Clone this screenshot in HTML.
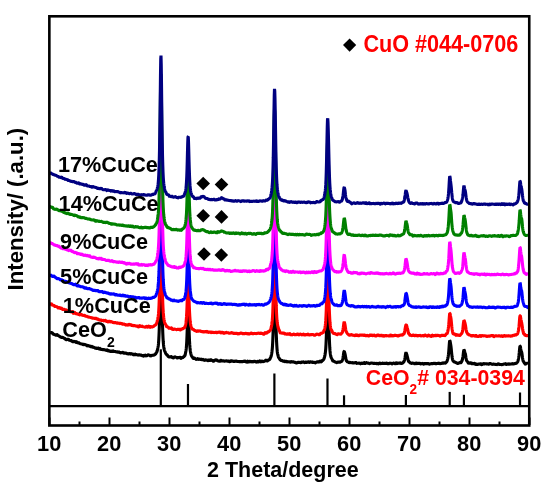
<!DOCTYPE html>
<html><head><meta charset="utf-8"><style>
html,body{margin:0;padding:0;background:#fff;}
svg{display:block;filter:blur(0.35px);}
text{font-family:"Liberation Sans",Arial,sans-serif;font-weight:bold;}
</style></head><body>
<svg width="550" height="490" viewBox="0 0 550 490">
<rect width="550" height="490" fill="#fff"/>
<g fill="none" stroke-width="3.1" stroke-linejoin="bevel" stroke-linecap="butt">
<path d="M50.00 332.48 L50.25 332.62 L50.50 332.62 L50.75 332.54 L51.00 332.50 L51.25 332.51 L51.50 332.61 L51.75 332.71 L52.00 332.76 L52.25 332.84 L52.50 333.07 L52.75 333.53 L53.00 334.01 L53.25 334.18 L53.50 334.14 L53.75 334.16 L54.00 334.29 L54.25 334.55 L54.50 334.75 L54.75 334.75 L55.00 334.59 L55.25 334.48 L55.50 334.63 L55.75 334.95 L56.00 335.31 L56.25 335.48 L56.50 335.26 L56.75 334.86 L57.00 334.58 L57.25 334.60 L57.50 335.01 L57.75 335.55 L58.00 335.83 L58.25 335.76 L58.50 335.69 L58.75 335.83 L59.00 335.96 L59.25 336.03 L59.50 336.26 L59.75 336.60 L60.00 336.83 L60.25 336.86 L60.50 336.95 L60.75 337.12 L61.00 337.22 L61.25 337.28 L61.50 337.37 L61.75 337.49 L62.00 337.44 L62.25 337.27 L62.50 337.26 L62.75 337.41 L63.00 337.58 L63.25 337.66 L63.50 337.77 L63.75 338.03 L64.00 338.31 L64.25 338.37 L64.50 338.23 L64.75 338.18 L65.00 338.48 L65.25 338.97 L65.50 339.31 L65.75 339.49 L66.00 339.62 L66.25 339.71 L66.50 339.65 L66.75 339.58 L67.00 339.58 L67.25 339.48 L67.50 339.32 L67.75 339.25 L68.00 339.32 L68.25 339.38 L68.50 339.40 L68.75 339.50 L69.00 339.80 L69.25 340.27 L69.50 340.66 L69.75 340.55 L70.00 340.06 L70.25 339.86 L70.50 340.19 L70.75 340.62 L71.00 340.72 L71.25 340.58 L71.50 340.62 L71.75 340.99 L72.00 341.41 L72.25 341.50 L72.50 341.39 L72.75 341.51 L73.00 341.84 L73.25 341.98 L73.50 341.74 L73.75 341.39 L74.00 341.31 L74.25 341.52 L74.50 341.87 L74.75 342.06 L75.00 341.90 L75.25 341.56 L75.50 341.35 L75.75 341.52 L76.00 342.02 L76.25 342.48 L76.50 342.60 L76.75 342.37 L77.00 342.12 L77.25 342.15 L77.50 342.51 L77.75 342.98 L78.00 343.21 L78.25 343.04 L78.50 342.76 L78.75 342.67 L79.00 342.82 L79.25 343.10 L79.50 343.40 L79.75 343.59 L80.00 343.63 L80.25 343.70 L80.50 343.78 L80.75 343.81 L81.00 343.83 L81.25 343.95 L81.50 344.06 L81.75 344.04 L82.00 343.97 L82.25 343.96 L82.50 344.13 L82.75 344.45 L83.00 344.70 L83.25 344.69 L83.50 344.50 L83.75 344.36 L84.00 344.39 L84.25 344.51 L84.50 344.53 L84.75 344.47 L85.00 344.56 L85.25 344.78 L85.50 344.91 L85.75 344.80 L86.00 344.69 L86.25 344.87 L86.50 345.24 L86.75 345.64 L87.00 345.85 L87.25 345.85 L87.50 345.75 L87.75 345.59 L88.00 345.45 L88.25 345.46 L88.50 345.69 L88.75 345.94 L89.00 346.06 L89.25 346.00 L89.50 345.90 L89.75 345.97 L90.00 346.21 L90.25 346.50 L90.50 346.68 L90.75 346.78 L91.00 346.77 L91.25 346.52 L91.50 346.24 L91.75 346.30 L92.00 346.69 L92.25 347.10 L92.50 347.28 L92.75 347.31 L93.00 347.22 L93.25 347.05 L93.50 347.06 L93.75 347.29 L94.00 347.51 L94.25 347.54 L94.50 347.56 L94.75 347.79 L95.00 348.15 L95.25 348.35 L95.50 348.26 L95.75 348.07 L96.00 348.14 L96.25 348.38 L96.50 348.43 L96.75 348.30 L97.00 348.27 L97.25 348.38 L97.50 348.35 L97.75 348.24 L98.00 348.11 L98.25 348.01 L98.50 348.11 L98.75 348.47 L99.00 348.89 L99.25 348.95 L99.50 348.60 L99.75 348.28 L100.00 348.37 L100.25 348.86 L100.50 349.37 L100.75 349.55 L101.00 349.43 L101.25 349.36 L101.50 349.37 L101.75 349.35 L102.00 349.35 L102.25 349.44 L102.50 349.61 L102.75 349.67 L103.00 349.62 L103.25 349.55 L103.50 349.48 L103.75 349.43 L104.00 349.44 L104.25 349.61 L104.50 349.89 L104.75 350.07 L105.00 350.01 L105.25 349.80 L105.50 349.73 L105.75 349.93 L106.00 350.23 L106.25 350.41 L106.50 350.33 L106.75 350.05 L107.00 349.81 L107.25 349.80 L107.50 350.08 L107.75 350.47 L108.00 350.81 L108.25 351.04 L108.50 351.03 L108.75 350.87 L109.00 350.73 L109.25 350.73 L109.50 350.86 L109.75 350.94 L110.00 351.10 L110.25 351.40 L110.50 351.53 L110.75 351.37 L111.00 351.15 L111.25 351.14 L111.50 351.31 L111.75 351.44 L112.00 351.51 L112.25 351.51 L112.50 351.32 L112.75 351.02 L113.00 350.84 L113.25 350.92 L113.50 351.15 L113.75 351.36 L114.00 351.47 L114.25 351.52 L114.50 351.56 L114.75 351.56 L115.00 351.55 L115.25 351.60 L115.50 351.65 L115.75 351.65 L116.00 351.69 L116.25 351.88 L116.50 352.07 L116.75 352.05 L117.00 351.88 L117.25 351.69 L117.50 351.69 L117.75 351.90 L118.00 352.18 L118.25 352.27 L118.50 352.05 L118.75 351.82 L119.00 351.90 L119.25 352.22 L119.50 352.47 L119.75 352.55 L120.00 352.58 L120.25 352.68 L120.50 352.92 L120.75 353.04 L121.00 352.89 L121.25 352.63 L121.50 352.57 L121.75 352.81 L122.00 352.91 L122.25 352.76 L122.50 352.53 L122.75 352.38 L123.00 352.39 L123.25 352.58 L123.50 352.92 L123.75 353.18 L124.00 353.28 L124.25 353.21 L124.50 353.06 L124.75 353.07 L125.00 353.17 L125.25 353.16 L125.50 353.03 L125.75 352.95 L126.00 353.06 L126.25 353.20 L126.50 353.43 L126.75 353.70 L127.00 353.71 L127.25 353.52 L127.50 353.51 L127.75 353.75 L128.00 353.98 L128.25 354.02 L128.50 353.98 L128.75 353.89 L129.00 353.70 L129.25 353.51 L129.50 353.38 L129.75 353.47 L130.00 353.75 L130.25 354.07 L130.50 354.15 L130.75 353.91 L131.00 353.66 L131.25 353.68 L131.50 354.05 L131.75 354.38 L132.00 354.20 L132.25 353.73 L132.50 353.55 L132.75 353.95 L133.00 354.52 L133.25 354.73 L133.50 354.76 L133.75 354.82 L134.00 354.84 L134.25 354.65 L134.50 354.21 L134.75 353.91 L135.00 353.99 L135.25 354.33 L135.50 354.59 L135.75 354.61 L136.00 354.51 L136.25 354.41 L136.50 354.47 L136.75 354.62 L137.00 354.76 L137.25 354.80 L137.50 354.87 L137.75 355.05 L138.00 355.16 L138.25 355.09 L138.50 354.91 L138.75 354.73 L139.00 354.68 L139.25 354.70 L139.50 354.80 L139.75 354.97 L140.00 355.11 L140.25 355.18 L140.50 355.13 L140.75 355.06 L141.00 355.05 L141.25 355.09 L141.50 355.23 L141.75 355.47 L142.00 355.69 L142.25 355.72 L142.50 355.63 L142.75 355.68 L143.00 355.98 L143.25 356.28 L143.50 356.20 L143.75 355.80 L144.00 355.39 L144.25 355.37 L144.50 355.69 L144.75 355.85 L145.00 355.58 L145.25 355.16 L145.50 355.15 L145.75 355.55 L146.00 355.89 L146.25 355.94 L146.50 355.83 L146.75 355.73 L147.00 355.68 L147.25 355.55 L147.50 355.29 L147.75 354.97 L148.00 354.71 L148.25 354.69 L148.50 354.87 L148.75 355.06 L149.00 355.15 L149.25 355.19 L149.50 355.20 L149.75 355.24 L150.00 355.45 L150.25 355.85 L150.50 356.12 L150.75 356.01 L151.00 355.72 L151.25 355.53 L151.50 355.51 L151.75 355.53 L152.00 355.42 L152.25 355.22 L152.50 355.13 L152.75 355.20 L153.00 355.26 L153.25 355.17 L153.50 355.15 L153.75 355.17 L154.00 355.09 L154.25 354.97 L154.50 354.81 L154.75 354.68 L155.00 354.50 L155.25 354.30 L155.50 354.11 L155.75 353.75 L156.00 353.28 L156.25 352.84 L156.50 352.42 L156.75 352.01 L157.00 351.50 L157.25 350.78 L157.50 349.70 L157.75 348.43 L158.00 347.26 L158.25 345.92 L158.50 343.65 L158.75 340.05 L159.00 335.24 L159.25 329.03 L159.50 320.47 L159.75 308.54 L160.00 293.14 L160.25 275.41 L160.50 258.21 L160.75 246.25 L161.00 243.86 L161.25 251.77 L161.50 266.86 L161.75 284.50 L162.00 300.94 L162.25 314.42 L162.50 324.71 L162.75 332.30 L163.00 337.78 L163.25 341.74 L163.50 344.65 L163.75 346.79 L164.00 348.39 L164.25 349.55 L164.50 350.44 L164.75 351.12 L165.00 351.67 L165.25 352.23 L165.50 352.88 L165.75 353.52 L166.00 353.90 L166.25 354.06 L166.50 354.37 L166.75 354.79 L167.00 355.02 L167.25 355.04 L167.50 355.25 L167.75 355.82 L168.00 356.31 L168.25 356.49 L168.50 356.56 L168.75 356.71 L169.00 356.93 L169.25 357.02 L169.50 356.99 L169.75 356.94 L170.00 356.94 L170.25 357.00 L170.50 356.87 L170.75 356.53 L171.00 356.31 L171.25 356.52 L171.50 356.98 L171.75 357.27 L172.00 357.38 L172.25 357.52 L172.50 357.66 L172.75 357.77 L173.00 357.81 L173.25 357.85 L173.50 357.89 L173.75 357.72 L174.00 357.37 L174.25 357.08 L174.50 356.95 L174.75 356.93 L175.00 356.82 L175.25 356.80 L175.50 357.04 L175.75 357.30 L176.00 357.34 L176.25 357.33 L176.50 357.46 L176.75 357.71 L177.00 357.94 L177.25 358.00 L177.50 357.91 L177.75 357.70 L178.00 357.47 L178.25 357.44 L178.50 357.53 L178.75 357.61 L179.00 357.60 L179.25 357.53 L179.50 357.49 L179.75 357.38 L180.00 357.29 L180.25 357.39 L180.50 357.71 L180.75 358.13 L181.00 358.48 L181.25 358.50 L181.50 358.03 L181.75 357.48 L182.00 357.49 L182.25 357.86 L182.50 358.01 L182.75 357.75 L183.00 357.29 L183.25 357.01 L183.50 356.89 L183.75 356.78 L184.00 356.62 L184.25 356.26 L184.50 355.90 L184.75 355.73 L185.00 355.38 L185.25 354.49 L185.50 353.10 L185.75 351.75 L186.00 350.52 L186.25 348.68 L186.50 345.73 L186.75 341.49 L187.00 335.86 L187.25 328.87 L187.50 320.96 L187.75 313.76 L188.00 309.49 L188.25 309.54 L188.50 313.57 L188.75 320.21 L189.00 327.87 L189.25 335.01 L189.50 340.76 L189.75 344.96 L190.00 347.95 L190.25 350.19 L190.50 351.92 L190.75 353.27 L191.00 354.33 L191.25 355.16 L191.50 355.82 L191.75 356.32 L192.00 356.65 L192.25 356.89 L192.50 357.22 L192.75 357.65 L193.00 358.09 L193.25 358.35 L193.50 358.35 L193.75 358.18 L194.00 357.99 L194.25 357.95 L194.50 358.06 L194.75 358.23 L195.00 358.48 L195.25 358.68 L195.50 358.75 L195.75 358.77 L196.00 358.99 L196.25 359.40 L196.50 359.55 L196.75 359.34 L197.00 359.07 L197.25 358.93 L197.50 358.81 L197.75 358.58 L198.00 358.53 L198.25 358.92 L198.50 359.44 L198.75 359.55 L199.00 359.26 L199.25 358.98 L199.50 359.03 L199.75 359.21 L200.00 359.32 L200.25 359.40 L200.50 359.33 L200.75 359.20 L201.00 359.16 L201.25 359.16 L201.50 359.21 L201.75 359.42 L202.00 359.76 L202.25 359.86 L202.50 359.56 L202.75 359.31 L203.00 359.39 L203.25 359.67 L203.50 359.91 L203.75 360.06 L204.00 360.11 L204.25 360.05 L204.50 360.13 L204.75 360.35 L205.00 360.42 L205.25 360.15 L205.50 359.76 L205.75 359.69 L206.00 359.86 L206.25 359.98 L206.50 360.00 L206.75 360.04 L207.00 360.18 L207.25 360.36 L207.50 360.58 L207.75 360.78 L208.00 360.73 L208.25 360.38 L208.50 360.00 L208.75 359.89 L209.00 360.04 L209.25 360.29 L209.50 360.49 L209.75 360.57 L210.00 360.46 L210.25 360.14 L210.50 359.82 L210.75 359.70 L211.00 359.80 L211.25 360.00 L211.50 360.13 L211.75 360.30 L212.00 360.49 L212.25 360.56 L212.50 360.57 L212.75 360.61 L213.00 360.87 L213.25 361.19 L213.50 361.29 L213.75 361.17 L214.00 360.88 L214.25 360.57 L214.50 360.34 L214.75 360.28 L215.00 360.33 L215.25 360.27 L215.50 360.02 L215.75 359.81 L216.00 359.84 L216.25 360.01 L216.50 360.11 L216.75 360.08 L217.00 360.11 L217.25 360.33 L217.50 360.76 L217.75 361.07 L218.00 361.05 L218.25 360.88 L218.50 360.82 L218.75 361.03 L219.00 361.21 L219.25 361.24 L219.50 361.27 L219.75 361.33 L220.00 361.23 L220.25 360.88 L220.50 360.48 L220.75 360.27 L221.00 360.28 L221.25 360.47 L221.50 360.72 L221.75 360.93 L222.00 360.97 L222.25 360.93 L222.50 360.89 L222.75 360.90 L223.00 360.87 L223.25 360.76 L223.50 360.76 L223.75 360.95 L224.00 361.08 L224.25 361.06 L224.50 361.07 L224.75 361.22 L225.00 361.24 L225.25 361.11 L225.50 361.02 L225.75 361.00 L226.00 360.93 L226.25 360.75 L226.50 360.72 L226.75 360.94 L227.00 361.14 L227.25 361.14 L227.50 361.02 L227.75 361.00 L228.00 361.11 L228.25 361.11 L228.50 361.05 L228.75 361.08 L229.00 361.27 L229.25 361.56 L229.50 361.78 L229.75 361.80 L230.00 361.57 L230.25 361.37 L230.50 361.26 L230.75 361.04 L231.00 360.79 L231.25 360.69 L231.50 360.83 L231.75 361.01 L232.00 361.14 L232.25 361.24 L232.50 361.23 L232.75 361.11 L233.00 361.09 L233.25 361.28 L233.50 361.54 L233.75 361.58 L234.00 361.31 L234.25 361.16 L234.50 361.28 L234.75 361.40 L235.00 361.33 L235.25 361.09 L235.50 361.01 L235.75 361.14 L236.00 361.26 L236.25 361.24 L236.50 361.06 L236.75 361.07 L237.00 361.29 L237.25 361.48 L237.50 361.57 L237.75 361.53 L238.00 361.45 L238.25 361.41 L238.50 361.45 L238.75 361.54 L239.00 361.64 L239.25 361.64 L239.50 361.58 L239.75 361.61 L240.00 361.63 L240.25 361.54 L240.50 361.42 L240.75 361.51 L241.00 361.78 L241.25 361.85 L241.50 361.74 L241.75 361.67 L242.00 361.60 L242.25 361.60 L242.50 361.66 L242.75 361.62 L243.00 361.43 L243.25 361.25 L243.50 361.34 L243.75 361.49 L244.00 361.43 L244.25 361.28 L244.50 361.15 L244.75 361.10 L245.00 361.13 L245.25 361.29 L245.50 361.49 L245.75 361.61 L246.00 361.69 L246.25 361.87 L246.50 362.15 L246.75 362.31 L247.00 362.16 L247.25 361.66 L247.50 361.13 L247.75 361.01 L248.00 361.31 L248.25 361.70 L248.50 361.92 L248.75 361.96 L249.00 361.87 L249.25 361.64 L249.50 361.40 L249.75 361.32 L250.00 361.29 L250.25 361.26 L250.50 361.40 L250.75 361.68 L251.00 361.90 L251.25 361.84 L251.50 361.69 L251.75 361.61 L252.00 361.54 L252.25 361.50 L252.50 361.60 L252.75 361.81 L253.00 361.87 L253.25 361.70 L253.50 361.48 L253.75 361.38 L254.00 361.38 L254.25 361.35 L254.50 361.31 L254.75 361.33 L255.00 361.37 L255.25 361.45 L255.50 361.66 L255.75 361.99 L256.00 362.21 L256.25 362.11 L256.50 361.89 L256.75 361.86 L257.00 361.85 L257.25 361.64 L257.50 361.34 L257.75 361.29 L258.00 361.64 L258.25 362.00 L258.50 362.03 L258.75 361.78 L259.00 361.62 L259.25 361.59 L259.50 361.30 L259.75 360.83 L260.00 360.67 L260.25 361.04 L260.50 361.59 L260.75 361.90 L261.00 361.92 L261.25 361.66 L261.50 361.30 L261.75 361.07 L262.00 361.07 L262.25 361.20 L262.50 361.37 L262.75 361.53 L263.00 361.69 L263.25 361.71 L263.50 361.58 L263.75 361.48 L264.00 361.37 L264.25 361.21 L264.50 361.08 L264.75 361.06 L265.00 360.98 L265.25 360.66 L265.50 360.32 L265.75 360.18 L266.00 360.16 L266.25 360.22 L266.50 360.40 L266.75 360.67 L267.00 360.92 L267.25 360.98 L267.50 360.86 L267.75 360.60 L268.00 360.29 L268.25 360.15 L268.50 360.05 L268.75 359.90 L269.00 359.77 L269.25 359.67 L269.50 359.62 L269.75 359.40 L270.00 358.84 L270.25 358.18 L270.50 357.61 L270.75 357.18 L271.00 356.63 L271.25 355.74 L271.50 354.58 L271.75 353.17 L272.00 351.43 L272.25 349.06 L272.50 345.76 L272.75 341.16 L273.00 334.86 L273.25 326.40 L273.50 315.51 L273.75 302.38 L274.00 288.37 L274.25 276.78 L274.50 271.31 L274.75 273.03 L275.00 280.10 L275.25 290.74 L275.50 303.35 L275.75 315.69 L276.00 326.04 L276.25 333.95 L276.50 339.99 L276.75 344.87 L277.00 348.68 L277.25 351.44 L277.50 353.30 L277.75 354.50 L278.00 355.42 L278.25 356.36 L278.50 357.23 L278.75 357.70 L279.00 357.94 L279.25 358.30 L279.50 358.82 L279.75 359.30 L280.00 359.62 L280.25 359.83 L280.50 360.00 L280.75 360.21 L281.00 360.38 L281.25 360.41 L281.50 360.38 L281.75 360.43 L282.00 360.51 L282.25 360.63 L282.50 360.93 L282.75 361.16 L283.00 361.15 L283.25 360.95 L283.50 360.84 L283.75 360.93 L284.00 361.04 L284.25 361.23 L284.50 361.55 L284.75 361.78 L285.00 361.71 L285.25 361.45 L285.50 361.24 L285.75 361.22 L286.00 361.29 L286.25 361.32 L286.50 361.47 L286.75 361.69 L287.00 361.85 L287.25 361.84 L287.50 361.65 L287.75 361.59 L288.00 361.68 L288.25 361.76 L288.50 361.70 L288.75 361.56 L289.00 361.67 L289.25 361.92 L289.50 362.06 L289.75 362.05 L290.00 362.05 L290.25 362.16 L290.50 362.12 L290.75 361.87 L291.00 361.63 L291.25 361.61 L291.50 361.77 L291.75 361.83 L292.00 361.81 L292.25 361.85 L292.50 362.01 L292.75 362.09 L293.00 361.96 L293.25 361.80 L293.50 361.84 L293.75 361.95 L294.00 362.06 L294.25 362.20 L294.50 362.36 L294.75 362.43 L295.00 362.34 L295.25 362.30 L295.50 362.45 L295.75 362.65 L296.00 362.86 L296.25 363.00 L296.50 363.07 L296.75 363.02 L297.00 362.84 L297.25 362.59 L297.50 362.41 L297.75 362.37 L298.00 362.41 L298.25 362.41 L298.50 362.35 L298.75 362.35 L299.00 362.42 L299.25 362.45 L299.50 362.42 L299.75 362.42 L300.00 362.48 L300.25 362.62 L300.50 362.76 L300.75 362.76 L301.00 362.53 L301.25 362.18 L301.50 361.94 L301.75 361.93 L302.00 362.09 L302.25 362.25 L302.50 362.26 L302.75 362.09 L303.00 361.95 L303.25 361.90 L303.50 361.90 L303.75 362.00 L304.00 362.28 L304.25 362.57 L304.50 362.62 L304.75 362.48 L305.00 362.53 L305.25 362.70 L305.50 362.55 L305.75 362.21 L306.00 362.08 L306.25 362.05 L306.50 361.76 L306.75 361.52 L307.00 361.88 L307.25 362.55 L307.50 362.75 L307.75 362.36 L308.00 361.92 L308.25 361.73 L308.50 361.79 L308.75 361.98 L309.00 362.28 L309.25 362.54 L309.50 362.56 L309.75 362.34 L310.00 361.99 L310.25 361.75 L310.50 361.72 L310.75 361.79 L311.00 361.76 L311.25 361.69 L311.50 361.86 L311.75 362.17 L312.00 362.23 L312.25 362.10 L312.50 362.18 L312.75 362.55 L313.00 362.80 L313.25 362.59 L313.50 362.26 L313.75 362.17 L314.00 362.29 L314.25 362.40 L314.50 362.45 L314.75 362.56 L315.00 362.79 L315.25 362.94 L315.50 362.88 L315.75 362.58 L316.00 362.25 L316.25 362.17 L316.50 362.23 L316.75 362.25 L317.00 362.02 L317.25 361.71 L317.50 361.61 L317.75 361.78 L318.00 362.08 L318.25 362.11 L318.50 361.86 L318.75 361.61 L319.00 361.64 L319.25 361.90 L319.50 361.86 L319.75 361.43 L320.00 361.01 L320.25 360.98 L320.50 361.34 L320.75 361.68 L321.00 361.83 L321.25 361.83 L321.50 361.59 L321.75 361.17 L322.00 360.78 L322.25 360.61 L322.50 360.56 L322.75 360.41 L323.00 360.12 L323.25 359.78 L323.50 359.55 L323.75 359.32 L324.00 358.84 L324.25 358.06 L324.50 357.17 L324.75 356.20 L325.00 354.96 L325.25 353.34 L325.50 351.33 L325.75 348.54 L326.00 344.36 L326.25 338.61 L326.50 331.22 L326.75 322.20 L327.00 311.88 L327.25 302.09 L327.50 295.97 L327.75 295.06 L328.00 298.27 L328.25 303.92 L328.50 311.41 L328.75 320.12 L329.00 328.71 L329.25 336.28 L329.50 342.57 L329.75 347.46 L330.00 350.88 L330.25 353.16 L330.50 354.83 L330.75 356.19 L331.00 357.12 L331.25 357.67 L331.50 358.15 L331.75 358.67 L332.00 359.17 L332.25 359.70 L332.50 360.28 L332.75 360.78 L333.00 361.03 L333.25 361.07 L333.50 361.12 L333.75 361.21 L334.00 361.30 L334.25 361.43 L334.50 361.63 L334.75 361.86 L335.00 361.94 L335.25 361.99 L335.50 362.10 L335.75 362.24 L336.00 362.31 L336.25 362.29 L336.50 362.42 L336.75 362.58 L337.00 362.58 L337.25 362.40 L337.50 362.15 L337.75 362.03 L338.00 362.02 L338.25 362.06 L338.50 362.13 L338.75 362.16 L339.00 362.09 L339.25 362.11 L339.50 362.30 L339.75 362.42 L340.00 362.27 L340.25 361.95 L340.50 361.72 L340.75 361.68 L341.00 361.64 L341.25 361.60 L341.50 361.54 L341.75 361.36 L342.00 360.96 L342.25 360.38 L342.50 359.74 L342.75 358.85 L343.00 357.57 L343.25 356.00 L343.50 354.26 L343.75 352.54 L344.00 351.33 L344.25 351.21 L344.50 351.93 L344.75 352.81 L345.00 353.77 L345.25 355.03 L345.50 356.56 L345.75 358.13 L346.00 359.49 L346.25 360.45 L346.50 360.88 L346.75 361.08 L347.00 361.44 L347.25 361.80 L347.50 361.89 L347.75 361.86 L348.00 361.94 L348.25 362.12 L348.50 362.22 L348.75 362.35 L349.00 362.67 L349.25 362.93 L349.50 362.77 L349.75 362.37 L350.00 362.25 L350.25 362.48 L350.50 362.64 L350.75 362.55 L351.00 362.53 L351.25 362.70 L351.50 362.78 L351.75 362.73 L352.00 362.67 L352.25 362.67 L352.50 362.83 L352.75 362.99 L353.00 363.01 L353.25 362.88 L353.50 362.76 L353.75 362.84 L354.00 362.96 L354.25 362.92 L354.50 362.68 L354.75 362.49 L355.00 362.54 L355.25 362.64 L355.50 362.57 L355.75 362.41 L356.00 362.57 L356.25 363.06 L356.50 363.46 L356.75 363.46 L357.00 363.12 L357.25 362.94 L357.50 363.10 L357.75 363.29 L358.00 363.29 L358.25 363.12 L358.50 363.11 L358.75 363.35 L359.00 363.47 L359.25 363.33 L359.50 363.11 L359.75 363.10 L360.00 363.33 L360.25 363.64 L360.50 363.86 L360.75 363.83 L361.00 363.54 L361.25 363.22 L361.50 363.07 L361.75 363.16 L362.00 363.36 L362.25 363.52 L362.50 363.52 L362.75 363.45 L363.00 363.42 L363.25 363.34 L363.50 363.11 L363.75 362.71 L364.00 362.38 L364.25 362.49 L364.50 363.00 L364.75 363.48 L365.00 363.62 L365.25 363.48 L365.50 363.30 L365.75 363.12 L366.00 362.85 L366.25 362.67 L366.50 362.66 L366.75 362.79 L367.00 363.00 L367.25 363.04 L367.50 362.99 L367.75 363.01 L368.00 363.17 L368.25 363.24 L368.50 363.12 L368.75 363.16 L369.00 363.48 L369.25 363.75 L369.50 363.72 L369.75 363.53 L370.00 363.37 L370.25 363.29 L370.50 363.23 L370.75 363.12 L371.00 363.04 L371.25 363.03 L371.50 363.06 L371.75 363.05 L372.00 363.05 L372.25 363.13 L372.50 363.23 L372.75 363.26 L373.00 363.29 L373.25 363.37 L373.50 363.35 L373.75 363.21 L374.00 363.15 L374.25 363.26 L374.50 363.42 L374.75 363.44 L375.00 363.38 L375.25 363.43 L375.50 363.46 L375.75 363.47 L376.00 363.53 L376.25 363.62 L376.50 363.60 L376.75 363.35 L377.00 363.24 L377.25 363.46 L377.50 363.74 L377.75 363.72 L378.00 363.45 L378.25 363.33 L378.50 363.55 L378.75 363.93 L379.00 364.00 L379.25 363.55 L379.50 363.01 L379.75 362.87 L380.00 363.16 L380.25 363.46 L380.50 363.56 L380.75 363.62 L381.00 363.64 L381.25 363.54 L381.50 363.45 L381.75 363.44 L382.00 363.35 L382.25 363.16 L382.50 363.16 L382.75 363.42 L383.00 363.58 L383.25 363.38 L383.50 363.17 L383.75 363.28 L384.00 363.55 L384.25 363.55 L384.50 363.34 L384.75 363.24 L385.00 363.33 L385.25 363.39 L385.50 363.34 L385.75 363.39 L386.00 363.41 L386.25 363.27 L386.50 363.14 L386.75 363.13 L387.00 363.29 L387.25 363.52 L387.50 363.70 L387.75 363.75 L388.00 363.65 L388.25 363.66 L388.50 363.72 L388.75 363.70 L389.00 363.60 L389.25 363.39 L389.50 363.18 L389.75 363.09 L390.00 363.15 L390.25 363.22 L390.50 363.20 L390.75 363.15 L391.00 363.24 L391.25 363.44 L391.50 363.61 L391.75 363.81 L392.00 363.98 L392.25 363.97 L392.50 363.73 L392.75 363.42 L393.00 363.25 L393.25 363.17 L393.50 363.10 L393.75 363.14 L394.00 363.21 L394.25 363.21 L394.50 363.31 L394.75 363.50 L395.00 363.63 L395.25 363.69 L395.50 363.61 L395.75 363.31 L396.00 362.84 L396.25 362.54 L396.50 362.71 L396.75 363.20 L397.00 363.66 L397.25 363.76 L397.50 363.50 L397.75 363.26 L398.00 363.25 L398.25 363.31 L398.50 363.20 L398.75 363.02 L399.00 363.02 L399.25 363.14 L399.50 363.16 L399.75 363.04 L400.00 362.90 L400.25 362.92 L400.50 363.11 L400.75 363.35 L401.00 363.55 L401.25 363.59 L401.50 363.49 L401.75 363.34 L402.00 363.26 L402.25 363.28 L402.50 363.23 L402.75 362.96 L403.00 362.56 L403.25 362.28 L403.50 362.20 L403.75 362.01 L404.00 361.55 L404.25 360.92 L404.50 360.25 L404.75 359.35 L405.00 357.95 L405.25 356.15 L405.50 354.34 L405.75 353.03 L406.00 352.60 L406.25 352.99 L406.50 353.68 L406.75 354.40 L407.00 355.28 L407.25 356.31 L407.50 357.34 L407.75 358.35 L408.00 359.47 L408.25 360.59 L408.50 361.36 L408.75 361.61 L409.00 361.57 L409.25 361.67 L409.50 362.10 L409.75 362.55 L410.00 362.76 L410.25 362.87 L410.50 363.04 L410.75 363.15 L411.00 363.13 L411.25 363.19 L411.50 363.34 L411.75 363.35 L412.00 363.23 L412.25 363.08 L412.50 363.06 L412.75 363.13 L413.00 363.19 L413.25 363.22 L413.50 363.21 L413.75 363.26 L414.00 363.45 L414.25 363.65 L414.50 363.71 L414.75 363.65 L415.00 363.60 L415.25 363.58 L415.50 363.42 L415.75 363.10 L416.00 362.85 L416.25 362.95 L416.50 363.32 L416.75 363.65 L417.00 363.74 L417.25 363.54 L417.50 363.20 L417.75 363.04 L418.00 363.22 L418.25 363.55 L418.50 363.64 L418.75 363.43 L419.00 363.22 L419.25 363.16 L419.50 363.25 L419.75 363.37 L420.00 363.48 L420.25 363.70 L420.50 363.93 L420.75 363.99 L421.00 363.79 L421.25 363.48 L421.50 363.40 L421.75 363.65 L422.00 363.88 L422.25 363.72 L422.50 363.40 L422.75 363.44 L423.00 363.79 L423.25 364.07 L423.50 364.12 L423.75 364.08 L424.00 363.98 L424.25 363.76 L424.50 363.58 L424.75 363.51 L425.00 363.53 L425.25 363.53 L425.50 363.58 L425.75 363.67 L426.00 363.65 L426.25 363.62 L426.50 363.58 L426.75 363.56 L427.00 363.58 L427.25 363.66 L427.50 363.76 L427.75 363.71 L428.00 363.57 L428.25 363.55 L428.50 363.63 L428.75 363.71 L429.00 363.90 L429.25 364.15 L429.50 364.19 L429.75 363.99 L430.00 363.81 L430.25 363.85 L430.50 363.82 L430.75 363.68 L431.00 363.70 L431.25 363.80 L431.50 363.72 L431.75 363.47 L432.00 363.37 L432.25 363.50 L432.50 363.63 L432.75 363.65 L433.00 363.62 L433.25 363.55 L433.50 363.44 L433.75 363.38 L434.00 363.38 L434.25 363.43 L434.50 363.45 L434.75 363.35 L435.00 363.18 L435.25 363.19 L435.50 363.48 L435.75 363.88 L436.00 364.04 L436.25 363.85 L436.50 363.56 L436.75 363.43 L437.00 363.47 L437.25 363.55 L437.50 363.53 L437.75 363.40 L438.00 363.31 L438.25 363.41 L438.50 363.58 L438.75 363.47 L439.00 363.22 L439.25 363.19 L439.50 363.27 L439.75 363.29 L440.00 363.45 L440.25 363.75 L440.50 363.84 L440.75 363.58 L441.00 363.36 L441.25 363.38 L441.50 363.46 L441.75 363.54 L442.00 363.55 L442.25 363.39 L442.50 363.05 L442.75 362.77 L443.00 362.81 L443.25 363.10 L443.50 363.34 L443.75 363.30 L444.00 362.99 L444.25 362.69 L444.50 362.69 L444.75 362.99 L445.00 363.23 L445.25 363.22 L445.50 363.05 L445.75 362.83 L446.00 362.52 L446.25 362.17 L446.50 362.00 L446.75 361.86 L447.00 361.38 L447.25 360.58 L447.50 359.68 L447.75 358.80 L448.00 357.71 L448.25 356.20 L448.50 354.23 L448.75 351.62 L449.00 348.36 L449.25 344.86 L449.50 341.97 L449.75 340.60 L450.00 340.85 L450.25 342.04 L450.50 343.45 L450.75 344.94 L451.00 346.74 L451.25 349.02 L451.50 351.62 L451.75 354.17 L452.00 356.32 L452.25 357.98 L452.50 359.29 L452.75 360.19 L453.00 360.68 L453.25 360.91 L453.50 361.23 L453.75 361.65 L454.00 361.87 L454.25 361.88 L454.50 361.89 L454.75 362.00 L455.00 362.16 L455.25 362.28 L455.50 362.39 L455.75 362.50 L456.00 362.61 L456.25 362.71 L456.50 362.81 L456.75 362.98 L457.00 363.22 L457.25 363.44 L457.50 363.43 L457.75 363.26 L458.00 363.20 L458.25 363.32 L458.50 363.38 L458.75 363.18 L459.00 362.95 L459.25 362.87 L459.50 362.81 L459.75 362.63 L460.00 362.41 L460.25 362.42 L460.50 362.65 L460.75 362.79 L461.00 362.66 L461.25 362.25 L461.50 361.82 L461.75 361.43 L462.00 360.86 L462.25 360.11 L462.50 359.25 L462.75 358.15 L463.00 356.46 L463.25 354.20 L463.50 352.01 L463.75 350.47 L464.00 349.86 L464.25 350.10 L464.50 350.92 L464.75 351.91 L465.00 352.73 L465.25 353.47 L465.50 354.56 L465.75 356.23 L466.00 358.03 L466.25 359.38 L466.50 360.22 L466.75 360.78 L467.00 361.20 L467.25 361.44 L467.50 361.58 L467.75 361.92 L468.00 362.53 L468.25 363.05 L468.50 363.20 L468.75 363.15 L469.00 363.16 L469.25 363.29 L469.50 363.39 L469.75 363.29 L470.00 363.03 L470.25 362.76 L470.50 362.67 L470.75 362.78 L471.00 363.04 L471.25 363.37 L471.50 363.59 L471.75 363.69 L472.00 363.67 L472.25 363.52 L472.50 363.35 L472.75 363.31 L473.00 363.50 L473.25 363.74 L473.50 363.84 L473.75 363.78 L474.00 363.56 L474.25 363.41 L474.50 363.36 L474.75 363.34 L475.00 363.54 L475.25 363.96 L475.50 364.37 L475.75 364.54 L476.00 364.53 L476.25 364.45 L476.50 364.26 L476.75 364.09 L477.00 364.06 L477.25 364.20 L477.50 364.38 L477.75 364.39 L478.00 364.23 L478.25 364.08 L478.50 364.15 L478.75 364.17 L479.00 363.91 L479.25 363.67 L479.50 363.80 L479.75 364.10 L480.00 364.08 L480.25 363.79 L480.50 363.65 L480.75 363.82 L481.00 364.17 L481.25 364.47 L481.50 364.62 L481.75 364.62 L482.00 364.50 L482.25 364.27 L482.50 364.00 L482.75 363.87 L483.00 363.90 L483.25 363.90 L483.50 363.77 L483.75 363.62 L484.00 363.62 L484.25 363.78 L484.50 363.99 L484.75 363.95 L485.00 363.83 L485.25 363.80 L485.50 363.80 L485.75 363.81 L486.00 363.79 L486.25 363.87 L486.50 363.90 L486.75 363.82 L487.00 363.84 L487.25 363.90 L487.50 363.94 L487.75 363.98 L488.00 364.05 L488.25 364.14 L488.50 364.17 L488.75 364.16 L489.00 364.18 L489.25 364.08 L489.50 363.77 L489.75 363.35 L490.00 363.11 L490.25 363.32 L490.50 363.77 L490.75 364.03 L491.00 363.95 L491.25 363.86 L491.50 364.00 L491.75 364.20 L492.00 364.32 L492.25 364.33 L492.50 364.31 L492.75 364.30 L493.00 364.24 L493.25 364.13 L493.50 364.02 L493.75 364.05 L494.00 364.18 L494.25 364.27 L494.50 364.28 L494.75 364.31 L495.00 364.39 L495.25 364.42 L495.50 364.42 L495.75 364.47 L496.00 364.50 L496.25 364.51 L496.50 364.44 L496.75 364.46 L497.00 364.61 L497.25 364.57 L497.50 364.29 L497.75 363.92 L498.00 363.75 L498.25 363.85 L498.50 364.02 L498.75 364.27 L499.00 364.47 L499.25 364.40 L499.50 364.20 L499.75 364.18 L500.00 364.36 L500.25 364.50 L500.50 364.46 L500.75 364.43 L501.00 364.55 L501.25 364.69 L501.50 364.64 L501.75 364.41 L502.00 364.25 L502.25 364.48 L502.50 364.75 L502.75 364.66 L503.00 364.33 L503.25 364.10 L503.50 364.17 L503.75 364.23 L504.00 364.09 L504.25 363.93 L504.50 363.93 L504.75 363.97 L505.00 363.83 L505.25 363.63 L505.50 363.68 L505.75 364.05 L506.00 364.37 L506.25 364.47 L506.50 364.37 L506.75 364.15 L507.00 363.96 L507.25 363.91 L507.50 364.03 L507.75 364.15 L508.00 364.11 L508.25 363.89 L508.50 363.69 L508.75 363.84 L509.00 364.28 L509.25 364.50 L509.50 364.32 L509.75 364.18 L510.00 364.38 L510.25 364.53 L510.50 364.27 L510.75 363.75 L511.00 363.44 L511.25 363.63 L511.50 364.05 L511.75 364.24 L512.00 364.02 L512.25 363.65 L512.50 363.54 L512.75 363.74 L513.00 364.00 L513.25 364.09 L513.50 363.97 L513.75 363.88 L514.00 363.82 L514.25 363.71 L514.50 363.60 L514.75 363.59 L515.00 363.61 L515.25 363.52 L515.50 363.43 L515.75 363.51 L516.00 363.56 L516.25 363.38 L516.50 363.03 L516.75 362.72 L517.00 362.52 L517.25 362.29 L517.50 362.00 L517.75 361.60 L518.00 360.95 L518.25 360.01 L518.50 358.79 L518.75 357.23 L519.00 355.22 L519.25 352.75 L519.50 350.00 L519.75 347.50 L520.00 345.96 L520.25 346.00 L520.50 347.28 L520.75 349.01 L521.00 350.50 L521.25 351.27 L521.50 351.66 L521.75 352.45 L522.00 353.98 L522.25 355.89 L522.50 357.70 L522.75 359.27 L523.00 360.48 L523.25 361.18 L523.50 361.50 L523.75 361.82 L524.00 362.29 L524.25 362.81 L524.50 363.15 L524.75 363.40 L525.00 363.77 L525.25 364.15 L525.50 364.22 L525.75 363.92 L526.00 363.60 L526.25 363.49 L526.50 363.51 L526.75 363.41 L527.00 363.19 L527.25 363.17 L527.50 363.45 L527.75 363.82 L528.00 364.02" stroke="#000000" /><path d="M50.00 304.16 L50.25 304.29 L50.50 304.22 L50.75 303.99 L51.00 303.72 L51.25 303.62 L51.50 303.86 L51.75 304.32 L52.00 304.76 L52.25 305.09 L52.50 305.29 L52.75 305.29 L53.00 305.20 L53.25 305.26 L53.50 305.36 L53.75 305.38 L54.00 305.48 L54.25 305.85 L54.50 306.24 L54.75 306.41 L55.00 306.46 L55.25 306.49 L55.50 306.46 L55.75 306.38 L56.00 306.42 L56.25 306.59 L56.50 306.72 L56.75 306.77 L57.00 306.83 L57.25 306.99 L57.50 307.25 L57.75 307.57 L58.00 307.89 L58.25 308.03 L58.50 307.90 L58.75 307.66 L59.00 307.59 L59.25 307.62 L59.50 307.68 L59.75 307.81 L60.00 308.08 L60.25 308.37 L60.50 308.47 L60.75 308.29 L61.00 308.03 L61.25 307.94 L61.50 308.17 L61.75 308.58 L62.00 308.92 L62.25 309.12 L62.50 309.30 L62.75 309.47 L63.00 309.54 L63.25 309.45 L63.50 309.27 L63.75 309.20 L64.00 309.28 L64.25 309.49 L64.50 309.66 L64.75 309.69 L65.00 309.76 L65.25 309.88 L65.50 309.90 L65.75 309.84 L66.00 309.87 L66.25 310.15 L66.50 310.48 L66.75 310.64 L67.00 310.74 L67.25 310.79 L67.50 310.74 L67.75 310.54 L68.00 310.30 L68.25 310.42 L68.50 310.89 L68.75 311.35 L69.00 311.47 L69.25 311.34 L69.50 311.31 L69.75 311.47 L70.00 311.63 L70.25 311.62 L70.50 311.65 L70.75 311.79 L71.00 311.90 L71.25 311.89 L71.50 311.72 L71.75 311.64 L72.00 311.70 L72.25 311.74 L72.50 311.63 L72.75 311.51 L73.00 311.82 L73.25 312.67 L73.50 313.49 L73.75 313.67 L74.00 313.25 L74.25 312.68 L74.50 312.39 L74.75 312.50 L75.00 312.83 L75.25 313.18 L75.50 313.44 L75.75 313.58 L76.00 313.59 L76.25 313.56 L76.50 313.65 L76.75 313.83 L77.00 313.85 L77.25 313.84 L77.50 314.01 L77.75 314.22 L78.00 314.23 L78.25 314.07 L78.50 314.00 L78.75 314.15 L79.00 314.41 L79.25 314.74 L79.50 314.96 L79.75 314.94 L80.00 314.79 L80.25 314.66 L80.50 314.65 L80.75 314.56 L81.00 314.32 L81.25 314.26 L81.50 314.45 L81.75 314.73 L82.00 315.00 L82.25 315.17 L82.50 315.25 L82.75 315.26 L83.00 315.30 L83.25 315.45 L83.50 315.54 L83.75 315.52 L84.00 315.44 L84.25 315.34 L84.50 315.35 L84.75 315.54 L85.00 315.83 L85.25 316.06 L85.50 316.15 L85.75 316.20 L86.00 316.26 L86.25 316.30 L86.50 316.27 L86.75 316.22 L87.00 316.32 L87.25 316.56 L87.50 316.77 L87.75 316.84 L88.00 316.85 L88.25 316.93 L88.50 317.07 L88.75 317.12 L89.00 317.10 L89.25 317.15 L89.50 317.27 L89.75 317.35 L90.00 317.23 L90.25 317.17 L90.50 317.35 L90.75 317.58 L91.00 317.68 L91.25 317.67 L91.50 317.75 L91.75 317.81 L92.00 317.86 L92.25 318.04 L92.50 318.28 L92.75 318.28 L93.00 318.05 L93.25 318.03 L93.50 318.29 L93.75 318.43 L94.00 318.29 L94.25 318.15 L94.50 318.23 L94.75 318.42 L95.00 318.49 L95.25 318.39 L95.50 318.22 L95.75 318.11 L96.00 318.25 L96.25 318.60 L96.50 318.88 L96.75 319.01 L97.00 318.95 L97.25 318.89 L97.50 318.93 L97.75 318.97 L98.00 319.10 L98.25 319.40 L98.50 319.76 L98.75 319.94 L99.00 319.81 L99.25 319.63 L99.50 319.73 L99.75 320.10 L100.00 320.40 L100.25 320.27 L100.50 319.83 L100.75 319.64 L101.00 319.86 L101.25 320.22 L101.50 320.42 L101.75 320.45 L102.00 320.45 L102.25 320.47 L102.50 320.50 L102.75 320.42 L103.00 320.27 L103.25 320.29 L103.50 320.55 L103.75 320.83 L104.00 320.85 L104.25 320.73 L104.50 320.66 L104.75 320.60 L105.00 320.43 L105.25 320.22 L105.50 320.29 L105.75 320.70 L106.00 321.15 L106.25 321.38 L106.50 321.38 L106.75 321.32 L107.00 321.32 L107.25 321.33 L107.50 321.41 L107.75 321.68 L108.00 321.95 L108.25 322.01 L108.50 321.81 L108.75 321.52 L109.00 321.30 L109.25 321.20 L109.50 321.28 L109.75 321.48 L110.00 321.74 L110.25 321.93 L110.50 321.86 L110.75 321.63 L111.00 321.50 L111.25 321.59 L111.50 321.71 L111.75 321.68 L112.00 321.69 L112.25 321.92 L112.50 322.23 L112.75 322.42 L113.00 322.45 L113.25 322.41 L113.50 322.45 L113.75 322.61 L114.00 322.71 L114.25 322.66 L114.50 322.54 L114.75 322.47 L115.00 322.47 L115.25 322.48 L115.50 322.59 L115.75 322.83 L116.00 322.94 L116.25 322.87 L116.50 322.84 L116.75 323.03 L117.00 323.25 L117.25 323.26 L117.50 323.07 L117.75 322.92 L118.00 322.94 L118.25 323.00 L118.50 322.95 L118.75 322.90 L119.00 323.10 L119.25 323.42 L119.50 323.61 L119.75 323.57 L120.00 323.44 L120.25 323.34 L120.50 323.20 L120.75 323.20 L121.00 323.38 L121.25 323.62 L121.50 323.67 L121.75 323.52 L122.00 323.56 L122.25 323.84 L122.50 324.18 L122.75 324.33 L123.00 324.25 L123.25 324.10 L123.50 323.96 L123.75 323.94 L124.00 324.00 L124.25 324.17 L124.50 324.36 L124.75 324.37 L125.00 324.31 L125.25 324.46 L125.50 324.82 L125.75 325.09 L126.00 325.13 L126.25 325.03 L126.50 324.85 L126.75 324.71 L127.00 324.75 L127.25 324.90 L127.50 325.05 L127.75 325.17 L128.00 325.15 L128.25 324.92 L128.50 324.54 L128.75 324.30 L129.00 324.34 L129.25 324.50 L129.50 324.64 L129.75 324.77 L130.00 324.88 L130.25 324.93 L130.50 324.80 L130.75 324.60 L131.00 324.60 L131.25 324.95 L131.50 325.35 L131.75 325.45 L132.00 325.26 L132.25 325.08 L132.50 325.18 L132.75 325.41 L133.00 325.65 L133.25 325.76 L133.50 325.68 L133.75 325.53 L134.00 325.45 L134.25 325.52 L134.50 325.63 L134.75 325.67 L135.00 325.70 L135.25 325.70 L135.50 325.74 L135.75 325.90 L136.00 326.08 L136.25 326.16 L136.50 326.09 L136.75 326.11 L137.00 326.17 L137.25 326.03 L137.50 325.84 L137.75 325.95 L138.00 326.50 L138.25 326.97 L138.50 327.02 L138.75 326.80 L139.00 326.57 L139.25 326.39 L139.50 326.05 L139.75 325.62 L140.00 325.50 L140.25 325.77 L140.50 326.18 L140.75 326.41 L141.00 326.43 L141.25 326.42 L141.50 326.37 L141.75 326.29 L142.00 326.18 L142.25 326.08 L142.50 326.14 L142.75 326.43 L143.00 326.74 L143.25 326.82 L143.50 326.73 L143.75 326.68 L144.00 326.87 L144.25 327.05 L144.50 327.07 L144.75 327.02 L145.00 327.03 L145.25 327.21 L145.50 327.29 L145.75 327.09 L146.00 326.78 L146.25 326.45 L146.50 326.24 L146.75 326.34 L147.00 326.65 L147.25 326.95 L147.50 327.13 L147.75 327.14 L148.00 326.94 L148.25 326.53 L148.50 326.14 L148.75 326.13 L149.00 326.33 L149.25 326.42 L149.50 326.58 L149.75 326.99 L150.00 327.38 L150.25 327.38 L150.50 327.03 L150.75 326.74 L151.00 326.55 L151.25 326.48 L151.50 326.63 L151.75 326.84 L152.00 326.94 L152.25 326.93 L152.50 326.90 L152.75 326.83 L153.00 326.65 L153.25 326.51 L153.50 326.41 L153.75 326.22 L154.00 326.00 L154.25 325.80 L154.50 325.58 L154.75 325.38 L155.00 325.21 L155.25 325.11 L155.50 325.00 L155.75 324.83 L156.00 324.50 L156.25 324.02 L156.50 323.45 L156.75 322.74 L157.00 321.90 L157.25 321.03 L157.50 320.26 L157.75 319.40 L158.00 318.09 L158.25 316.27 L158.50 313.89 L158.75 310.56 L159.00 305.78 L159.25 299.00 L159.50 289.95 L159.75 278.10 L160.00 262.96 L160.25 244.98 L160.50 226.77 L160.75 213.80 L161.00 211.24 L161.25 219.83 L161.50 235.65 L161.75 253.62 L162.00 270.25 L162.25 284.08 L162.50 294.82 L162.75 302.61 L163.00 308.12 L163.25 312.17 L163.50 315.29 L163.75 317.70 L164.00 319.49 L164.25 320.92 L164.50 322.08 L164.75 322.92 L165.00 323.54 L165.25 323.99 L165.50 324.25 L165.75 324.51 L166.00 325.07 L166.25 325.87 L166.50 326.52 L166.75 326.74 L167.00 326.71 L167.25 326.75 L167.50 326.92 L167.75 327.07 L168.00 327.18 L168.25 327.34 L168.50 327.59 L168.75 327.98 L169.00 328.34 L169.25 328.48 L169.50 328.32 L169.75 328.09 L170.00 328.10 L170.25 328.32 L170.50 328.49 L170.75 328.43 L171.00 328.13 L171.25 327.86 L171.50 327.90 L171.75 328.29 L172.00 328.87 L172.25 329.33 L172.50 329.43 L172.75 329.36 L173.00 329.44 L173.25 329.58 L173.50 329.52 L173.75 329.21 L174.00 328.97 L174.25 328.93 L174.50 328.98 L174.75 329.10 L175.00 329.28 L175.25 329.32 L175.50 329.21 L175.75 329.18 L176.00 329.35 L176.25 329.59 L176.50 329.67 L176.75 329.60 L177.00 329.50 L177.25 329.37 L177.50 329.30 L177.75 329.37 L178.00 329.47 L178.25 329.51 L178.50 329.41 L178.75 329.12 L179.00 328.96 L179.25 329.21 L179.50 329.73 L179.75 330.03 L180.00 329.98 L180.25 329.89 L180.50 329.85 L180.75 329.75 L181.00 329.51 L181.25 329.21 L181.50 328.97 L181.75 328.90 L182.00 329.03 L182.25 329.11 L182.50 329.02 L182.75 328.77 L183.00 328.56 L183.25 328.47 L183.50 328.32 L183.75 328.11 L184.00 327.91 L184.25 327.91 L184.50 327.93 L184.75 327.60 L185.00 326.84 L185.25 325.96 L185.50 325.11 L185.75 324.03 L186.00 322.38 L186.25 320.04 L186.50 316.92 L186.75 312.63 L187.00 306.80 L187.25 299.51 L187.50 291.33 L187.75 283.85 L188.00 279.52 L188.25 279.80 L188.50 284.17 L188.75 290.97 L189.00 298.50 L189.25 305.46 L189.50 311.23 L189.75 315.79 L190.00 319.36 L190.25 322.04 L190.50 323.92 L190.75 325.21 L191.00 326.14 L191.25 326.95 L191.50 327.69 L191.75 328.27 L192.00 328.74 L192.25 329.08 L192.50 329.24 L192.75 329.29 L193.00 329.31 L193.25 329.38 L193.50 329.46 L193.75 329.66 L194.00 330.04 L194.25 330.36 L194.50 330.45 L194.75 330.41 L195.00 330.52 L195.25 330.75 L195.50 330.89 L195.75 330.89 L196.00 330.88 L196.25 331.06 L196.50 331.34 L196.75 331.43 L197.00 331.24 L197.25 330.95 L197.50 330.79 L197.75 330.83 L198.00 330.99 L198.25 331.19 L198.50 331.18 L198.75 331.03 L199.00 330.91 L199.25 330.91 L199.50 330.87 L199.75 330.77 L200.00 330.90 L200.25 331.23 L200.50 331.48 L200.75 331.44 L201.00 331.25 L201.25 331.27 L201.50 331.54 L201.75 331.79 L202.00 331.70 L202.25 331.41 L202.50 331.26 L202.75 331.42 L203.00 331.73 L203.25 331.90 L203.50 331.98 L203.75 332.06 L204.00 332.05 L204.25 331.93 L204.50 331.78 L204.75 331.68 L205.00 331.55 L205.25 331.43 L205.50 331.50 L205.75 331.74 L206.00 331.94 L206.25 331.92 L206.50 331.69 L206.75 331.43 L207.00 331.41 L207.25 331.67 L207.50 331.98 L207.75 332.12 L208.00 332.20 L208.25 332.33 L208.50 332.40 L208.75 332.29 L209.00 332.01 L209.25 331.84 L209.50 332.00 L209.75 332.15 L210.00 332.09 L210.25 331.98 L210.50 332.09 L210.75 332.39 L211.00 332.60 L211.25 332.61 L211.50 332.37 L211.75 332.03 L212.00 331.98 L212.25 332.26 L212.50 332.52 L212.75 332.51 L213.00 332.34 L213.25 332.37 L213.50 332.58 L213.75 332.68 L214.00 332.60 L214.25 332.51 L214.50 332.51 L214.75 332.49 L215.00 332.41 L215.25 332.40 L215.50 332.41 L215.75 332.27 L216.00 332.18 L216.25 332.33 L216.50 332.64 L216.75 332.78 L217.00 332.66 L217.25 332.56 L217.50 332.52 L217.75 332.43 L218.00 332.24 L218.25 332.11 L218.50 332.19 L218.75 332.22 L219.00 332.08 L219.25 332.02 L219.50 332.04 L219.75 332.00 L220.00 331.95 L220.25 332.17 L220.50 332.67 L220.75 333.03 L221.00 333.00 L221.25 332.68 L221.50 332.34 L221.75 332.24 L222.00 332.41 L222.25 332.60 L222.50 332.56 L222.75 332.33 L223.00 332.26 L223.25 332.60 L223.50 333.12 L223.75 333.42 L224.00 333.33 L224.25 332.99 L224.50 332.67 L224.75 332.53 L225.00 332.66 L225.25 332.95 L225.50 333.04 L225.75 332.82 L226.00 332.50 L226.25 332.33 L226.50 332.41 L226.75 332.63 L227.00 332.77 L227.25 332.77 L227.50 332.67 L227.75 332.70 L228.00 332.82 L228.25 332.83 L228.50 332.86 L228.75 333.00 L229.00 333.17 L229.25 333.23 L229.50 333.24 L229.75 333.26 L230.00 333.18 L230.25 333.07 L230.50 333.05 L230.75 333.08 L231.00 332.99 L231.25 332.75 L231.50 332.57 L231.75 332.65 L232.00 332.96 L232.25 333.20 L232.50 333.11 L232.75 332.89 L233.00 332.92 L233.25 333.22 L233.50 333.49 L233.75 333.55 L234.00 333.47 L234.25 333.36 L234.50 333.31 L234.75 333.38 L235.00 333.46 L235.25 333.45 L235.50 333.37 L235.75 333.29 L236.00 333.30 L236.25 333.35 L236.50 333.35 L236.75 333.32 L237.00 333.31 L237.25 333.48 L237.50 333.73 L237.75 333.83 L238.00 333.85 L238.25 333.84 L238.50 333.75 L238.75 333.59 L239.00 333.47 L239.25 333.52 L239.50 333.62 L239.75 333.59 L240.00 333.41 L240.25 333.23 L240.50 333.14 L240.75 333.10 L241.00 333.09 L241.25 333.11 L241.50 333.17 L241.75 333.24 L242.00 333.37 L242.25 333.54 L242.50 333.70 L242.75 333.77 L243.00 333.73 L243.25 333.67 L243.50 333.58 L243.75 333.61 L244.00 333.78 L244.25 333.87 L244.50 333.77 L244.75 333.56 L245.00 333.51 L245.25 333.58 L245.50 333.47 L245.75 333.20 L246.00 333.13 L246.25 333.36 L246.50 333.63 L246.75 333.70 L247.00 333.64 L247.25 333.66 L247.50 333.78 L247.75 333.90 L248.00 333.90 L248.25 333.78 L248.50 333.64 L248.75 333.68 L249.00 333.99 L249.25 334.19 L249.50 334.01 L249.75 333.74 L250.00 333.71 L250.25 333.72 L250.50 333.49 L250.75 333.16 L251.00 333.04 L251.25 333.06 L251.50 333.14 L251.75 333.30 L252.00 333.57 L252.25 333.80 L252.50 333.83 L252.75 333.68 L253.00 333.56 L253.25 333.57 L253.50 333.61 L253.75 333.60 L254.00 333.56 L254.25 333.47 L254.50 333.41 L254.75 333.44 L255.00 333.50 L255.25 333.44 L255.50 333.36 L255.75 333.46 L256.00 333.61 L256.25 333.60 L256.50 333.51 L256.75 333.47 L257.00 333.46 L257.25 333.35 L257.50 333.23 L257.75 333.29 L258.00 333.37 L258.25 333.27 L258.50 333.12 L258.75 333.17 L259.00 333.44 L259.25 333.63 L259.50 333.55 L259.75 333.32 L260.00 333.19 L260.25 333.38 L260.50 333.62 L260.75 333.48 L261.00 333.09 L261.25 332.95 L261.50 333.12 L261.75 333.26 L262.00 333.26 L262.25 333.40 L262.50 333.67 L262.75 333.88 L263.00 333.97 L263.25 334.08 L263.50 334.23 L263.75 334.30 L264.00 334.22 L264.25 333.97 L264.50 333.56 L264.75 333.05 L265.00 332.65 L265.25 332.63 L265.50 332.88 L265.75 333.09 L266.00 333.11 L266.25 333.08 L266.50 333.17 L266.75 333.24 L267.00 332.95 L267.25 332.35 L267.50 331.88 L267.75 331.86 L268.00 332.08 L268.25 332.10 L268.50 331.89 L268.75 331.74 L269.00 331.63 L269.25 331.37 L269.50 330.88 L269.75 330.52 L270.00 330.47 L270.25 330.43 L270.50 330.07 L270.75 329.30 L271.00 328.29 L271.25 327.23 L271.50 326.16 L271.75 324.82 L272.00 323.06 L272.25 320.64 L272.50 317.27 L272.75 312.54 L273.00 305.88 L273.25 296.98 L273.50 285.63 L273.75 272.13 L274.00 257.90 L274.25 246.08 L274.50 240.56 L274.75 242.32 L275.00 249.53 L275.25 260.34 L275.50 273.06 L275.75 285.77 L276.00 296.87 L276.25 305.67 L276.50 312.27 L276.75 317.09 L277.00 320.52 L277.25 322.83 L277.50 324.39 L277.75 325.69 L278.00 326.94 L278.25 328.03 L278.50 328.87 L278.75 329.40 L279.00 329.81 L279.25 330.29 L279.50 330.85 L279.75 331.54 L280.00 332.23 L280.25 332.86 L280.50 333.18 L280.75 333.06 L281.00 332.80 L281.25 332.75 L281.50 332.90 L281.75 333.06 L282.00 333.18 L282.25 333.24 L282.50 333.19 L282.75 333.04 L283.00 333.00 L283.25 333.10 L283.50 333.11 L283.75 332.99 L284.00 333.01 L284.25 333.29 L284.50 333.68 L284.75 333.97 L285.00 334.03 L285.25 333.96 L285.50 333.83 L285.75 333.84 L286.00 334.04 L286.25 334.19 L286.50 334.20 L286.75 334.10 L287.00 334.06 L287.25 334.08 L287.50 333.98 L287.75 333.82 L288.00 333.79 L288.25 333.98 L288.50 334.34 L288.75 334.49 L289.00 334.22 L289.25 333.78 L289.50 333.50 L289.75 333.56 L290.00 333.83 L290.25 334.30 L290.50 334.79 L290.75 334.89 L291.00 334.61 L291.25 334.48 L291.50 334.74 L291.75 335.03 L292.00 334.98 L292.25 334.75 L292.50 334.57 L292.75 334.49 L293.00 334.43 L293.25 334.30 L293.50 334.17 L293.75 334.09 L294.00 334.16 L294.25 334.42 L294.50 334.65 L294.75 334.77 L295.00 334.81 L295.25 334.81 L295.50 334.77 L295.75 334.59 L296.00 334.44 L296.25 334.47 L296.50 334.59 L296.75 334.56 L297.00 334.32 L297.25 334.07 L297.50 333.99 L297.75 334.06 L298.00 334.25 L298.25 334.55 L298.50 334.84 L298.75 334.97 L299.00 334.86 L299.25 334.55 L299.50 334.34 L299.75 334.29 L300.00 334.20 L300.25 334.11 L300.50 334.13 L300.75 334.23 L301.00 334.33 L301.25 334.49 L301.50 334.79 L301.75 334.98 L302.00 334.88 L302.25 334.68 L302.50 334.57 L302.75 334.51 L303.00 334.35 L303.25 334.13 L303.50 334.13 L303.75 334.42 L304.00 334.76 L304.25 334.98 L304.50 335.03 L304.75 334.99 L305.00 334.97 L305.25 334.90 L305.50 334.73 L305.75 334.56 L306.00 334.54 L306.25 334.50 L306.50 334.40 L306.75 334.50 L307.00 334.67 L307.25 334.62 L307.50 334.33 L307.75 334.06 L308.00 334.09 L308.25 334.29 L308.50 334.58 L308.75 334.82 L309.00 334.87 L309.25 334.80 L309.50 334.76 L309.75 334.86 L310.00 335.05 L310.25 335.08 L310.50 334.80 L310.75 334.49 L311.00 334.46 L311.25 334.57 L311.50 334.62 L311.75 334.59 L312.00 334.57 L312.25 334.57 L312.50 334.49 L312.75 334.39 L313.00 334.45 L313.25 334.74 L313.50 335.07 L313.75 335.09 L314.00 334.94 L314.25 335.02 L314.50 335.24 L314.75 335.29 L315.00 335.15 L315.25 334.97 L315.50 334.76 L315.75 334.59 L316.00 334.56 L316.25 334.48 L316.50 334.26 L316.75 334.06 L317.00 334.14 L317.25 334.30 L317.50 334.28 L317.75 334.20 L318.00 334.27 L318.25 334.40 L318.50 334.51 L318.75 334.67 L319.00 334.96 L319.25 335.17 L319.50 334.95 L319.75 334.46 L320.00 333.98 L320.25 333.79 L320.50 333.74 L320.75 333.51 L321.00 333.22 L321.25 333.05 L321.50 333.14 L321.75 333.27 L322.00 333.15 L322.25 332.88 L322.50 332.70 L322.75 332.82 L323.00 332.97 L323.25 332.61 L323.50 331.77 L323.75 330.86 L324.00 330.37 L324.25 330.12 L324.50 329.56 L324.75 328.53 L325.00 327.18 L325.25 325.70 L325.50 323.63 L325.75 320.46 L326.00 316.09 L326.25 310.28 L326.50 302.58 L326.75 292.78 L327.00 281.90 L327.25 272.14 L327.50 266.13 L327.75 265.19 L328.00 268.30 L328.25 274.00 L328.50 281.84 L328.75 291.13 L329.00 300.40 L329.25 308.33 L329.50 314.43 L329.75 319.00 L330.00 322.52 L330.25 325.18 L330.50 327.22 L330.75 328.75 L331.00 329.60 L331.25 329.86 L331.50 329.99 L331.75 330.47 L332.00 331.16 L332.25 331.70 L332.50 332.13 L332.75 332.56 L333.00 332.91 L333.25 333.20 L333.50 333.35 L333.75 333.34 L334.00 333.36 L334.25 333.61 L334.50 333.90 L334.75 333.81 L335.00 333.56 L335.25 333.60 L335.50 333.98 L335.75 334.28 L336.00 334.27 L336.25 334.22 L336.50 334.36 L336.75 334.62 L337.00 334.82 L337.25 334.73 L337.50 334.37 L337.75 333.95 L338.00 333.76 L338.25 333.80 L338.50 333.90 L338.75 333.92 L339.00 333.92 L339.25 334.03 L339.50 334.09 L339.75 333.93 L340.00 333.77 L340.25 333.91 L340.50 334.20 L340.75 334.29 L341.00 334.06 L341.25 333.66 L341.50 333.22 L341.75 332.92 L342.00 332.81 L342.25 332.60 L342.50 332.00 L342.75 330.94 L343.00 329.51 L343.25 327.82 L343.50 325.86 L343.75 323.87 L344.00 322.38 L344.25 321.96 L344.50 322.54 L344.75 323.56 L345.00 324.87 L345.25 326.43 L345.50 328.15 L345.75 329.76 L346.00 330.93 L346.25 331.64 L346.50 332.06 L346.75 332.50 L347.00 332.98 L347.25 333.36 L347.50 333.70 L347.75 333.98 L348.00 334.12 L348.25 334.23 L348.50 334.52 L348.75 334.89 L349.00 335.12 L349.25 335.11 L349.50 335.03 L349.75 335.08 L350.00 335.26 L350.25 335.37 L350.50 335.16 L350.75 334.75 L351.00 334.46 L351.25 334.47 L351.50 334.71 L351.75 334.91 L352.00 335.02 L352.25 335.06 L352.50 335.11 L352.75 335.13 L353.00 335.17 L353.25 335.27 L353.50 335.34 L353.75 335.31 L354.00 335.30 L354.25 335.41 L354.50 335.54 L354.75 335.63 L355.00 335.67 L355.25 335.51 L355.50 335.13 L355.75 334.79 L356.00 334.83 L356.25 335.21 L356.50 335.48 L356.75 335.44 L357.00 335.26 L357.25 335.15 L357.50 335.04 L357.75 335.02 L358.00 335.32 L358.25 335.66 L358.50 335.80 L358.75 335.71 L359.00 335.66 L359.25 335.59 L359.50 335.38 L359.75 335.16 L360.00 334.95 L360.25 334.85 L360.50 334.95 L360.75 335.11 L361.00 335.18 L361.25 335.09 L361.50 334.99 L361.75 335.01 L362.00 335.13 L362.25 335.18 L362.50 335.03 L362.75 334.90 L363.00 335.02 L363.25 335.31 L363.50 335.52 L363.75 335.44 L364.00 335.26 L364.25 335.14 L364.50 335.07 L364.75 335.11 L365.00 335.32 L365.25 335.58 L365.50 335.59 L365.75 335.38 L366.00 335.44 L366.25 335.76 L366.50 335.89 L366.75 335.73 L367.00 335.50 L367.25 335.39 L367.50 335.44 L367.75 335.59 L368.00 335.77 L368.25 335.84 L368.50 335.86 L368.75 335.94 L369.00 335.92 L369.25 335.78 L369.50 335.58 L369.75 335.35 L370.00 335.10 L370.25 334.95 L370.50 335.09 L370.75 335.37 L371.00 335.51 L371.25 335.40 L371.50 335.14 L371.75 334.95 L372.00 334.93 L372.25 335.15 L372.50 335.49 L372.75 335.76 L373.00 335.83 L373.25 335.64 L373.50 335.36 L373.75 335.10 L374.00 334.92 L374.25 334.98 L374.50 335.25 L374.75 335.57 L375.00 335.88 L375.25 336.07 L375.50 336.07 L375.75 335.91 L376.00 335.81 L376.25 335.86 L376.50 335.84 L376.75 335.58 L377.00 335.26 L377.25 335.04 L377.50 334.98 L377.75 335.03 L378.00 334.97 L378.25 334.91 L378.50 335.07 L378.75 335.38 L379.00 335.58 L379.25 335.60 L379.50 335.66 L379.75 335.76 L380.00 335.78 L380.25 335.70 L380.50 335.60 L380.75 335.45 L381.00 335.29 L381.25 335.21 L381.50 335.16 L381.75 335.25 L382.00 335.62 L382.25 336.04 L382.50 336.15 L382.75 335.92 L383.00 335.62 L383.25 335.44 L383.50 335.50 L383.75 335.82 L384.00 336.17 L384.25 336.24 L384.50 336.09 L384.75 335.92 L385.00 335.77 L385.25 335.61 L385.50 335.50 L385.75 335.50 L386.00 335.51 L386.25 335.59 L386.50 335.74 L386.75 335.86 L387.00 335.83 L387.25 335.73 L387.50 335.71 L387.75 335.74 L388.00 335.75 L388.25 335.80 L388.50 335.88 L388.75 335.93 L389.00 335.94 L389.25 335.98 L389.50 336.07 L389.75 336.18 L390.00 336.01 L390.25 335.48 L390.50 334.95 L390.75 334.83 L391.00 335.08 L391.25 335.39 L391.50 335.66 L391.75 335.87 L392.00 335.96 L392.25 335.87 L392.50 335.67 L392.75 335.52 L393.00 335.52 L393.25 335.69 L393.50 335.81 L393.75 335.84 L394.00 335.78 L394.25 335.49 L394.50 335.25 L394.75 335.20 L395.00 335.25 L395.25 335.29 L395.50 335.35 L395.75 335.54 L396.00 335.60 L396.25 335.40 L396.50 335.25 L396.75 335.43 L397.00 335.74 L397.25 335.87 L397.50 335.84 L397.75 335.83 L398.00 335.93 L398.25 336.06 L398.50 336.00 L398.75 335.72 L399.00 335.39 L399.25 335.30 L399.50 335.40 L399.75 335.42 L400.00 335.32 L400.25 335.29 L400.50 335.28 L400.75 335.13 L401.00 334.90 L401.25 334.84 L401.50 334.97 L401.75 335.09 L402.00 335.15 L402.25 335.17 L402.50 335.06 L402.75 334.67 L403.00 334.16 L403.25 333.95 L403.50 334.00 L403.75 334.11 L404.00 333.97 L404.25 333.37 L404.50 332.41 L404.75 331.08 L405.00 329.58 L405.25 328.12 L405.50 326.77 L405.75 325.61 L406.00 324.87 L406.25 324.79 L406.50 325.26 L406.75 326.06 L407.00 326.98 L407.25 327.91 L407.50 328.76 L407.75 329.77 L408.00 331.14 L408.25 332.52 L408.50 333.40 L408.75 333.68 L409.00 333.81 L409.25 334.08 L409.50 334.51 L409.75 335.00 L410.00 335.43 L410.25 335.61 L410.50 335.43 L410.75 335.21 L411.00 335.25 L411.25 335.52 L411.50 335.69 L411.75 335.59 L412.00 335.43 L412.25 335.44 L412.50 335.51 L412.75 335.39 L413.00 335.10 L413.25 334.96 L413.50 335.07 L413.75 335.26 L414.00 335.44 L414.25 335.59 L414.50 335.73 L414.75 335.81 L415.00 335.69 L415.25 335.44 L415.50 335.23 L415.75 335.19 L416.00 335.34 L416.25 335.58 L416.50 335.73 L416.75 335.72 L417.00 335.65 L417.25 335.69 L417.50 335.88 L417.75 335.95 L418.00 335.75 L418.25 335.37 L418.50 335.16 L418.75 335.34 L419.00 335.58 L419.25 335.59 L419.50 335.40 L419.75 335.28 L420.00 335.38 L420.25 335.53 L420.50 335.58 L420.75 335.68 L421.00 335.84 L421.25 336.03 L421.50 336.12 L421.75 335.92 L422.00 335.58 L422.25 335.39 L422.50 335.49 L422.75 335.66 L423.00 335.68 L423.25 335.71 L423.50 335.86 L423.75 335.97 L424.00 335.97 L424.25 335.80 L424.50 335.48 L424.75 335.13 L425.00 334.90 L425.25 334.99 L425.50 335.28 L425.75 335.51 L426.00 335.56 L426.25 335.58 L426.50 335.78 L426.75 335.98 L427.00 336.06 L427.25 336.15 L427.50 336.16 L427.75 335.91 L428.00 335.48 L428.25 335.17 L428.50 335.17 L428.75 335.32 L429.00 335.52 L429.25 335.81 L429.50 335.98 L429.75 335.89 L430.00 335.72 L430.25 335.72 L430.50 335.99 L430.75 336.31 L431.00 336.44 L431.25 336.40 L431.50 336.22 L431.75 335.94 L432.00 335.54 L432.25 335.15 L432.50 335.14 L432.75 335.50 L433.00 335.85 L433.25 335.97 L433.50 335.89 L433.75 335.65 L434.00 335.44 L434.25 335.48 L434.50 335.72 L434.75 335.84 L435.00 335.61 L435.25 335.34 L435.50 335.30 L435.75 335.39 L436.00 335.44 L436.25 335.53 L436.50 335.78 L436.75 335.89 L437.00 335.59 L437.25 335.19 L437.50 335.08 L437.75 335.24 L438.00 335.41 L438.25 335.46 L438.50 335.46 L438.75 335.42 L439.00 335.55 L439.25 335.77 L439.50 335.91 L439.75 336.02 L440.00 336.11 L440.25 336.13 L440.50 335.96 L440.75 335.67 L441.00 335.52 L441.25 335.43 L441.50 335.38 L441.75 335.37 L442.00 335.27 L442.25 335.18 L442.50 335.24 L442.75 335.46 L443.00 335.58 L443.25 335.40 L443.50 335.26 L443.75 335.34 L444.00 335.39 L444.25 335.43 L444.50 335.58 L444.75 335.69 L445.00 335.60 L445.25 335.32 L445.50 335.04 L445.75 334.76 L446.00 334.30 L446.25 333.83 L446.50 333.66 L446.75 333.81 L447.00 333.80 L447.25 333.28 L447.50 332.44 L447.75 331.55 L448.00 330.41 L448.25 328.75 L448.50 326.72 L448.75 324.39 L449.00 321.54 L449.25 318.18 L449.50 315.02 L449.75 313.26 L450.00 313.35 L450.25 314.57 L450.50 315.97 L450.75 317.27 L451.00 318.80 L451.25 320.97 L451.50 323.62 L451.75 326.24 L452.00 328.40 L452.25 330.04 L452.50 331.50 L452.75 332.79 L453.00 333.56 L453.25 333.79 L453.50 333.85 L453.75 334.12 L454.00 334.32 L454.25 334.19 L454.50 334.05 L454.75 334.08 L455.00 334.22 L455.25 334.48 L455.50 334.89 L455.75 335.33 L456.00 335.37 L456.25 334.96 L456.50 334.56 L456.75 334.59 L457.00 334.90 L457.25 335.09 L457.50 335.11 L457.75 335.07 L458.00 335.08 L458.25 335.08 L458.50 335.08 L458.75 335.15 L459.00 335.24 L459.25 335.39 L459.50 335.53 L459.75 335.47 L460.00 335.38 L460.25 335.22 L460.50 334.86 L460.75 334.38 L461.00 334.00 L461.25 333.82 L461.50 333.66 L461.75 333.40 L462.00 332.90 L462.25 332.13 L462.50 331.16 L462.75 329.72 L463.00 327.56 L463.25 325.01 L463.50 322.71 L463.75 321.13 L464.00 320.42 L464.25 320.60 L464.50 321.47 L464.75 322.53 L465.00 323.41 L465.25 324.27 L465.50 325.55 L465.75 327.31 L466.00 329.18 L466.25 330.71 L466.50 331.71 L466.75 332.28 L467.00 332.68 L467.25 333.10 L467.50 333.59 L467.75 334.03 L468.00 334.26 L468.25 334.26 L468.50 334.32 L468.75 334.62 L469.00 334.89 L469.25 334.91 L469.50 334.92 L469.75 335.11 L470.00 335.27 L470.25 335.22 L470.50 335.18 L470.75 335.36 L471.00 335.57 L471.25 335.77 L471.50 336.04 L471.75 336.18 L472.00 336.08 L472.25 335.81 L472.50 335.62 L472.75 335.57 L473.00 335.57 L473.25 335.55 L473.50 335.55 L473.75 335.63 L474.00 335.74 L474.25 335.77 L474.50 335.85 L474.75 336.14 L475.00 336.40 L475.25 336.26 L475.50 335.88 L475.75 335.59 L476.00 335.46 L476.25 335.55 L476.50 335.88 L476.75 336.35 L477.00 336.58 L477.25 336.45 L477.50 336.26 L477.75 336.21 L478.00 336.36 L478.25 336.48 L478.50 336.46 L478.75 336.34 L479.00 336.12 L479.25 335.94 L479.50 335.75 L479.75 335.58 L480.00 335.63 L480.25 335.95 L480.50 336.33 L480.75 336.48 L481.00 336.36 L481.25 336.07 L481.50 335.74 L481.75 335.54 L482.00 335.60 L482.25 335.79 L482.50 335.79 L482.75 335.71 L483.00 335.78 L483.25 335.97 L483.50 336.03 L483.75 335.86 L484.00 335.70 L484.25 335.69 L484.50 335.75 L484.75 335.83 L485.00 335.86 L485.25 335.87 L485.50 335.98 L485.75 336.10 L486.00 336.06 L486.25 336.00 L486.50 336.11 L486.75 336.35 L487.00 336.46 L487.25 336.39 L487.50 336.29 L487.75 336.19 L488.00 336.09 L488.25 336.01 L488.50 336.03 L488.75 336.05 L489.00 336.10 L489.25 336.24 L489.50 336.31 L489.75 336.23 L490.00 336.06 L490.25 335.97 L490.50 335.94 L490.75 335.83 L491.00 335.61 L491.25 335.43 L491.50 335.48 L491.75 335.72 L492.00 335.90 L492.25 335.79 L492.50 335.52 L492.75 335.35 L493.00 335.49 L493.25 335.92 L493.50 336.41 L493.75 336.67 L494.00 336.64 L494.25 336.46 L494.50 336.27 L494.75 336.12 L495.00 335.97 L495.25 335.86 L495.50 335.79 L495.75 335.76 L496.00 335.75 L496.25 335.77 L496.50 335.87 L496.75 335.97 L497.00 335.98 L497.25 335.94 L497.50 335.95 L497.75 336.05 L498.00 336.06 L498.25 335.91 L498.50 335.71 L498.75 335.55 L499.00 335.69 L499.25 335.93 L499.50 335.91 L499.75 335.73 L500.00 335.68 L500.25 335.92 L500.50 336.18 L500.75 336.26 L501.00 336.20 L501.25 335.99 L501.50 335.81 L501.75 335.71 L502.00 335.71 L502.25 335.89 L502.50 336.18 L502.75 336.48 L503.00 336.59 L503.25 336.42 L503.50 336.15 L503.75 335.87 L504.00 335.62 L504.25 335.47 L504.50 335.52 L504.75 335.74 L505.00 335.91 L505.25 335.97 L505.50 336.07 L505.75 336.15 L506.00 335.99 L506.25 335.81 L506.50 335.90 L506.75 336.06 L507.00 336.04 L507.25 335.92 L507.50 335.94 L507.75 335.98 L508.00 335.87 L508.25 335.88 L508.50 336.12 L508.75 336.36 L509.00 336.17 L509.25 335.63 L509.50 335.38 L509.75 335.68 L510.00 336.03 L510.25 336.11 L510.50 336.12 L510.75 336.18 L511.00 336.10 L511.25 335.84 L511.50 335.78 L511.75 335.92 L512.00 336.01 L512.25 335.97 L512.50 335.83 L512.75 335.63 L513.00 335.41 L513.25 335.26 L513.50 335.23 L513.75 335.26 L514.00 335.32 L514.25 335.34 L514.50 335.24 L514.75 335.02 L515.00 334.84 L515.25 334.86 L515.50 335.10 L515.75 335.27 L516.00 335.09 L516.25 334.64 L516.50 334.25 L516.75 334.25 L517.00 334.41 L517.25 334.31 L517.50 333.87 L517.75 333.20 L518.00 332.37 L518.25 331.41 L518.50 330.30 L518.75 328.85 L519.00 326.67 L519.25 323.61 L519.50 320.19 L519.75 317.25 L520.00 315.61 L520.25 315.58 L520.50 316.70 L520.75 318.35 L521.00 319.98 L521.25 321.20 L521.50 322.13 L521.75 323.22 L522.00 324.73 L522.25 326.58 L522.50 328.40 L522.75 329.93 L523.00 331.17 L523.25 332.24 L523.50 333.25 L523.75 333.85 L524.00 333.99 L524.25 334.06 L524.50 334.39 L524.75 335.01 L525.00 335.39 L525.25 335.34 L525.50 335.17 L525.75 335.26 L526.00 335.58 L526.25 335.79 L526.50 335.71 L526.75 335.37 L527.00 335.15 L527.25 335.37 L527.50 335.76 L527.75 335.84 L528.00 335.66" stroke="#ff0000" /><path d="M50.00 275.52 L50.25 275.73 L50.50 275.57 L50.75 275.25 L51.00 275.13 L51.25 275.31 L51.50 275.66 L51.75 276.02 L52.00 276.27 L52.25 276.36 L52.50 276.40 L52.75 276.42 L53.00 276.40 L53.25 276.29 L53.50 276.18 L53.75 276.12 L54.00 276.12 L54.25 276.29 L54.50 276.59 L54.75 276.96 L55.00 277.24 L55.25 277.38 L55.50 277.46 L55.75 277.53 L56.00 277.67 L56.25 277.88 L56.50 278.16 L56.75 278.46 L57.00 278.72 L57.25 278.74 L57.50 278.47 L57.75 278.27 L58.00 278.41 L58.25 278.69 L58.50 278.78 L58.75 278.71 L59.00 278.75 L59.25 278.92 L59.50 279.11 L59.75 279.31 L60.00 279.52 L60.25 279.75 L60.50 279.95 L60.75 279.92 L61.00 279.65 L61.25 279.47 L61.50 279.72 L61.75 280.29 L62.00 280.72 L62.25 280.75 L62.50 280.62 L62.75 280.62 L63.00 280.62 L63.25 280.56 L63.50 280.64 L63.75 280.93 L64.00 281.17 L64.25 281.20 L64.50 281.30 L64.75 281.51 L65.00 281.56 L65.25 281.41 L65.50 281.35 L65.75 281.50 L66.00 281.65 L66.25 281.67 L66.50 281.64 L66.75 281.69 L67.00 281.80 L67.25 281.92 L67.50 281.98 L67.75 282.04 L68.00 282.26 L68.25 282.56 L68.50 282.66 L68.75 282.54 L69.00 282.48 L69.25 282.71 L69.50 283.07 L69.75 283.23 L70.00 283.12 L70.25 283.03 L70.50 283.16 L70.75 283.35 L71.00 283.37 L71.25 283.35 L71.50 283.50 L71.75 283.69 L72.00 283.76 L72.25 283.79 L72.50 283.89 L72.75 284.09 L73.00 284.36 L73.25 284.60 L73.50 284.59 L73.75 284.31 L74.00 284.10 L74.25 284.35 L74.50 284.84 L74.75 284.97 L75.00 284.60 L75.25 284.14 L75.50 284.15 L75.75 284.57 L76.00 284.98 L76.25 285.21 L76.50 285.35 L76.75 285.58 L77.00 285.88 L77.25 286.02 L77.50 286.03 L77.75 286.00 L78.00 285.86 L78.25 285.66 L78.50 285.65 L78.75 285.92 L79.00 286.17 L79.25 286.18 L79.50 286.13 L79.75 286.24 L80.00 286.37 L80.25 286.46 L80.50 286.56 L80.75 286.73 L81.00 286.83 L81.25 286.76 L81.50 286.71 L81.75 286.67 L82.00 286.70 L82.25 286.81 L82.50 286.82 L82.75 286.84 L83.00 286.96 L83.25 287.22 L83.50 287.37 L83.75 287.25 L84.00 287.31 L84.25 287.70 L84.50 288.12 L84.75 288.32 L85.00 288.29 L85.25 288.15 L85.50 287.97 L85.75 287.82 L86.00 287.74 L86.25 287.75 L86.50 288.00 L86.75 288.47 L87.00 288.84 L87.25 288.79 L87.50 288.52 L87.75 288.48 L88.00 288.63 L88.25 288.73 L88.50 288.62 L88.75 288.46 L89.00 288.46 L89.25 288.53 L89.50 288.59 L89.75 288.76 L90.00 289.03 L90.25 289.19 L90.50 289.08 L90.75 288.99 L91.00 289.19 L91.25 289.52 L91.50 289.67 L91.75 289.62 L92.00 289.60 L92.25 289.76 L92.50 290.06 L92.75 290.29 L93.00 290.40 L93.25 290.43 L93.50 290.42 L93.75 290.36 L94.00 290.28 L94.25 290.20 L94.50 290.13 L94.75 290.24 L95.00 290.51 L95.25 290.73 L95.50 290.67 L95.75 290.52 L96.00 290.60 L96.25 290.84 L96.50 290.95 L96.75 290.80 L97.00 290.60 L97.25 290.54 L97.50 290.52 L97.75 290.49 L98.00 290.62 L98.25 290.98 L98.50 291.37 L98.75 291.54 L99.00 291.59 L99.25 291.68 L99.50 291.69 L99.75 291.57 L100.00 291.49 L100.25 291.55 L100.50 291.67 L100.75 291.72 L101.00 291.77 L101.25 291.82 L101.50 291.76 L101.75 291.58 L102.00 291.45 L102.25 291.53 L102.50 291.82 L102.75 292.11 L103.00 292.37 L103.25 292.61 L103.50 292.59 L103.75 292.29 L104.00 292.02 L104.25 292.04 L104.50 292.27 L104.75 292.44 L105.00 292.42 L105.25 292.34 L105.50 292.41 L105.75 292.72 L106.00 292.94 L106.25 292.86 L106.50 292.69 L106.75 292.74 L107.00 292.97 L107.25 293.11 L107.50 293.09 L107.75 293.03 L108.00 293.06 L108.25 293.07 L108.50 293.14 L108.75 293.38 L109.00 293.64 L109.25 293.71 L109.50 293.63 L109.75 293.76 L110.00 294.04 L110.25 294.22 L110.50 294.22 L110.75 293.97 L111.00 293.73 L111.25 293.63 L111.50 293.72 L111.75 293.97 L112.00 294.13 L112.25 294.18 L112.50 294.06 L112.75 293.94 L113.00 294.02 L113.25 294.10 L113.50 293.99 L113.75 293.77 L114.00 293.73 L114.25 294.04 L114.50 294.54 L114.75 294.89 L115.00 294.85 L115.25 294.51 L115.50 294.28 L115.75 294.50 L116.00 294.98 L116.25 295.19 L116.50 294.93 L116.75 294.66 L117.00 294.80 L117.25 295.07 L117.50 295.11 L117.75 295.03 L118.00 295.16 L118.25 295.27 L118.50 295.05 L118.75 294.83 L119.00 294.96 L119.25 295.31 L119.50 295.51 L119.75 295.42 L120.00 295.15 L120.25 294.96 L120.50 295.02 L120.75 295.28 L121.00 295.55 L121.25 295.72 L121.50 295.78 L121.75 295.74 L122.00 295.71 L122.25 295.67 L122.50 295.43 L122.75 295.07 L123.00 294.96 L123.25 295.11 L123.50 295.41 L123.75 295.75 L124.00 295.97 L124.25 295.94 L124.50 295.66 L124.75 295.47 L125.00 295.61 L125.25 295.91 L125.50 296.16 L125.75 296.18 L126.00 296.05 L126.25 295.96 L126.50 295.94 L126.75 296.03 L127.00 296.15 L127.25 296.15 L127.50 296.09 L127.75 296.09 L128.00 296.26 L128.25 296.53 L128.50 296.73 L128.75 296.78 L129.00 296.67 L129.25 296.54 L129.50 296.61 L129.75 296.64 L130.00 296.46 L130.25 296.39 L130.50 296.49 L130.75 296.68 L131.00 296.71 L131.25 296.67 L131.50 296.70 L131.75 296.78 L132.00 296.91 L132.25 296.91 L132.50 296.76 L132.75 296.70 L133.00 296.77 L133.25 296.93 L133.50 297.13 L133.75 297.33 L134.00 297.51 L134.25 297.45 L134.50 297.29 L134.75 297.19 L135.00 297.17 L135.25 297.26 L135.50 297.30 L135.75 297.43 L136.00 297.75 L136.25 298.09 L136.50 298.11 L136.75 297.87 L137.00 297.77 L137.25 297.77 L137.50 297.71 L137.75 297.63 L138.00 297.66 L138.25 297.70 L138.50 297.48 L138.75 297.34 L139.00 297.51 L139.25 297.85 L139.50 298.11 L139.75 298.11 L140.00 298.02 L140.25 297.98 L140.50 298.06 L140.75 298.09 L141.00 297.96 L141.25 297.93 L141.50 298.04 L141.75 298.13 L142.00 298.18 L142.25 298.29 L142.50 298.35 L142.75 298.16 L143.00 297.90 L143.25 297.88 L143.50 297.93 L143.75 297.86 L144.00 297.73 L144.25 297.76 L144.50 297.96 L144.75 298.27 L145.00 298.61 L145.25 298.71 L145.50 298.45 L145.75 298.05 L146.00 297.91 L146.25 298.03 L146.50 298.21 L146.75 298.46 L147.00 298.74 L147.25 298.86 L147.50 298.75 L147.75 298.57 L148.00 298.41 L148.25 298.23 L148.50 297.98 L148.75 297.96 L149.00 298.17 L149.25 298.39 L149.50 298.51 L149.75 298.50 L150.00 298.49 L150.25 298.48 L150.50 298.42 L150.75 298.26 L151.00 298.09 L151.25 298.09 L151.50 298.17 L151.75 298.08 L152.00 297.92 L152.25 297.79 L152.50 297.66 L152.75 297.50 L153.00 297.36 L153.25 297.25 L153.50 297.24 L153.75 297.33 L154.00 297.37 L154.25 297.20 L154.50 296.95 L154.75 296.77 L155.00 296.60 L155.25 296.38 L155.50 296.15 L155.75 295.90 L156.00 295.34 L156.25 294.49 L156.50 293.72 L156.75 293.15 L157.00 292.49 L157.25 291.50 L157.50 290.33 L157.75 289.02 L158.00 287.27 L158.25 284.77 L158.50 281.44 L158.75 277.20 L159.00 271.43 L159.25 263.38 L159.50 252.16 L159.75 237.03 L160.00 217.94 L160.25 195.69 L160.50 173.52 L160.75 157.67 L161.00 154.18 L161.25 164.17 L161.50 183.44 L161.75 206.04 L162.00 227.23 L162.25 244.56 L162.50 257.73 L162.75 267.53 L163.00 274.73 L163.25 279.96 L163.50 283.81 L163.75 286.71 L164.00 288.95 L164.25 290.54 L164.50 291.66 L164.75 292.56 L165.00 293.47 L165.25 294.40 L165.50 295.13 L165.75 295.60 L166.00 295.98 L166.25 296.42 L166.50 296.92 L166.75 297.47 L167.00 297.95 L167.25 298.17 L167.50 298.13 L167.75 298.04 L168.00 298.15 L168.25 298.45 L168.50 298.75 L168.75 298.91 L169.00 298.91 L169.25 298.88 L169.50 298.94 L169.75 299.17 L170.00 299.39 L170.25 299.49 L170.50 299.59 L170.75 299.79 L171.00 300.04 L171.25 300.25 L171.50 300.36 L171.75 300.28 L172.00 300.08 L172.25 300.05 L172.50 300.39 L172.75 300.86 L173.00 301.06 L173.25 300.83 L173.50 300.34 L173.75 300.05 L174.00 300.08 L174.25 300.25 L174.50 300.43 L174.75 300.62 L175.00 300.74 L175.25 300.72 L175.50 300.72 L175.75 300.87 L176.00 301.03 L176.25 301.00 L176.50 300.76 L176.75 300.66 L177.00 300.89 L177.25 301.14 L177.50 301.18 L177.75 301.08 L178.00 301.19 L178.25 301.48 L178.50 301.50 L178.75 301.20 L179.00 300.85 L179.25 300.69 L179.50 300.73 L179.75 300.80 L180.00 300.83 L180.25 300.75 L180.50 300.49 L180.75 300.19 L181.00 300.21 L181.25 300.62 L181.50 300.98 L181.75 300.87 L182.00 300.43 L182.25 300.07 L182.50 299.83 L182.75 299.60 L183.00 299.48 L183.25 299.53 L183.50 299.60 L183.75 299.56 L184.00 299.32 L184.25 298.87 L184.50 298.28 L184.75 297.61 L185.00 296.87 L185.25 296.02 L185.50 294.97 L185.75 293.57 L186.00 291.50 L186.25 288.58 L186.50 284.61 L186.75 279.29 L187.00 272.38 L187.25 263.64 L187.50 253.52 L187.75 243.93 L188.00 238.08 L188.25 238.21 L188.50 243.65 L188.75 252.28 L189.00 261.91 L189.25 270.91 L189.50 278.35 L189.75 283.87 L190.00 287.79 L190.25 290.68 L190.50 292.82 L190.75 294.51 L191.00 296.15 L191.25 297.69 L191.50 298.68 L191.75 299.01 L192.00 299.10 L192.25 299.34 L192.50 299.68 L192.75 300.01 L193.00 300.28 L193.25 300.52 L193.50 300.81 L193.75 301.06 L194.00 301.26 L194.25 301.41 L194.50 301.53 L194.75 301.59 L195.00 301.63 L195.25 301.84 L195.50 302.01 L195.75 301.94 L196.00 301.86 L196.25 302.06 L196.50 302.49 L196.75 302.81 L197.00 302.89 L197.25 302.85 L197.50 302.75 L197.75 302.59 L198.00 302.45 L198.25 302.43 L198.50 302.60 L198.75 302.80 L199.00 302.88 L199.25 302.87 L199.50 302.94 L199.75 303.07 L200.00 302.97 L200.25 302.72 L200.50 302.57 L200.75 302.61 L201.00 302.61 L201.25 302.45 L201.50 302.55 L201.75 303.03 L202.00 303.41 L202.25 303.34 L202.50 303.01 L202.75 302.88 L203.00 302.81 L203.25 302.67 L203.50 302.57 L203.75 302.58 L204.00 302.71 L204.25 302.90 L204.50 303.20 L204.75 303.50 L205.00 303.60 L205.25 303.43 L205.50 303.19 L205.75 303.11 L206.00 303.17 L206.25 303.27 L206.50 303.30 L206.75 303.35 L207.00 303.49 L207.25 303.55 L207.50 303.56 L207.75 303.56 L208.00 303.56 L208.25 303.58 L208.50 303.51 L208.75 303.44 L209.00 303.48 L209.25 303.50 L209.50 303.39 L209.75 303.20 L210.00 303.17 L210.25 303.40 L210.50 303.55 L210.75 303.39 L211.00 303.10 L211.25 302.93 L211.50 303.03 L211.75 303.42 L212.00 303.79 L212.25 303.91 L212.50 303.86 L212.75 303.80 L213.00 303.74 L213.25 303.70 L213.50 303.65 L213.75 303.55 L214.00 303.39 L214.25 303.29 L214.50 303.28 L214.75 303.15 L215.00 302.95 L215.25 303.03 L215.50 303.34 L215.75 303.54 L216.00 303.42 L216.25 303.12 L216.50 302.98 L216.75 303.07 L217.00 303.23 L217.25 303.46 L217.50 303.75 L217.75 304.06 L218.00 304.19 L218.25 304.23 L218.50 304.16 L218.75 303.93 L219.00 303.67 L219.25 303.63 L219.50 303.92 L219.75 304.15 L220.00 304.12 L220.25 303.83 L220.50 303.52 L220.75 303.62 L221.00 304.01 L221.25 304.34 L221.50 304.37 L221.75 304.29 L222.00 304.38 L222.25 304.43 L222.50 304.36 L222.75 304.22 L223.00 304.04 L223.25 303.88 L223.50 303.71 L223.75 303.59 L224.00 303.57 L224.25 303.65 L224.50 303.90 L224.75 304.15 L225.00 304.14 L225.25 303.91 L225.50 303.83 L225.75 304.01 L226.00 304.24 L226.25 304.33 L226.50 304.34 L226.75 304.41 L227.00 304.44 L227.25 304.26 L227.50 303.97 L227.75 303.80 L228.00 303.95 L228.25 304.25 L228.50 304.34 L228.75 304.20 L229.00 303.98 L229.25 303.93 L229.50 304.00 L229.75 303.98 L230.00 303.93 L230.25 304.05 L230.50 304.29 L230.75 304.40 L231.00 304.28 L231.25 304.14 L231.50 304.16 L231.75 304.32 L232.00 304.44 L232.25 304.49 L232.50 304.59 L232.75 304.67 L233.00 304.53 L233.25 304.27 L233.50 304.22 L233.75 304.38 L234.00 304.55 L234.25 304.56 L234.50 304.43 L234.75 304.26 L235.00 304.22 L235.25 304.44 L235.50 304.78 L235.75 304.89 L236.00 304.62 L236.25 304.33 L236.50 304.43 L236.75 304.87 L237.00 305.16 L237.25 305.10 L237.50 305.00 L237.75 305.07 L238.00 305.23 L238.25 305.33 L238.50 305.19 L238.75 304.83 L239.00 304.55 L239.25 304.56 L239.50 304.84 L239.75 305.11 L240.00 305.18 L240.25 305.06 L240.50 304.91 L240.75 304.77 L241.00 304.65 L241.25 304.57 L241.50 304.62 L241.75 304.80 L242.00 304.82 L242.25 304.61 L242.50 304.26 L242.75 304.08 L243.00 304.18 L243.25 304.36 L243.50 304.38 L243.75 304.24 L244.00 304.10 L244.25 304.08 L244.50 304.35 L244.75 304.85 L245.00 305.27 L245.25 305.26 L245.50 304.88 L245.75 304.54 L246.00 304.36 L246.25 304.29 L246.50 304.37 L246.75 304.59 L247.00 304.80 L247.25 304.83 L247.50 304.76 L247.75 304.80 L248.00 304.94 L248.25 305.08 L248.50 305.21 L248.75 305.26 L249.00 305.03 L249.25 304.64 L249.50 304.34 L249.75 304.31 L250.00 304.51 L250.25 304.78 L250.50 304.99 L250.75 304.98 L251.00 304.82 L251.25 304.68 L251.50 304.71 L251.75 304.85 L252.00 304.92 L252.25 304.87 L252.50 304.75 L252.75 304.79 L253.00 304.94 L253.25 304.94 L253.50 304.80 L253.75 304.67 L254.00 304.71 L254.25 304.80 L254.50 304.77 L254.75 304.63 L255.00 304.61 L255.25 304.88 L255.50 305.32 L255.75 305.53 L256.00 305.34 L256.25 304.96 L256.50 304.66 L256.75 304.51 L257.00 304.45 L257.25 304.46 L257.50 304.58 L257.75 304.73 L258.00 304.73 L258.25 304.62 L258.50 304.63 L258.75 304.74 L259.00 304.63 L259.25 304.29 L259.50 304.22 L259.75 304.61 L260.00 304.99 L260.25 304.93 L260.50 304.66 L260.75 304.54 L261.00 304.60 L261.25 304.64 L261.50 304.61 L261.75 304.58 L262.00 304.65 L262.25 304.82 L262.50 305.00 L262.75 305.09 L263.00 305.09 L263.25 305.19 L263.50 305.30 L263.75 305.18 L264.00 304.93 L264.25 304.71 L264.50 304.56 L264.75 304.36 L265.00 304.12 L265.25 304.07 L265.50 304.16 L265.75 304.22 L266.00 304.21 L266.25 304.11 L266.50 303.94 L266.75 303.75 L267.00 303.61 L267.25 303.53 L267.50 303.40 L267.75 303.24 L268.00 303.08 L268.25 302.92 L268.50 302.73 L268.75 302.43 L269.00 302.13 L269.25 301.88 L269.50 301.67 L269.75 301.27 L270.00 300.63 L270.25 299.98 L270.50 299.34 L270.75 298.66 L271.00 297.81 L271.25 296.82 L271.50 295.65 L271.75 293.99 L272.00 291.67 L272.25 288.60 L272.50 284.45 L272.75 278.62 L273.00 270.48 L273.25 259.60 L273.50 245.47 L273.75 228.31 L274.00 210.26 L274.25 195.54 L274.50 188.71 L274.75 190.91 L275.00 200.03 L275.25 213.66 L275.50 229.50 L275.75 245.26 L276.00 259.07 L276.25 270.02 L276.50 278.14 L276.75 284.12 L277.00 288.62 L277.25 291.84 L277.50 294.09 L277.75 295.78 L278.00 297.10 L278.25 298.12 L278.50 299.00 L278.75 299.82 L279.00 300.42 L279.25 300.75 L279.50 301.13 L279.75 301.69 L280.00 302.12 L280.25 302.33 L280.50 302.49 L280.75 302.85 L281.00 303.29 L281.25 303.47 L281.50 303.40 L281.75 303.34 L282.00 303.45 L282.25 303.63 L282.50 303.82 L282.75 304.14 L283.00 304.43 L283.25 304.47 L283.50 304.41 L283.75 304.57 L284.00 304.88 L284.25 304.91 L284.50 304.56 L284.75 304.16 L285.00 304.09 L285.25 304.40 L285.50 304.89 L285.75 305.19 L286.00 305.13 L286.25 304.86 L286.50 304.63 L286.75 304.64 L287.00 304.84 L287.25 305.10 L287.50 305.27 L287.75 305.29 L288.00 305.37 L288.25 305.47 L288.50 305.39 L288.75 305.13 L289.00 304.90 L289.25 304.99 L289.50 305.19 L289.75 305.21 L290.00 305.13 L290.25 305.01 L290.50 304.89 L290.75 304.77 L291.00 304.86 L291.25 305.17 L291.50 305.41 L291.75 305.44 L292.00 305.38 L292.25 305.38 L292.50 305.46 L292.75 305.57 L293.00 305.77 L293.25 306.09 L293.50 306.30 L293.75 306.20 L294.00 305.84 L294.25 305.60 L294.50 305.52 L294.75 305.41 L295.00 305.38 L295.25 305.62 L295.50 306.01 L295.75 306.06 L296.00 305.71 L296.25 305.35 L296.50 305.36 L296.75 305.67 L297.00 305.96 L297.25 306.07 L297.50 306.08 L297.75 306.15 L298.00 306.20 L298.25 306.10 L298.50 306.02 L298.75 306.09 L299.00 306.08 L299.25 305.86 L299.50 305.66 L299.75 305.66 L300.00 305.74 L300.25 305.80 L300.50 305.83 L300.75 305.78 L301.00 305.69 L301.25 305.77 L301.50 305.99 L301.75 306.18 L302.00 306.22 L302.25 306.20 L302.50 306.19 L302.75 306.07 L303.00 305.85 L303.25 305.60 L303.50 305.45 L303.75 305.41 L304.00 305.49 L304.25 305.64 L304.50 305.71 L304.75 305.69 L305.00 305.71 L305.25 305.87 L305.50 305.99 L305.75 305.93 L306.00 305.86 L306.25 305.97 L306.50 306.21 L306.75 306.39 L307.00 306.35 L307.25 306.16 L307.50 306.00 L307.75 305.89 L308.00 305.76 L308.25 305.58 L308.50 305.40 L308.75 305.29 L309.00 305.30 L309.25 305.42 L309.50 305.50 L309.75 305.52 L310.00 305.69 L310.25 306.04 L310.50 306.27 L310.75 306.14 L311.00 305.93 L311.25 305.86 L311.50 305.83 L311.75 305.74 L312.00 305.66 L312.25 305.75 L312.50 305.88 L312.75 305.91 L313.00 305.84 L313.25 305.70 L313.50 305.57 L313.75 305.49 L314.00 305.53 L314.25 305.61 L314.50 305.68 L314.75 305.88 L315.00 306.15 L315.25 306.25 L315.50 306.17 L315.75 306.10 L316.00 306.02 L316.25 305.75 L316.50 305.34 L316.75 305.31 L317.00 305.56 L317.25 305.70 L317.50 305.64 L317.75 305.43 L318.00 305.23 L318.25 305.14 L318.50 305.24 L318.75 305.44 L319.00 305.49 L319.25 305.41 L319.50 305.30 L319.75 305.12 L320.00 304.76 L320.25 304.41 L320.50 304.19 L320.75 303.94 L321.00 303.72 L321.25 303.72 L321.50 304.00 L321.75 304.23 L322.00 303.99 L322.25 303.43 L322.50 302.86 L322.75 302.52 L323.00 302.38 L323.25 302.24 L323.50 302.02 L323.75 301.69 L324.00 301.18 L324.25 300.39 L324.50 299.23 L324.75 297.77 L325.00 296.16 L325.25 294.24 L325.50 291.55 L325.75 287.64 L326.00 282.12 L326.25 274.68 L326.50 265.10 L326.75 253.34 L327.00 240.09 L327.25 227.76 L327.50 220.22 L327.75 219.53 L328.00 224.06 L328.25 231.47 L328.50 241.03 L328.75 252.07 L329.00 263.04 L329.25 272.59 L329.50 280.16 L329.75 285.84 L330.00 290.06 L330.25 293.26 L330.50 295.72 L330.75 297.56 L331.00 298.81 L331.25 299.60 L331.50 300.21 L331.75 300.91 L332.00 301.71 L332.25 302.38 L332.50 302.84 L332.75 303.20 L333.00 303.55 L333.25 303.78 L333.50 303.96 L333.75 304.18 L334.00 304.55 L334.25 304.99 L334.50 305.26 L334.75 305.20 L335.00 304.94 L335.25 304.85 L335.50 305.09 L335.75 305.34 L336.00 305.27 L336.25 304.95 L336.50 304.72 L336.75 304.77 L337.00 305.02 L337.25 305.35 L337.50 305.63 L337.75 305.73 L338.00 305.65 L338.25 305.49 L338.50 305.40 L338.75 305.50 L339.00 305.70 L339.25 305.81 L339.50 305.63 L339.75 305.41 L340.00 305.39 L340.25 305.47 L340.50 305.63 L340.75 305.71 L341.00 305.55 L341.25 305.12 L341.50 304.59 L341.75 304.17 L342.00 303.63 L342.25 302.81 L342.50 301.83 L342.75 300.71 L343.00 299.21 L343.25 297.17 L343.50 294.82 L343.75 292.54 L344.00 290.86 L344.25 290.34 L344.50 290.91 L344.75 292.14 L345.00 293.74 L345.25 295.59 L345.50 297.62 L345.75 299.65 L346.00 301.47 L346.25 302.82 L346.50 303.54 L346.75 303.98 L347.00 304.44 L347.25 304.85 L347.50 305.03 L347.75 305.06 L348.00 305.13 L348.25 305.27 L348.50 305.39 L348.75 305.58 L349.00 305.77 L349.25 305.81 L349.50 305.71 L349.75 305.61 L350.00 305.72 L350.25 306.02 L350.50 306.32 L350.75 306.32 L351.00 306.01 L351.25 305.68 L351.50 305.49 L351.75 305.51 L352.00 305.68 L352.25 305.94 L352.50 306.10 L352.75 305.99 L353.00 305.82 L353.25 305.82 L353.50 305.99 L353.75 306.15 L354.00 306.34 L354.25 306.66 L354.50 306.98 L354.75 306.92 L355.00 306.59 L355.25 306.49 L355.50 306.76 L355.75 307.02 L356.00 306.97 L356.25 306.86 L356.50 306.86 L356.75 306.92 L357.00 306.95 L357.25 306.87 L357.50 306.65 L357.75 306.31 L358.00 306.08 L358.25 306.25 L358.50 306.61 L358.75 306.83 L359.00 306.76 L359.25 306.54 L359.50 306.45 L359.75 306.50 L360.00 306.68 L360.25 306.92 L360.50 307.08 L360.75 307.03 L361.00 306.77 L361.25 306.51 L361.50 306.44 L361.75 306.51 L362.00 306.52 L362.25 306.43 L362.50 306.27 L362.75 306.20 L363.00 306.36 L363.25 306.69 L363.50 306.99 L363.75 307.08 L364.00 306.91 L364.25 306.62 L364.50 306.36 L364.75 306.43 L365.00 306.89 L365.25 307.29 L365.50 307.14 L365.75 306.55 L366.00 306.18 L366.25 306.31 L366.50 306.65 L366.75 306.91 L367.00 307.03 L367.25 306.97 L367.50 306.75 L367.75 306.58 L368.00 306.65 L368.25 306.74 L368.50 306.62 L368.75 306.52 L369.00 306.61 L369.25 306.79 L369.50 306.96 L369.75 307.14 L370.00 307.27 L370.25 307.19 L370.50 306.96 L370.75 306.81 L371.00 306.82 L371.25 306.84 L371.50 306.69 L371.75 306.42 L372.00 306.29 L372.25 306.39 L372.50 306.54 L372.75 306.67 L373.00 306.80 L373.25 306.90 L373.50 306.88 L373.75 306.78 L374.00 306.79 L374.25 306.93 L374.50 307.05 L374.75 307.06 L375.00 306.94 L375.25 306.94 L375.50 307.08 L375.75 307.21 L376.00 307.25 L376.25 307.17 L376.50 307.09 L376.75 307.00 L377.00 306.86 L377.25 306.67 L377.50 306.38 L377.75 306.16 L378.00 306.27 L378.25 306.59 L378.50 306.69 L378.75 306.58 L379.00 306.69 L379.25 307.06 L379.50 307.23 L379.75 307.07 L380.00 306.86 L380.25 306.81 L380.50 306.76 L380.75 306.73 L381.00 306.77 L381.25 306.87 L381.50 307.05 L381.75 307.24 L382.00 307.30 L382.25 307.10 L382.50 306.75 L382.75 306.54 L383.00 306.64 L383.25 306.85 L383.50 306.99 L383.75 306.99 L384.00 306.91 L384.25 306.90 L384.50 306.94 L384.75 307.01 L385.00 307.08 L385.25 307.31 L385.50 307.66 L385.75 307.65 L386.00 307.27 L386.25 306.94 L386.50 306.88 L386.75 306.92 L387.00 306.79 L387.25 306.52 L387.50 306.27 L387.75 306.24 L388.00 306.55 L388.25 306.91 L388.50 306.95 L388.75 306.71 L389.00 306.50 L389.25 306.45 L389.50 306.42 L389.75 306.32 L390.00 306.26 L390.25 306.31 L390.50 306.47 L390.75 306.73 L391.00 306.98 L391.25 307.11 L391.50 307.07 L391.75 307.04 L392.00 307.14 L392.25 307.34 L392.50 307.50 L392.75 307.34 L393.00 306.98 L393.25 306.70 L393.50 306.69 L393.75 306.91 L394.00 307.05 L394.25 307.06 L394.50 306.95 L394.75 306.70 L395.00 306.50 L395.25 306.57 L395.50 306.91 L395.75 307.18 L396.00 307.22 L396.25 307.11 L396.50 306.93 L396.75 306.72 L397.00 306.57 L397.25 306.49 L397.50 306.47 L397.75 306.56 L398.00 306.72 L398.25 306.83 L398.50 306.87 L398.75 306.86 L399.00 306.75 L399.25 306.54 L399.50 306.48 L399.75 306.74 L400.00 306.97 L400.25 306.93 L400.50 306.77 L400.75 306.65 L401.00 306.54 L401.25 306.17 L401.50 305.73 L401.75 305.70 L402.00 305.89 L402.25 305.96 L402.50 305.84 L402.75 305.72 L403.00 305.65 L403.25 305.37 L403.50 305.02 L403.75 304.86 L404.00 304.74 L404.25 304.25 L404.50 303.09 L404.75 301.44 L405.00 299.64 L405.25 297.80 L405.50 295.87 L405.75 294.12 L406.00 293.17 L406.25 293.27 L406.50 294.06 L406.75 295.10 L407.00 296.32 L407.25 297.71 L407.50 299.26 L407.75 300.88 L408.00 302.37 L408.25 303.52 L408.50 304.19 L408.75 304.56 L409.00 304.86 L409.25 305.23 L409.50 305.58 L409.75 305.70 L410.00 305.71 L410.25 305.81 L410.50 305.92 L410.75 305.91 L411.00 306.04 L411.25 306.43 L411.50 306.75 L411.75 306.83 L412.00 306.86 L412.25 307.00 L412.50 307.01 L412.75 306.91 L413.00 306.91 L413.25 307.05 L413.50 307.24 L413.75 307.32 L414.00 307.27 L414.25 307.10 L414.50 307.08 L414.75 307.31 L415.00 307.46 L415.25 307.36 L415.50 307.04 L415.75 306.85 L416.00 306.76 L416.25 306.81 L416.50 307.15 L416.75 307.55 L417.00 307.63 L417.25 307.29 L417.50 306.89 L417.75 306.74 L418.00 306.85 L418.25 306.94 L418.50 306.89 L418.75 306.88 L419.00 307.01 L419.25 307.22 L419.50 307.22 L419.75 307.10 L420.00 307.07 L420.25 307.15 L420.50 307.32 L420.75 307.45 L421.00 307.48 L421.25 307.39 L421.50 307.34 L421.75 307.30 L422.00 307.32 L422.25 307.30 L422.50 307.16 L422.75 306.96 L423.00 306.70 L423.25 306.71 L423.50 306.95 L423.75 307.14 L424.00 307.11 L424.25 307.00 L424.50 306.98 L424.75 307.03 L425.00 307.09 L425.25 307.13 L425.50 307.10 L425.75 307.02 L426.00 307.07 L426.25 307.09 L426.50 306.90 L426.75 306.80 L427.00 307.14 L427.25 307.75 L427.50 308.04 L427.75 307.86 L428.00 307.48 L428.25 307.24 L428.50 307.24 L428.75 307.43 L429.00 307.60 L429.25 307.44 L429.50 307.07 L429.75 306.76 L430.00 306.73 L430.25 306.86 L430.50 306.86 L430.75 306.79 L431.00 306.80 L431.25 306.95 L431.50 307.21 L431.75 307.43 L432.00 307.51 L432.25 307.42 L432.50 307.20 L432.75 306.99 L433.00 306.82 L433.25 306.79 L433.50 306.97 L433.75 307.23 L434.00 307.41 L434.25 307.45 L434.50 307.37 L434.75 307.20 L435.00 307.04 L435.25 307.05 L435.50 307.16 L435.75 307.26 L436.00 307.40 L436.25 307.51 L436.50 307.54 L436.75 307.45 L437.00 307.16 L437.25 306.86 L437.50 306.72 L437.75 306.78 L438.00 306.82 L438.25 306.81 L438.50 307.00 L438.75 307.32 L439.00 307.53 L439.25 307.57 L439.50 307.56 L439.75 307.39 L440.00 306.97 L440.25 306.55 L440.50 306.47 L440.75 306.70 L441.00 307.05 L441.25 307.22 L441.50 307.00 L441.75 306.53 L442.00 306.17 L442.25 306.17 L442.50 306.43 L442.75 306.71 L443.00 306.84 L443.25 306.78 L443.50 306.57 L443.75 306.31 L444.00 306.01 L444.25 305.79 L444.50 305.88 L444.75 306.12 L445.00 306.24 L445.25 306.15 L445.50 305.99 L445.75 305.74 L446.00 305.45 L446.25 305.22 L446.50 305.09 L446.75 304.92 L447.00 304.57 L447.25 303.95 L447.50 303.07 L447.75 301.93 L448.00 300.49 L448.25 298.59 L448.50 296.07 L448.75 292.85 L449.00 288.86 L449.25 284.41 L449.50 280.47 L449.75 278.45 L450.00 278.90 L450.25 280.78 L450.50 282.75 L450.75 284.34 L451.00 286.13 L451.25 288.78 L451.50 292.05 L451.75 295.19 L452.00 297.67 L452.25 299.49 L452.50 300.97 L452.75 302.23 L453.00 303.19 L453.25 303.91 L453.50 304.41 L453.75 304.61 L454.00 304.66 L454.25 304.91 L454.50 305.44 L454.75 305.80 L455.00 305.72 L455.25 305.66 L455.50 305.79 L455.75 305.97 L456.00 306.04 L456.25 305.89 L456.50 305.89 L456.75 306.11 L457.00 306.37 L457.25 306.40 L457.50 306.17 L457.75 306.18 L458.00 306.34 L458.25 306.28 L458.50 306.01 L458.75 305.86 L459.00 306.06 L459.25 306.37 L459.50 306.43 L459.75 306.14 L460.00 305.68 L460.25 305.38 L460.50 305.31 L460.75 305.22 L461.00 305.02 L461.25 304.83 L461.50 304.57 L461.75 304.08 L462.00 303.29 L462.25 302.32 L462.50 301.21 L462.75 299.68 L463.00 297.38 L463.25 294.30 L463.50 290.87 L463.75 288.21 L464.00 287.28 L464.25 287.98 L464.50 289.39 L464.75 290.76 L465.00 291.99 L465.25 293.20 L465.50 294.64 L465.75 296.53 L466.00 298.65 L466.25 300.55 L466.50 302.11 L466.75 303.25 L467.00 303.86 L467.25 304.32 L467.50 304.99 L467.75 305.75 L468.00 306.10 L468.25 305.91 L468.50 305.75 L468.75 306.05 L469.00 306.59 L469.25 306.92 L469.50 306.89 L469.75 306.81 L470.00 306.88 L470.25 306.88 L470.50 306.80 L470.75 306.81 L471.00 306.96 L471.25 307.13 L471.50 307.16 L471.75 307.15 L472.00 307.26 L472.25 307.45 L472.50 307.48 L472.75 307.29 L473.00 307.13 L473.25 307.11 L473.50 307.11 L473.75 307.07 L474.00 307.06 L474.25 307.02 L474.50 306.96 L474.75 306.95 L475.00 306.98 L475.25 307.09 L475.50 307.22 L475.75 307.27 L476.00 307.22 L476.25 307.21 L476.50 307.23 L476.75 307.02 L477.00 306.77 L477.25 306.80 L477.50 307.03 L477.75 307.15 L478.00 307.09 L478.25 307.10 L478.50 307.25 L478.75 307.35 L479.00 307.31 L479.25 307.17 L479.50 307.01 L479.75 306.99 L480.00 307.09 L480.25 307.14 L480.50 307.16 L480.75 307.17 L481.00 307.16 L481.25 307.12 L481.50 307.09 L481.75 307.18 L482.00 307.37 L482.25 307.58 L482.50 307.69 L482.75 307.62 L483.00 307.42 L483.25 307.27 L483.50 307.18 L483.75 307.15 L484.00 307.22 L484.25 307.32 L484.50 307.34 L484.75 307.32 L485.00 307.49 L485.25 307.66 L485.50 307.67 L485.75 307.61 L486.00 307.61 L486.25 307.71 L486.50 307.72 L486.75 307.72 L487.00 307.73 L487.25 307.69 L487.50 307.70 L487.75 307.81 L488.00 307.88 L488.25 307.66 L488.50 307.25 L488.75 306.93 L489.00 306.88 L489.25 307.05 L489.50 307.27 L489.75 307.45 L490.00 307.52 L490.25 307.52 L490.50 307.48 L490.75 307.40 L491.00 307.29 L491.25 307.25 L491.50 307.28 L491.75 307.32 L492.00 307.40 L492.25 307.49 L492.50 307.54 L492.75 307.38 L493.00 307.07 L493.25 307.05 L493.50 307.33 L493.75 307.52 L494.00 307.45 L494.25 307.23 L494.50 307.27 L494.75 307.63 L495.00 307.97 L495.25 308.10 L495.50 307.93 L495.75 307.76 L496.00 307.66 L496.25 307.55 L496.50 307.39 L496.75 307.17 L497.00 307.05 L497.25 307.11 L497.50 307.24 L497.75 307.24 L498.00 307.17 L498.25 307.15 L498.50 307.19 L498.75 307.18 L499.00 307.16 L499.25 307.26 L499.50 307.30 L499.75 307.28 L500.00 307.37 L500.25 307.54 L500.50 307.52 L500.75 307.28 L501.00 307.24 L501.25 307.53 L501.50 307.83 L501.75 307.78 L502.00 307.51 L502.25 307.37 L502.50 307.41 L502.75 307.50 L503.00 307.39 L503.25 307.21 L503.50 307.17 L503.75 307.28 L504.00 307.45 L504.25 307.36 L504.50 307.18 L504.75 307.21 L505.00 307.58 L505.25 307.98 L505.50 308.05 L505.75 307.95 L506.00 307.91 L506.25 307.84 L506.50 307.61 L506.75 307.35 L507.00 307.27 L507.25 307.31 L507.50 307.25 L507.75 307.18 L508.00 307.17 L508.25 307.23 L508.50 307.31 L508.75 307.38 L509.00 307.46 L509.25 307.51 L509.50 307.55 L509.75 307.55 L510.00 307.45 L510.25 307.32 L510.50 307.27 L510.75 307.36 L511.00 307.34 L511.25 307.13 L511.50 307.04 L511.75 307.25 L512.00 307.56 L512.25 307.66 L512.50 307.54 L512.75 307.39 L513.00 307.26 L513.25 307.11 L513.50 306.96 L513.75 306.74 L514.00 306.65 L514.25 306.76 L514.50 306.86 L514.75 306.61 L515.00 306.08 L515.25 305.84 L515.50 306.01 L515.75 306.27 L516.00 306.33 L516.25 306.20 L516.50 306.12 L516.75 306.15 L517.00 306.09 L517.25 305.66 L517.50 304.82 L517.75 303.86 L518.00 303.01 L518.25 302.10 L518.50 300.60 L518.75 298.21 L519.00 295.12 L519.25 291.58 L519.50 287.92 L519.75 284.66 L520.00 282.89 L520.25 283.32 L520.50 285.24 L520.75 287.35 L521.00 288.86 L521.25 289.59 L521.50 290.15 L521.75 291.38 L522.00 293.54 L522.25 296.14 L522.50 298.43 L522.75 300.26 L523.00 301.62 L523.25 302.59 L523.50 303.43 L523.75 304.28 L524.00 305.06 L524.25 305.63 L524.50 306.00 L524.75 306.20 L525.00 306.29 L525.25 306.36 L525.50 306.48 L525.75 306.52 L526.00 306.47 L526.25 306.49 L526.50 306.51 L526.75 306.58 L527.00 306.77 L527.25 307.08 L527.50 307.44 L527.75 307.63 L528.00 307.61" stroke="#0000ff" /><path d="M50.00 242.66 L50.25 242.64 L50.50 242.71 L50.75 242.95 L51.00 243.30 L51.25 243.55 L51.50 243.55 L51.75 243.38 L52.00 243.34 L52.25 243.52 L52.50 243.78 L52.75 243.98 L53.00 244.13 L53.25 244.27 L53.50 244.41 L53.75 244.64 L54.00 244.89 L54.25 245.00 L54.50 244.90 L54.75 244.82 L55.00 244.97 L55.25 245.22 L55.50 245.42 L55.75 245.46 L56.00 245.41 L56.25 245.48 L56.50 245.67 L56.75 245.79 L57.00 245.69 L57.25 245.53 L57.50 245.64 L57.75 245.95 L58.00 246.28 L58.25 246.54 L58.50 246.54 L58.75 246.35 L59.00 246.21 L59.25 246.35 L59.50 246.83 L59.75 247.23 L60.00 247.34 L60.25 247.33 L60.50 247.42 L60.75 247.66 L61.00 247.94 L61.25 248.12 L61.50 248.23 L61.75 248.23 L62.00 248.10 L62.25 248.02 L62.50 248.11 L62.75 248.46 L63.00 248.85 L63.25 248.97 L63.50 248.81 L63.75 248.57 L64.00 248.47 L64.25 248.63 L64.50 249.00 L64.75 249.27 L65.00 249.18 L65.25 248.88 L65.50 248.83 L65.75 249.13 L66.00 249.40 L66.25 249.43 L66.50 249.42 L66.75 249.64 L67.00 249.92 L67.25 249.93 L67.50 249.81 L67.75 249.81 L68.00 249.99 L68.25 250.23 L68.50 250.45 L68.75 250.61 L69.00 250.56 L69.25 250.29 L69.50 249.99 L69.75 249.91 L70.00 250.13 L70.25 250.34 L70.50 250.31 L70.75 250.19 L71.00 250.28 L71.25 250.66 L71.50 251.09 L71.75 251.37 L72.00 251.46 L72.25 251.39 L72.50 251.34 L72.75 251.38 L73.00 251.59 L73.25 251.90 L73.50 252.12 L73.75 252.26 L74.00 252.36 L74.25 252.49 L74.50 252.62 L74.75 252.57 L75.00 252.36 L75.25 252.28 L75.50 252.46 L75.75 252.64 L76.00 252.54 L76.25 252.47 L76.50 252.68 L76.75 253.12 L77.00 253.54 L77.25 253.77 L77.50 253.85 L77.75 253.70 L78.00 253.45 L78.25 253.37 L78.50 253.45 L78.75 253.58 L79.00 253.72 L79.25 253.87 L79.50 253.97 L79.75 253.96 L80.00 254.01 L80.25 254.18 L80.50 254.33 L80.75 254.35 L81.00 254.20 L81.25 253.89 L81.50 253.74 L81.75 254.09 L82.00 254.67 L82.25 254.98 L82.50 254.93 L82.75 254.79 L83.00 254.76 L83.25 254.86 L83.50 255.12 L83.75 255.37 L84.00 255.44 L84.25 255.36 L84.50 255.32 L84.75 255.29 L85.00 255.17 L85.25 255.09 L85.50 255.16 L85.75 255.36 L86.00 255.57 L86.25 255.75 L86.50 255.76 L86.75 255.67 L87.00 255.51 L87.25 255.29 L87.50 255.23 L87.75 255.50 L88.00 255.98 L88.25 256.27 L88.50 256.18 L88.75 255.92 L89.00 255.62 L89.25 255.43 L89.50 255.60 L89.75 256.05 L90.00 256.47 L90.25 256.69 L90.50 256.78 L90.75 256.88 L91.00 257.02 L91.25 257.15 L91.50 257.18 L91.75 257.13 L92.00 257.14 L92.25 257.25 L92.50 257.40 L92.75 257.40 L93.00 257.25 L93.25 257.14 L93.50 257.16 L93.75 257.30 L94.00 257.39 L94.25 257.34 L94.50 257.30 L94.75 257.40 L95.00 257.61 L95.25 257.76 L95.50 257.76 L95.75 257.81 L96.00 258.05 L96.25 258.27 L96.50 258.34 L96.75 258.36 L97.00 258.55 L97.25 258.76 L97.50 258.76 L97.75 258.62 L98.00 258.59 L98.25 258.77 L98.50 258.95 L98.75 258.89 L99.00 258.57 L99.25 258.25 L99.50 258.15 L99.75 258.26 L100.00 258.58 L100.25 258.85 L100.50 258.83 L100.75 258.52 L101.00 258.21 L101.25 258.25 L101.50 258.57 L101.75 258.97 L102.00 259.30 L102.25 259.52 L102.50 259.59 L102.75 259.52 L103.00 259.45 L103.25 259.41 L103.50 259.42 L103.75 259.49 L104.00 259.53 L104.25 259.51 L104.50 259.44 L104.75 259.48 L105.00 259.67 L105.25 259.89 L105.50 260.08 L105.75 260.24 L106.00 260.34 L106.25 260.41 L106.50 260.44 L106.75 260.43 L107.00 260.42 L107.25 260.38 L107.50 260.34 L107.75 260.35 L108.00 260.35 L108.25 260.24 L108.50 260.14 L108.75 260.30 L109.00 260.62 L109.25 260.79 L109.50 260.90 L109.75 260.99 L110.00 261.05 L110.25 261.10 L110.50 261.22 L110.75 261.37 L111.00 261.24 L111.25 260.94 L111.50 260.72 L111.75 260.64 L112.00 260.69 L112.25 260.81 L112.50 261.00 L112.75 261.30 L113.00 261.68 L113.25 261.86 L113.50 261.83 L113.75 261.70 L114.00 261.61 L114.25 261.57 L114.50 261.48 L114.75 261.49 L115.00 261.65 L115.25 261.81 L115.50 261.83 L115.75 261.77 L116.00 261.76 L116.25 261.90 L116.50 262.14 L116.75 262.32 L117.00 262.32 L117.25 262.14 L117.50 262.04 L117.75 262.08 L118.00 262.14 L118.25 262.26 L118.50 262.47 L118.75 262.52 L119.00 262.22 L119.25 261.84 L119.50 261.73 L119.75 261.87 L120.00 261.97 L120.25 261.99 L120.50 262.13 L120.75 262.36 L121.00 262.46 L121.25 262.40 L121.50 262.25 L121.75 262.14 L122.00 262.07 L122.25 262.14 L122.50 262.39 L122.75 262.64 L123.00 262.66 L123.25 262.51 L123.50 262.38 L123.75 262.49 L124.00 262.87 L124.25 263.23 L124.50 263.37 L124.75 263.24 L125.00 263.09 L125.25 263.09 L125.50 263.28 L125.75 263.57 L126.00 263.84 L126.25 264.07 L126.50 264.17 L126.75 264.11 L127.00 263.95 L127.25 263.72 L127.50 263.49 L127.75 263.27 L128.00 263.29 L128.25 263.54 L128.50 263.71 L128.75 263.70 L129.00 263.52 L129.25 263.37 L129.50 263.39 L129.75 263.51 L130.00 263.62 L130.25 263.67 L130.50 263.75 L130.75 264.01 L131.00 264.29 L131.25 264.41 L131.50 264.29 L131.75 264.15 L132.00 264.15 L132.25 264.23 L132.50 264.18 L132.75 264.06 L133.00 264.08 L133.25 264.19 L133.50 264.18 L133.75 264.01 L134.00 263.91 L134.25 264.04 L134.50 264.21 L134.75 264.16 L135.00 263.89 L135.25 263.70 L135.50 263.68 L135.75 263.69 L136.00 263.78 L136.25 264.00 L136.50 264.19 L136.75 264.10 L137.00 263.91 L137.25 263.82 L137.50 263.68 L137.75 263.51 L138.00 263.68 L138.25 264.29 L138.50 264.89 L138.75 265.13 L139.00 265.07 L139.25 264.96 L139.50 264.89 L139.75 264.88 L140.00 264.97 L140.25 265.11 L140.50 265.07 L140.75 264.76 L141.00 264.44 L141.25 264.42 L141.50 264.68 L141.75 264.98 L142.00 265.13 L142.25 265.14 L142.50 265.08 L142.75 264.89 L143.00 264.68 L143.25 264.62 L143.50 264.76 L143.75 264.87 L144.00 264.75 L144.25 264.66 L144.50 264.79 L144.75 265.01 L145.00 265.22 L145.25 265.40 L145.50 265.55 L145.75 265.41 L146.00 265.12 L146.25 265.01 L146.50 265.01 L146.75 265.04 L147.00 265.19 L147.25 265.50 L147.50 265.74 L147.75 265.62 L148.00 265.29 L148.25 264.98 L148.50 264.77 L148.75 264.70 L149.00 264.75 L149.25 264.89 L149.50 265.03 L149.75 264.97 L150.00 264.70 L150.25 264.42 L150.50 264.45 L150.75 264.69 L151.00 264.90 L151.25 264.95 L151.50 264.86 L151.75 264.82 L152.00 264.83 L152.25 264.84 L152.50 264.76 L152.75 264.51 L153.00 264.27 L153.25 264.23 L153.50 264.43 L153.75 264.50 L154.00 264.20 L154.25 263.72 L154.50 263.37 L154.75 263.12 L155.00 262.84 L155.25 262.47 L155.50 261.92 L155.75 261.37 L156.00 260.98 L156.25 260.72 L156.50 260.26 L156.75 259.43 L157.00 258.36 L157.25 257.09 L157.50 255.68 L157.75 254.08 L158.00 252.16 L158.25 249.71 L158.50 246.36 L158.75 241.71 L159.00 235.25 L159.25 226.28 L159.50 213.75 L159.75 196.74 L160.00 175.05 L160.25 149.93 L160.50 125.20 L160.75 107.64 L161.00 103.81 L161.25 114.92 L161.50 136.48 L161.75 161.80 L162.00 185.37 L162.25 204.68 L162.50 219.67 L162.75 231.03 L163.00 239.34 L163.25 245.01 L163.50 248.82 L163.75 251.64 L164.00 253.95 L164.25 255.83 L164.50 257.24 L164.75 258.29 L165.00 259.05 L165.25 259.84 L165.50 260.85 L165.75 261.83 L166.00 262.58 L166.25 263.02 L166.50 263.28 L166.75 263.47 L167.00 263.64 L167.25 263.96 L167.50 264.41 L167.75 264.89 L168.00 265.33 L168.25 265.54 L168.50 265.51 L168.75 265.44 L169.00 265.53 L169.25 265.80 L169.50 265.97 L169.75 265.99 L170.00 265.94 L170.25 265.96 L170.50 266.21 L170.75 266.48 L171.00 266.59 L171.25 266.64 L171.50 266.71 L171.75 266.84 L172.00 266.96 L172.25 267.03 L172.50 267.05 L172.75 267.08 L173.00 267.13 L173.25 266.99 L173.50 266.53 L173.75 266.22 L174.00 266.45 L174.25 266.98 L174.50 267.40 L174.75 267.47 L175.00 267.33 L175.25 267.16 L175.50 267.02 L175.75 267.01 L176.00 267.15 L176.25 267.43 L176.50 267.74 L176.75 268.02 L177.00 268.18 L177.25 268.02 L177.50 267.64 L177.75 267.49 L178.00 267.75 L178.25 268.06 L178.50 268.08 L178.75 267.87 L179.00 267.51 L179.25 267.06 L179.50 266.78 L179.75 267.00 L180.00 267.51 L180.25 267.71 L180.50 267.55 L180.75 267.32 L181.00 267.14 L181.25 267.01 L181.50 266.93 L181.75 266.91 L182.00 266.80 L182.25 266.66 L182.50 266.62 L182.75 266.52 L183.00 266.32 L183.25 266.11 L183.50 265.92 L183.75 265.64 L184.00 265.31 L184.25 264.85 L184.50 264.15 L184.75 263.26 L185.00 262.49 L185.25 261.80 L185.50 260.73 L185.75 259.13 L186.00 256.89 L186.25 253.76 L186.50 249.38 L186.75 243.32 L187.00 235.40 L187.25 225.55 L187.50 214.29 L187.75 203.66 L188.00 196.93 L188.25 196.63 L188.50 202.44 L188.75 212.04 L189.00 222.90 L189.25 233.11 L189.50 241.73 L189.75 248.51 L190.00 253.43 L190.25 256.77 L190.50 259.15 L190.75 261.07 L191.00 262.58 L191.25 263.51 L191.50 264.13 L191.75 264.80 L192.00 265.49 L192.25 265.99 L192.50 266.16 L192.75 266.16 L193.00 266.39 L193.25 267.01 L193.50 267.63 L193.75 267.89 L194.00 267.84 L194.25 267.79 L194.50 267.79 L194.75 267.79 L195.00 267.90 L195.25 268.06 L195.50 268.15 L195.75 268.18 L196.00 268.32 L196.25 268.51 L196.50 268.55 L196.75 268.54 L197.00 268.53 L197.25 268.52 L197.50 268.50 L197.75 268.56 L198.00 268.66 L198.25 268.62 L198.50 268.48 L198.75 268.48 L199.00 268.66 L199.25 268.81 L199.50 268.77 L199.75 268.60 L200.00 268.40 L200.25 268.27 L200.50 268.35 L200.75 268.58 L201.00 268.71 L201.25 268.53 L201.50 268.32 L201.75 268.41 L202.00 268.67 L202.25 268.82 L202.50 268.73 L202.75 268.48 L203.00 268.33 L203.25 268.39 L203.50 268.59 L203.75 268.79 L204.00 268.98 L204.25 269.19 L204.50 269.37 L204.75 269.42 L205.00 269.31 L205.25 269.21 L205.50 269.21 L205.75 269.32 L206.00 269.47 L206.25 269.55 L206.50 269.58 L206.75 269.61 L207.00 269.60 L207.25 269.51 L207.50 269.28 L207.75 269.12 L208.00 269.27 L208.25 269.58 L208.50 269.78 L208.75 269.84 L209.00 269.79 L209.25 269.64 L209.50 269.44 L209.75 269.29 L210.00 269.32 L210.25 269.50 L210.50 269.75 L210.75 269.95 L211.00 269.90 L211.25 269.72 L211.50 269.69 L211.75 269.71 L212.00 269.64 L212.25 269.51 L212.50 269.52 L212.75 269.72 L213.00 269.98 L213.25 270.15 L213.50 270.07 L213.75 269.86 L214.00 269.74 L214.25 269.94 L214.50 270.31 L214.75 270.47 L215.00 270.33 L215.25 270.09 L215.50 269.98 L215.75 269.96 L216.00 270.00 L216.25 270.07 L216.50 270.19 L216.75 270.27 L217.00 270.24 L217.25 270.16 L217.50 270.11 L217.75 270.13 L218.00 270.11 L218.25 269.96 L218.50 269.78 L218.75 269.78 L219.00 269.84 L219.25 269.84 L219.50 269.91 L219.75 270.19 L220.00 270.49 L220.25 270.37 L220.50 270.00 L220.75 269.75 L221.00 269.86 L221.25 270.18 L221.50 270.45 L221.75 270.40 L222.00 269.97 L222.25 269.60 L222.50 269.63 L222.75 269.90 L223.00 270.05 L223.25 270.02 L223.50 269.92 L223.75 269.92 L224.00 270.09 L224.25 270.34 L224.50 270.64 L224.75 270.88 L225.00 270.90 L225.25 270.64 L225.50 270.39 L225.75 270.55 L226.00 270.90 L226.25 270.92 L226.50 270.65 L226.75 270.41 L227.00 270.36 L227.25 270.42 L227.50 270.45 L227.75 270.55 L228.00 270.73 L228.25 270.85 L228.50 270.84 L228.75 270.66 L229.00 270.54 L229.25 270.56 L229.50 270.59 L229.75 270.61 L230.00 270.75 L230.25 271.13 L230.50 271.55 L230.75 271.60 L231.00 271.38 L231.25 271.26 L231.50 271.40 L231.75 271.55 L232.00 271.39 L232.25 271.10 L232.50 270.96 L232.75 270.97 L233.00 271.00 L233.25 270.99 L233.50 271.00 L233.75 271.03 L234.00 270.95 L234.25 270.73 L234.50 270.38 L234.75 270.18 L235.00 270.29 L235.25 270.53 L235.50 270.73 L235.75 270.83 L236.00 270.92 L236.25 271.03 L236.50 271.02 L236.75 270.99 L237.00 270.92 L237.25 270.84 L237.50 270.80 L237.75 270.70 L238.00 270.61 L238.25 270.70 L238.50 270.97 L238.75 271.26 L239.00 271.29 L239.25 271.10 L239.50 270.99 L239.75 271.11 L240.00 271.40 L240.25 271.54 L240.50 271.32 L240.75 271.00 L241.00 270.86 L241.25 271.01 L241.50 271.22 L241.75 271.39 L242.00 271.48 L242.25 271.45 L242.50 271.25 L242.75 270.95 L243.00 270.75 L243.25 270.71 L243.50 270.76 L243.75 270.85 L244.00 271.00 L244.25 271.10 L244.50 271.08 L244.75 270.91 L245.00 270.82 L245.25 270.91 L245.50 271.00 L245.75 271.06 L246.00 271.14 L246.25 271.18 L246.50 271.08 L246.75 271.05 L247.00 271.24 L247.25 271.44 L247.50 271.54 L247.75 271.63 L248.00 271.68 L248.25 271.44 L248.50 271.02 L248.75 270.79 L249.00 270.89 L249.25 271.26 L249.50 271.60 L249.75 271.63 L250.00 271.47 L250.25 271.35 L250.50 271.42 L250.75 271.52 L251.00 271.42 L251.25 271.22 L251.50 271.12 L251.75 271.15 L252.00 271.17 L252.25 271.04 L252.50 270.82 L252.75 270.60 L253.00 270.50 L253.25 270.59 L253.50 270.77 L253.75 270.77 L254.00 270.67 L254.25 270.75 L254.50 270.96 L254.75 271.21 L255.00 271.43 L255.25 271.53 L255.50 271.45 L255.75 271.21 L256.00 270.98 L256.25 270.83 L256.50 270.63 L256.75 270.55 L257.00 270.71 L257.25 270.95 L257.50 271.08 L257.75 271.08 L258.00 271.17 L258.25 271.20 L258.50 271.08 L258.75 271.07 L259.00 271.26 L259.25 271.45 L259.50 271.48 L259.75 271.37 L260.00 271.09 L260.25 270.66 L260.50 270.36 L260.75 270.46 L261.00 270.87 L261.25 271.27 L261.50 271.39 L261.75 271.19 L262.00 270.96 L262.25 270.91 L262.50 270.90 L262.75 270.81 L263.00 270.70 L263.25 270.83 L263.50 271.16 L263.75 271.31 L264.00 271.09 L264.25 270.65 L264.50 270.45 L264.75 270.59 L265.00 270.84 L265.25 270.94 L265.50 270.70 L265.75 270.20 L266.00 269.73 L266.25 269.42 L266.50 269.29 L266.75 269.29 L267.00 269.49 L267.25 269.83 L267.50 270.00 L267.75 269.78 L268.00 269.29 L268.25 268.83 L268.50 268.72 L268.75 268.90 L269.00 268.95 L269.25 268.64 L269.50 268.14 L269.75 267.61 L270.00 266.95 L270.25 266.02 L270.50 264.88 L270.75 263.87 L271.00 263.13 L271.25 262.33 L271.50 260.94 L271.75 258.81 L272.00 256.16 L272.25 252.97 L272.50 248.60 L272.75 242.23 L273.00 233.26 L273.25 221.08 L273.50 205.24 L273.75 186.11 L274.00 165.88 L274.25 149.40 L274.50 141.66 L274.75 143.66 L275.00 153.22 L275.25 168.29 L275.50 186.56 L275.75 204.70 L276.00 220.18 L276.25 232.35 L276.50 241.49 L276.75 248.12 L277.00 252.87 L277.25 256.34 L277.50 258.88 L277.75 260.75 L278.00 262.15 L278.25 263.22 L278.50 264.19 L278.75 265.27 L279.00 266.43 L279.25 267.23 L279.50 267.52 L279.75 267.74 L280.00 268.24 L280.25 268.71 L280.50 268.84 L280.75 268.78 L281.00 268.98 L281.25 269.48 L281.50 269.95 L281.75 270.19 L282.00 270.20 L282.25 270.21 L282.50 270.30 L282.75 270.54 L283.00 270.84 L283.25 271.03 L283.50 271.08 L283.75 271.01 L284.00 270.89 L284.25 270.70 L284.50 270.72 L284.75 271.08 L285.00 271.49 L285.25 271.72 L285.50 271.63 L285.75 271.31 L286.00 271.01 L286.25 270.83 L286.50 270.85 L286.75 271.02 L287.00 271.26 L287.25 271.38 L287.50 271.26 L287.75 271.15 L288.00 271.25 L288.25 271.51 L288.50 271.78 L288.75 271.99 L289.00 272.14 L289.25 272.35 L289.50 272.52 L289.75 272.37 L290.00 271.93 L290.25 271.58 L290.50 271.62 L290.75 271.87 L291.00 272.12 L291.25 272.31 L291.50 272.39 L291.75 272.35 L292.00 272.15 L292.25 271.83 L292.50 271.48 L292.75 271.26 L293.00 271.26 L293.25 271.33 L293.50 271.50 L293.75 271.78 L294.00 272.13 L294.25 272.36 L294.50 272.33 L294.75 272.23 L295.00 272.12 L295.25 271.96 L295.50 271.86 L295.75 271.87 L296.00 271.95 L296.25 271.98 L296.50 271.97 L296.75 271.95 L297.00 271.92 L297.25 271.93 L297.50 272.00 L297.75 272.09 L298.00 272.21 L298.25 272.38 L298.50 272.45 L298.75 272.31 L299.00 272.10 L299.25 271.98 L299.50 271.95 L299.75 271.91 L300.00 271.90 L300.25 272.01 L300.50 272.35 L300.75 272.75 L301.00 272.84 L301.25 272.58 L301.50 272.23 L301.75 272.12 L302.00 272.18 L302.25 272.25 L302.50 272.33 L302.75 272.36 L303.00 272.29 L303.25 272.07 L303.50 271.93 L303.75 272.09 L304.00 272.40 L304.25 272.59 L304.50 272.56 L304.75 272.54 L305.00 272.65 L305.25 272.80 L305.50 272.94 L305.75 272.98 L306.00 272.80 L306.25 272.41 L306.50 272.06 L306.75 271.98 L307.00 272.19 L307.25 272.49 L307.50 272.76 L307.75 272.88 L308.00 272.75 L308.25 272.44 L308.50 272.15 L308.75 272.09 L309.00 272.16 L309.25 272.21 L309.50 272.25 L309.75 272.39 L310.00 272.62 L310.25 272.74 L310.50 272.70 L310.75 272.52 L311.00 272.34 L311.25 272.19 L311.50 271.98 L311.75 271.83 L312.00 271.79 L312.25 271.86 L312.50 271.98 L312.75 272.25 L313.00 272.70 L313.25 273.03 L313.50 272.83 L313.75 272.22 L314.00 271.70 L314.25 271.52 L314.50 271.52 L314.75 271.55 L315.00 271.66 L315.25 271.88 L315.50 272.05 L315.75 272.21 L316.00 272.41 L316.25 272.57 L316.50 272.51 L316.75 272.17 L317.00 271.82 L317.25 271.69 L317.50 271.68 L317.75 271.67 L318.00 271.67 L318.25 271.62 L318.50 271.50 L318.75 271.34 L319.00 271.23 L319.25 271.16 L319.50 271.04 L319.75 270.99 L320.00 270.98 L320.25 271.05 L320.50 271.14 L320.75 271.04 L321.00 270.81 L321.25 270.70 L321.50 270.75 L321.75 270.64 L322.00 270.33 L322.25 270.07 L322.50 269.87 L322.75 269.67 L323.00 269.42 L323.25 269.00 L323.50 268.38 L323.75 267.57 L324.00 266.60 L324.25 265.62 L324.50 264.64 L324.75 263.48 L325.00 261.89 L325.25 259.73 L325.50 256.69 L325.75 252.23 L326.00 245.92 L326.25 237.64 L326.50 227.15 L326.75 214.23 L327.00 199.58 L327.25 185.77 L327.50 177.09 L327.75 175.98 L328.00 180.69 L328.25 188.73 L328.50 199.38 L328.75 211.88 L329.00 224.35 L329.25 235.10 L329.50 243.54 L329.75 249.83 L330.00 254.49 L330.25 258.15 L330.50 261.09 L330.75 263.25 L331.00 264.78 L331.25 265.85 L331.50 266.73 L331.75 267.47 L332.00 268.07 L332.25 268.59 L332.50 269.03 L332.75 269.39 L333.00 269.75 L333.25 270.13 L333.50 270.37 L333.75 270.49 L334.00 270.66 L334.25 271.01 L334.50 271.37 L334.75 271.59 L335.00 271.65 L335.25 271.53 L335.50 271.32 L335.75 271.21 L336.00 271.36 L336.25 271.75 L336.50 272.08 L336.75 272.09 L337.00 271.80 L337.25 271.62 L337.50 271.73 L337.75 271.99 L338.00 272.14 L338.25 272.07 L338.50 271.86 L338.75 271.73 L339.00 271.74 L339.25 271.82 L339.50 271.83 L339.75 271.69 L340.00 271.61 L340.25 271.68 L340.50 271.73 L340.75 271.61 L341.00 271.28 L341.25 270.95 L341.50 270.63 L341.75 270.12 L342.00 269.45 L342.25 268.68 L342.50 267.76 L342.75 266.52 L343.00 264.85 L343.25 262.72 L343.50 260.04 L343.75 257.15 L344.00 255.08 L344.25 254.65 L344.50 255.57 L344.75 257.13 L345.00 259.02 L345.25 261.23 L345.50 263.53 L345.75 265.59 L346.00 267.14 L346.25 268.15 L346.50 268.90 L346.75 269.54 L347.00 270.04 L347.25 270.45 L347.50 270.96 L347.75 271.52 L348.00 271.95 L348.25 272.20 L348.50 272.36 L348.75 272.47 L349.00 272.44 L349.25 272.31 L349.50 272.24 L349.75 272.33 L350.00 272.46 L350.25 272.50 L350.50 272.54 L350.75 272.75 L351.00 273.04 L351.25 273.17 L351.50 273.22 L351.75 273.21 L352.00 273.08 L352.25 272.90 L352.50 272.94 L352.75 273.16 L353.00 273.13 L353.25 272.71 L353.50 272.27 L353.75 272.21 L354.00 272.42 L354.25 272.60 L354.50 272.71 L354.75 272.65 L355.00 272.56 L355.25 272.55 L355.50 272.62 L355.75 272.69 L356.00 272.65 L356.25 272.66 L356.50 272.72 L356.75 272.68 L357.00 272.67 L357.25 272.88 L357.50 273.32 L357.75 273.65 L358.00 273.67 L358.25 273.48 L358.50 273.41 L358.75 273.60 L359.00 273.85 L359.25 274.00 L359.50 273.88 L359.75 273.56 L360.00 273.24 L360.25 273.15 L360.50 273.42 L360.75 273.70 L361.00 273.69 L361.25 273.34 L361.50 272.93 L361.75 272.84 L362.00 273.03 L362.25 273.15 L362.50 273.09 L362.75 273.05 L363.00 273.16 L363.25 273.36 L363.50 273.52 L363.75 273.50 L364.00 273.36 L364.25 273.32 L364.50 273.40 L364.75 273.44 L365.00 273.46 L365.25 273.61 L365.50 273.76 L365.75 273.87 L366.00 273.95 L366.25 273.95 L366.50 273.73 L366.75 273.49 L367.00 273.53 L367.25 273.55 L367.50 273.39 L367.75 273.20 L368.00 273.15 L368.25 273.31 L368.50 273.40 L368.75 273.28 L369.00 273.08 L369.25 273.03 L369.50 273.30 L369.75 273.61 L370.00 273.56 L370.25 273.17 L370.50 272.72 L370.75 272.52 L371.00 272.58 L371.25 272.64 L371.50 272.70 L371.75 272.83 L372.00 273.06 L372.25 273.17 L372.50 273.08 L372.75 273.08 L373.00 273.23 L373.25 273.33 L373.50 273.18 L373.75 273.08 L374.00 273.24 L374.25 273.36 L374.50 273.31 L374.75 273.21 L375.00 273.16 L375.25 273.15 L375.50 273.19 L375.75 273.33 L376.00 273.39 L376.25 273.22 L376.50 272.96 L376.75 272.86 L377.00 272.89 L377.25 273.00 L377.50 273.17 L377.75 273.38 L378.00 273.45 L378.25 273.25 L378.50 273.08 L378.75 273.15 L379.00 273.47 L379.25 273.79 L379.50 273.88 L379.75 273.68 L380.00 273.43 L380.25 273.49 L380.50 273.81 L380.75 274.03 L381.00 274.00 L381.25 273.86 L381.50 273.76 L381.75 273.66 L382.00 273.61 L382.25 273.68 L382.50 273.83 L382.75 273.91 L383.00 273.88 L383.25 273.87 L383.50 273.87 L383.75 273.84 L384.00 273.76 L384.25 273.77 L384.50 273.88 L384.75 273.92 L385.00 273.78 L385.25 273.54 L385.50 273.46 L385.75 273.49 L386.00 273.48 L386.25 273.41 L386.50 273.42 L386.75 273.53 L387.00 273.65 L387.25 273.75 L387.50 273.79 L387.75 273.75 L388.00 273.72 L388.25 273.86 L388.50 274.05 L388.75 274.03 L389.00 273.83 L389.25 273.71 L389.50 273.68 L389.75 273.51 L390.00 273.27 L390.25 273.20 L390.50 273.44 L390.75 273.82 L391.00 274.04 L391.25 274.01 L391.50 273.74 L391.75 273.50 L392.00 273.54 L392.25 273.70 L392.50 273.75 L392.75 273.49 L393.00 273.06 L393.25 272.77 L393.50 272.70 L393.75 272.98 L394.00 273.42 L394.25 273.78 L394.50 273.94 L394.75 273.90 L395.00 273.90 L395.25 274.03 L395.50 274.12 L395.75 274.07 L396.00 273.86 L396.25 273.72 L396.50 273.59 L396.75 273.37 L397.00 273.21 L397.25 273.19 L397.50 273.27 L397.75 273.38 L398.00 273.45 L398.25 273.40 L398.50 273.27 L398.75 273.28 L399.00 273.32 L399.25 273.18 L399.50 273.01 L399.75 273.12 L400.00 273.41 L400.25 273.51 L400.50 273.42 L400.75 273.21 L401.00 273.12 L401.25 273.21 L401.50 273.30 L401.75 273.11 L402.00 272.79 L402.25 272.78 L402.50 272.95 L402.75 273.01 L403.00 272.82 L403.25 272.43 L403.50 271.93 L403.75 271.48 L404.00 271.12 L404.25 270.47 L404.50 269.29 L404.75 267.76 L405.00 265.91 L405.25 263.67 L405.50 261.30 L405.75 259.47 L406.00 258.73 L406.25 258.98 L406.50 259.86 L406.75 261.01 L407.00 262.26 L407.25 263.68 L407.50 265.37 L407.75 267.16 L408.00 268.67 L408.25 269.85 L408.50 270.66 L408.75 271.13 L409.00 271.42 L409.25 271.72 L409.50 272.09 L409.75 272.41 L410.00 272.65 L410.25 272.74 L410.50 272.57 L410.75 272.39 L411.00 272.59 L411.25 273.03 L411.50 273.26 L411.75 273.21 L412.00 273.08 L412.25 273.03 L412.50 273.01 L412.75 273.09 L413.00 273.28 L413.25 273.43 L413.50 273.34 L413.75 273.15 L414.00 273.13 L414.25 273.36 L414.50 273.70 L414.75 273.96 L415.00 274.09 L415.25 274.00 L415.50 273.85 L415.75 273.88 L416.00 274.10 L416.25 274.28 L416.50 274.15 L416.75 273.71 L417.00 273.24 L417.25 273.01 L417.50 273.11 L417.75 273.43 L418.00 273.81 L418.25 274.12 L418.50 274.20 L418.75 273.93 L419.00 273.55 L419.25 273.43 L419.50 273.62 L419.75 274.03 L420.00 274.36 L420.25 274.46 L420.50 274.38 L420.75 274.26 L421.00 274.22 L421.25 274.25 L421.50 274.29 L421.75 274.37 L422.00 274.39 L422.25 274.26 L422.50 274.16 L422.75 274.08 L423.00 274.07 L423.25 274.09 L423.50 274.00 L423.75 273.83 L424.00 273.56 L424.25 273.38 L424.50 273.45 L424.75 273.71 L425.00 274.03 L425.25 274.13 L425.50 274.00 L425.75 273.94 L426.00 274.00 L426.25 274.07 L426.50 273.99 L426.75 273.72 L427.00 273.49 L427.25 273.61 L427.50 274.05 L427.75 274.34 L428.00 274.20 L428.25 274.10 L428.50 274.33 L428.75 274.53 L429.00 274.38 L429.25 274.14 L429.50 274.02 L429.75 273.97 L430.00 273.96 L430.25 273.97 L430.50 273.92 L430.75 273.78 L431.00 273.56 L431.25 273.41 L431.50 273.48 L431.75 273.66 L432.00 273.76 L432.25 273.80 L432.50 273.94 L432.75 273.99 L433.00 273.74 L433.25 273.50 L433.50 273.58 L433.75 273.63 L434.00 273.32 L434.25 273.10 L434.50 273.41 L434.75 274.15 L435.00 274.65 L435.25 274.68 L435.50 274.44 L435.75 274.12 L436.00 273.86 L436.25 273.60 L436.50 273.29 L436.75 273.07 L437.00 273.05 L437.25 273.20 L437.50 273.40 L437.75 273.63 L438.00 273.83 L438.25 273.83 L438.50 273.68 L438.75 273.65 L439.00 273.79 L439.25 273.96 L439.50 274.05 L439.75 274.04 L440.00 273.93 L440.25 273.72 L440.50 273.47 L440.75 273.27 L441.00 273.26 L441.25 273.42 L441.50 273.60 L441.75 273.74 L442.00 273.74 L442.25 273.63 L442.50 273.51 L442.75 273.52 L443.00 273.63 L443.25 273.64 L443.50 273.52 L443.75 273.30 L444.00 273.00 L444.25 272.79 L444.50 272.85 L444.75 273.08 L445.00 273.21 L445.25 273.06 L445.50 272.71 L445.75 272.30 L446.00 271.85 L446.25 271.47 L446.50 271.23 L446.75 271.09 L447.00 270.86 L447.25 270.30 L447.50 269.32 L447.75 267.96 L448.00 266.36 L448.25 264.44 L448.50 262.01 L448.75 258.67 L449.00 254.06 L449.25 248.72 L449.50 244.11 L449.75 241.93 L450.00 242.42 L450.25 244.38 L450.50 246.66 L450.75 248.68 L451.00 250.72 L451.25 253.31 L451.50 256.54 L451.75 260.09 L452.00 263.44 L452.25 266.07 L452.50 267.69 L452.75 268.74 L453.00 269.88 L453.25 270.94 L453.50 271.59 L453.75 271.90 L454.00 272.16 L454.25 272.38 L454.50 272.52 L454.75 272.84 L455.00 273.26 L455.25 273.48 L455.50 273.46 L455.75 273.42 L456.00 273.45 L456.25 273.36 L456.50 273.15 L456.75 273.10 L457.00 273.23 L457.25 273.28 L457.50 273.13 L457.75 272.94 L458.00 272.83 L458.25 272.79 L458.50 272.82 L458.75 272.98 L459.00 273.27 L459.25 273.44 L459.50 273.35 L459.75 273.08 L460.00 272.78 L460.25 272.62 L460.50 272.58 L460.75 272.48 L461.00 272.15 L461.25 271.55 L461.50 270.90 L461.75 270.38 L462.00 269.85 L462.25 269.20 L462.50 268.14 L462.75 266.21 L463.00 263.23 L463.25 259.64 L463.50 256.20 L463.75 253.69 L464.00 252.67 L464.25 253.28 L464.50 254.87 L464.75 256.43 L465.00 257.51 L465.25 258.53 L465.50 260.21 L465.75 262.52 L466.00 264.88 L466.25 266.87 L466.50 268.44 L466.75 269.74 L467.00 270.80 L467.25 271.61 L467.50 272.06 L467.75 272.22 L468.00 272.24 L468.25 272.24 L468.50 272.45 L468.75 272.79 L469.00 273.05 L469.25 273.12 L469.50 273.16 L469.75 273.37 L470.00 273.56 L470.25 273.55 L470.50 273.48 L470.75 273.53 L471.00 273.65 L471.25 273.67 L471.50 273.60 L471.75 273.66 L472.00 273.84 L472.25 273.98 L472.50 273.97 L472.75 273.92 L473.00 273.91 L473.25 273.86 L473.50 273.86 L473.75 274.07 L474.00 274.34 L474.25 274.34 L474.50 274.10 L474.75 273.90 L475.00 273.81 L475.25 273.71 L475.50 273.65 L475.75 273.76 L476.00 273.89 L476.25 273.93 L476.50 273.90 L476.75 273.84 L477.00 273.75 L477.25 273.70 L477.50 273.86 L477.75 274.16 L478.00 274.42 L478.25 274.47 L478.50 274.33 L478.75 274.06 L479.00 273.87 L479.25 274.10 L479.50 274.63 L479.75 275.06 L480.00 275.04 L480.25 274.63 L480.50 274.20 L480.75 274.03 L481.00 274.18 L481.25 274.32 L481.50 274.23 L481.75 274.08 L482.00 274.10 L482.25 274.28 L482.50 274.33 L482.75 274.31 L483.00 274.35 L483.25 274.46 L483.50 274.54 L483.75 274.53 L484.00 274.38 L484.25 274.09 L484.50 273.81 L484.75 273.85 L485.00 274.33 L485.25 274.81 L485.50 275.01 L485.75 274.95 L486.00 274.86 L486.25 274.76 L486.50 274.54 L486.75 274.30 L487.00 274.14 L487.25 274.17 L487.50 274.31 L487.75 274.38 L488.00 274.31 L488.25 274.34 L488.50 274.63 L488.75 274.81 L489.00 274.59 L489.25 274.30 L489.50 274.36 L489.75 274.62 L490.00 274.68 L490.25 274.57 L490.50 274.68 L490.75 274.92 L491.00 274.92 L491.25 274.60 L491.50 274.33 L491.75 274.38 L492.00 274.57 L492.25 274.68 L492.50 274.71 L492.75 274.71 L493.00 274.59 L493.25 274.46 L493.50 274.46 L493.75 274.61 L494.00 274.64 L494.25 274.45 L494.50 274.26 L494.75 274.32 L495.00 274.58 L495.25 274.76 L495.50 274.79 L495.75 274.76 L496.00 274.80 L496.25 274.81 L496.50 274.65 L496.75 274.40 L497.00 274.17 L497.25 274.07 L497.50 274.05 L497.75 274.10 L498.00 274.22 L498.25 274.33 L498.50 274.39 L498.75 274.43 L499.00 274.51 L499.25 274.53 L499.50 274.45 L499.75 274.44 L500.00 274.50 L500.25 274.59 L500.50 274.67 L500.75 274.73 L501.00 274.77 L501.25 274.69 L501.50 274.55 L501.75 274.43 L502.00 274.33 L502.25 274.22 L502.50 274.12 L502.75 274.07 L503.00 274.18 L503.25 274.43 L503.50 274.62 L503.75 274.67 L504.00 274.56 L504.25 274.48 L504.50 274.57 L504.75 274.67 L505.00 274.63 L505.25 274.54 L505.50 274.64 L505.75 274.75 L506.00 274.61 L506.25 274.33 L506.50 274.23 L506.75 274.39 L507.00 274.54 L507.25 274.59 L507.50 274.55 L507.75 274.59 L508.00 274.75 L508.25 274.85 L508.50 274.89 L508.75 274.87 L509.00 274.79 L509.25 274.71 L509.50 274.65 L509.75 274.66 L510.00 274.61 L510.25 274.51 L510.50 274.48 L510.75 274.54 L511.00 274.57 L511.25 274.51 L511.50 274.45 L511.75 274.41 L512.00 274.31 L512.25 274.25 L512.50 274.29 L512.75 274.36 L513.00 274.27 L513.25 274.13 L513.50 274.05 L513.75 273.94 L514.00 273.89 L514.25 273.98 L514.50 274.09 L514.75 273.94 L515.00 273.50 L515.25 273.13 L515.50 273.06 L515.75 273.23 L516.00 273.37 L516.25 273.30 L516.50 273.08 L516.75 272.77 L517.00 272.38 L517.25 271.97 L517.50 271.68 L517.75 271.30 L518.00 270.36 L518.25 268.72 L518.50 266.51 L518.75 263.85 L519.00 260.79 L519.25 257.31 L519.50 253.45 L519.75 249.66 L520.00 247.29 L520.25 247.41 L520.50 249.41 L520.75 251.76 L521.00 253.48 L521.25 254.60 L521.50 255.70 L521.75 257.32 L522.00 259.53 L522.25 262.00 L522.50 264.42 L522.75 266.60 L523.00 268.39 L523.25 269.69 L523.50 270.67 L523.75 271.51 L524.00 272.20 L524.25 272.70 L524.50 272.98 L524.75 273.14 L525.00 273.20 L525.25 273.28 L525.50 273.57 L525.75 273.93 L526.00 274.24 L526.25 274.37 L526.50 274.34 L526.75 274.14 L527.00 273.91 L527.25 273.88 L527.50 274.00 L527.75 274.12 L528.00 274.20" stroke="#ff00ff" /><path d="M50.00 206.76 L50.25 206.67 L50.50 206.66 L50.75 206.89 L51.00 207.18 L51.25 207.32 L51.50 207.33 L51.75 207.32 L52.00 207.26 L52.25 207.17 L52.50 207.24 L52.75 207.55 L53.00 208.01 L53.25 208.41 L53.50 208.72 L53.75 208.92 L54.00 208.98 L54.25 209.00 L54.50 209.08 L54.75 209.26 L55.00 209.42 L55.25 209.40 L55.50 209.31 L55.75 209.27 L56.00 209.16 L56.25 209.02 L56.50 209.01 L56.75 209.20 L57.00 209.47 L57.25 209.70 L57.50 209.84 L57.75 209.92 L58.00 209.98 L58.25 210.07 L58.50 210.23 L58.75 210.35 L59.00 210.49 L59.25 210.70 L59.50 210.84 L59.75 210.70 L60.00 210.42 L60.25 210.38 L60.50 210.63 L60.75 210.90 L61.00 210.97 L61.25 210.82 L61.50 210.74 L61.75 210.87 L62.00 211.14 L62.25 211.44 L62.50 211.63 L62.75 211.80 L63.00 211.98 L63.25 212.12 L63.50 212.26 L63.75 212.40 L64.00 212.51 L64.25 212.61 L64.50 212.64 L64.75 212.61 L65.00 212.66 L65.25 212.93 L65.50 213.21 L65.75 213.26 L66.00 213.11 L66.25 213.02 L66.50 213.15 L66.75 213.41 L67.00 213.67 L67.25 213.70 L67.50 213.33 L67.75 212.95 L68.00 213.08 L68.25 213.57 L68.50 213.92 L68.75 213.90 L69.00 213.71 L69.25 213.64 L69.50 213.75 L69.75 214.00 L70.00 214.28 L70.25 214.54 L70.50 214.67 L70.75 214.53 L71.00 214.27 L71.25 214.28 L71.50 214.51 L71.75 214.61 L72.00 214.50 L72.25 214.49 L72.50 214.74 L72.75 214.99 L73.00 215.03 L73.25 214.94 L73.50 214.99 L73.75 215.26 L74.00 215.55 L74.25 215.69 L74.50 215.62 L74.75 215.37 L75.00 215.11 L75.25 215.06 L75.50 215.28 L75.75 215.48 L76.00 215.50 L76.25 215.55 L76.50 215.71 L76.75 215.85 L77.00 215.87 L77.25 215.93 L77.50 216.13 L77.75 216.41 L78.00 216.68 L78.25 216.85 L78.50 216.85 L78.75 216.79 L79.00 216.76 L79.25 216.85 L79.50 217.11 L79.75 217.35 L80.00 217.35 L80.25 217.15 L80.50 217.12 L80.75 217.40 L81.00 217.68 L81.25 217.79 L81.50 217.80 L81.75 217.78 L82.00 217.74 L82.25 217.64 L82.50 217.51 L82.75 217.44 L83.00 217.52 L83.25 217.68 L83.50 217.75 L83.75 217.74 L84.00 217.70 L84.25 217.69 L84.50 217.81 L84.75 218.03 L85.00 218.22 L85.25 218.35 L85.50 218.45 L85.75 218.44 L86.00 218.32 L86.25 218.35 L86.50 218.66 L86.75 218.90 L87.00 218.79 L87.25 218.62 L87.50 218.73 L87.75 218.98 L88.00 219.10 L88.25 219.00 L88.50 218.92 L88.75 219.05 L89.00 219.19 L89.25 219.17 L89.50 219.03 L89.75 219.04 L90.00 219.24 L90.25 219.43 L90.50 219.57 L90.75 219.71 L91.00 219.78 L91.25 219.79 L91.50 219.83 L91.75 219.89 L92.00 219.93 L92.25 219.97 L92.50 220.02 L92.75 220.04 L93.00 219.95 L93.25 219.81 L93.50 219.79 L93.75 219.95 L94.00 220.18 L94.25 220.41 L94.50 220.45 L94.75 220.32 L95.00 220.36 L95.25 220.75 L95.50 221.24 L95.75 221.42 L96.00 221.22 L96.25 220.94 L96.50 220.75 L96.75 220.66 L97.00 220.68 L97.25 220.78 L97.50 220.87 L97.75 220.93 L98.00 221.02 L98.25 221.18 L98.50 221.31 L98.75 221.34 L99.00 221.38 L99.25 221.49 L99.50 221.51 L99.75 221.35 L100.00 221.29 L100.25 221.41 L100.50 221.55 L100.75 221.57 L101.00 221.43 L101.25 221.34 L101.50 221.39 L101.75 221.55 L102.00 221.68 L102.25 221.73 L102.50 221.88 L102.75 222.14 L103.00 222.32 L103.25 222.39 L103.50 222.45 L103.75 222.66 L104.00 222.83 L104.25 222.60 L104.50 222.15 L104.75 221.96 L105.00 222.17 L105.25 222.48 L105.50 222.60 L105.75 222.57 L106.00 222.54 L106.25 222.50 L106.50 222.49 L106.75 222.40 L107.00 222.16 L107.25 222.06 L107.50 222.29 L107.75 222.62 L108.00 222.71 L108.25 222.72 L108.50 222.95 L108.75 223.31 L109.00 223.48 L109.25 223.38 L109.50 223.33 L109.75 223.39 L110.00 223.53 L110.25 223.56 L110.50 223.49 L110.75 223.58 L111.00 223.89 L111.25 224.18 L111.50 224.23 L111.75 224.21 L112.00 224.26 L112.25 224.25 L112.50 224.07 L112.75 223.81 L113.00 223.74 L113.25 223.89 L113.50 224.05 L113.75 224.11 L114.00 224.11 L114.25 224.18 L114.50 224.28 L114.75 224.26 L115.00 224.17 L115.25 224.18 L115.50 224.33 L115.75 224.43 L116.00 224.46 L116.25 224.57 L116.50 224.81 L116.75 224.99 L117.00 224.99 L117.25 224.93 L117.50 224.92 L117.75 224.95 L118.00 225.02 L118.25 225.04 L118.50 224.91 L118.75 224.87 L119.00 225.03 L119.25 225.19 L119.50 225.18 L119.75 225.16 L120.00 225.16 L120.25 225.07 L120.50 224.97 L120.75 225.02 L121.00 225.17 L121.25 225.33 L121.50 225.43 L121.75 225.45 L122.00 225.32 L122.25 225.10 L122.50 224.97 L122.75 225.00 L123.00 225.21 L123.25 225.51 L123.50 225.74 L123.75 225.78 L124.00 225.70 L124.25 225.65 L124.50 225.67 L124.75 225.73 L125.00 225.87 L125.25 226.03 L125.50 226.10 L125.75 225.99 L126.00 225.77 L126.25 225.76 L126.50 225.94 L126.75 226.11 L127.00 226.17 L127.25 226.16 L127.50 226.21 L127.75 226.15 L128.00 225.99 L128.25 225.84 L128.50 225.76 L128.75 225.77 L129.00 225.92 L129.25 226.19 L129.50 226.40 L129.75 226.48 L130.00 226.39 L130.25 226.10 L130.50 225.86 L130.75 225.92 L131.00 226.25 L131.25 226.54 L131.50 226.64 L131.75 226.59 L132.00 226.34 L132.25 226.03 L132.50 225.93 L132.75 226.17 L133.00 226.59 L133.25 226.92 L133.50 227.01 L133.75 226.97 L134.00 227.01 L134.25 227.14 L134.50 227.21 L134.75 227.06 L135.00 226.80 L135.25 226.58 L135.50 226.48 L135.75 226.54 L136.00 226.66 L136.25 226.83 L136.50 227.03 L136.75 227.15 L137.00 227.04 L137.25 226.84 L137.50 226.74 L137.75 226.79 L138.00 226.93 L138.25 227.09 L138.50 227.30 L138.75 227.44 L139.00 227.47 L139.25 227.52 L139.50 227.62 L139.75 227.71 L140.00 227.74 L140.25 227.77 L140.50 227.72 L140.75 227.41 L141.00 227.09 L141.25 227.10 L141.50 227.36 L141.75 227.63 L142.00 227.80 L142.25 227.98 L142.50 228.04 L142.75 227.84 L143.00 227.55 L143.25 227.41 L143.50 227.49 L143.75 227.59 L144.00 227.58 L144.25 227.53 L144.50 227.46 L144.75 227.33 L145.00 227.22 L145.25 227.28 L145.50 227.42 L145.75 227.39 L146.00 227.26 L146.25 227.28 L146.50 227.51 L146.75 227.75 L147.00 227.80 L147.25 227.72 L147.50 227.63 L147.75 227.57 L148.00 227.57 L148.25 227.60 L148.50 227.71 L148.75 227.83 L149.00 227.94 L149.25 228.04 L149.50 228.07 L149.75 228.02 L150.00 227.78 L150.25 227.49 L150.50 227.34 L150.75 227.42 L151.00 227.58 L151.25 227.49 L151.50 227.28 L151.75 227.20 L152.00 227.32 L152.25 227.50 L152.50 227.49 L152.75 227.26 L153.00 226.94 L153.25 226.73 L153.50 226.74 L153.75 226.73 L154.00 226.61 L154.25 226.41 L154.50 226.07 L154.75 225.68 L155.00 225.39 L155.25 225.24 L155.50 225.06 L155.75 224.61 L156.00 223.97 L156.25 223.45 L156.50 223.14 L156.75 222.75 L157.00 222.01 L157.25 220.81 L157.50 219.26 L157.75 217.57 L158.00 215.83 L158.25 213.71 L158.50 210.49 L158.75 205.74 L159.00 199.36 L159.25 190.66 L159.50 178.66 L159.75 162.51 L160.00 142.02 L160.25 118.19 L160.50 94.45 L160.75 77.51 L161.00 73.82 L161.25 84.48 L161.50 105.21 L161.75 129.54 L162.00 152.19 L162.25 170.53 L162.50 184.32 L162.75 194.49 L163.00 202.04 L163.25 207.66 L163.50 211.87 L163.75 215.01 L164.00 217.30 L164.25 219.05 L164.50 220.52 L164.75 221.86 L165.00 222.88 L165.25 223.57 L165.50 224.20 L165.75 224.79 L166.00 225.15 L166.25 225.42 L166.50 225.84 L166.75 226.44 L167.00 226.94 L167.25 227.25 L167.50 227.54 L167.75 227.74 L168.00 227.66 L168.25 227.42 L168.50 227.42 L168.75 227.72 L169.00 227.95 L169.25 228.03 L169.50 228.14 L169.75 228.27 L170.00 228.29 L170.25 228.33 L170.50 228.58 L170.75 228.81 L171.00 228.90 L171.25 229.06 L171.50 229.40 L171.75 229.68 L172.00 229.73 L172.25 229.62 L172.50 229.52 L172.75 229.58 L173.00 229.69 L173.25 229.63 L173.50 229.38 L173.75 229.30 L174.00 229.52 L174.25 229.70 L174.50 229.64 L174.75 229.61 L175.00 229.79 L175.25 229.89 L175.50 229.73 L175.75 229.41 L176.00 229.19 L176.25 229.23 L176.50 229.42 L176.75 229.66 L177.00 229.90 L177.25 230.07 L177.50 230.09 L177.75 230.06 L178.00 230.05 L178.25 229.97 L178.50 229.72 L178.75 229.61 L179.00 229.88 L179.25 230.23 L179.50 230.27 L179.75 229.87 L180.00 229.53 L180.25 229.72 L180.50 230.23 L180.75 230.52 L181.00 230.40 L181.25 230.22 L181.50 230.15 L181.75 229.90 L182.00 229.41 L182.25 229.04 L182.50 228.95 L182.75 228.92 L183.00 228.74 L183.25 228.49 L183.50 228.29 L183.75 228.08 L184.00 227.80 L184.25 227.40 L184.50 226.82 L184.75 226.18 L185.00 225.54 L185.25 224.72 L185.50 223.52 L185.75 221.76 L186.00 219.49 L186.25 216.67 L186.50 212.77 L186.75 207.15 L187.00 199.37 L187.25 189.67 L187.50 178.93 L187.75 168.94 L188.00 162.71 L188.25 162.59 L188.50 168.39 L188.75 177.84 L189.00 188.38 L189.25 198.13 L189.50 206.11 L189.75 212.04 L190.00 216.21 L190.25 219.25 L190.50 221.62 L190.75 223.51 L191.00 225.01 L191.25 226.12 L191.50 226.90 L191.75 227.36 L192.00 227.63 L192.25 227.97 L192.50 228.47 L192.75 228.92 L193.00 229.20 L193.25 229.48 L193.50 229.83 L193.75 230.12 L194.00 230.10 L194.25 229.85 L194.50 229.82 L194.75 230.16 L195.00 230.54 L195.25 230.56 L195.50 230.40 L195.75 230.37 L196.00 230.45 L196.25 230.52 L196.50 230.64 L196.75 230.84 L197.00 230.95 L197.25 230.74 L197.50 230.23 L197.75 229.94 L198.00 230.16 L198.25 230.55 L198.50 230.74 L198.75 230.69 L199.00 230.67 L199.25 230.70 L199.50 230.71 L199.75 230.75 L200.00 230.74 L200.25 230.62 L200.50 230.45 L200.75 230.21 L201.00 229.99 L201.25 229.89 L201.50 229.88 L201.75 229.93 L202.00 229.84 L202.25 229.70 L202.50 229.59 L202.75 229.58 L203.00 229.68 L203.25 229.77 L203.50 229.88 L203.75 229.98 L204.00 230.09 L204.25 230.24 L204.50 230.48 L204.75 230.80 L205.00 230.97 L205.25 231.01 L205.50 231.06 L205.75 231.24 L206.00 231.47 L206.25 231.63 L206.50 231.71 L206.75 231.67 L207.00 231.53 L207.25 231.49 L207.50 231.58 L207.75 231.71 L208.00 231.91 L208.25 232.07 L208.50 232.19 L208.75 232.30 L209.00 232.45 L209.25 232.63 L209.50 232.63 L209.75 232.54 L210.00 232.46 L210.25 232.35 L210.50 232.13 L210.75 231.85 L211.00 231.73 L211.25 231.90 L211.50 232.30 L211.75 232.58 L212.00 232.56 L212.25 232.44 L212.50 232.47 L212.75 232.58 L213.00 232.49 L213.25 232.23 L213.50 232.07 L213.75 232.11 L214.00 232.27 L214.25 232.34 L214.50 232.20 L214.75 232.00 L215.00 232.01 L215.25 232.25 L215.50 232.44 L215.75 232.45 L216.00 232.41 L216.25 232.58 L216.50 232.95 L216.75 233.16 L217.00 232.89 L217.25 232.26 L217.50 231.70 L217.75 231.48 L218.00 231.59 L218.25 231.92 L218.50 232.23 L218.75 232.32 L219.00 232.25 L219.25 232.20 L219.50 232.13 L219.75 231.94 L220.00 231.74 L220.25 231.65 L220.50 231.59 L220.75 231.44 L221.00 231.20 L221.25 231.05 L221.50 230.98 L221.75 230.92 L222.00 230.94 L222.25 231.12 L222.50 231.30 L222.75 231.23 L223.00 231.16 L223.25 231.34 L223.50 231.64 L223.75 231.85 L224.00 232.03 L224.25 232.28 L224.50 232.39 L224.75 232.28 L225.00 232.22 L225.25 232.33 L225.50 232.49 L225.75 232.63 L226.00 232.82 L226.25 232.97 L226.50 232.99 L226.75 232.96 L227.00 232.97 L227.25 233.00 L227.50 232.96 L227.75 232.92 L228.00 232.91 L228.25 232.93 L228.50 232.94 L228.75 232.86 L229.00 232.86 L229.25 233.10 L229.50 233.45 L229.75 233.59 L230.00 233.43 L230.25 233.19 L230.50 233.03 L230.75 232.94 L231.00 232.95 L231.25 233.03 L231.50 233.24 L231.75 233.46 L232.00 233.52 L232.25 233.42 L232.50 233.29 L232.75 233.28 L233.00 233.23 L233.25 233.02 L233.50 232.77 L233.75 232.68 L234.00 232.98 L234.25 233.49 L234.50 233.82 L234.75 233.75 L235.00 233.41 L235.25 233.16 L235.50 233.05 L235.75 232.93 L236.00 232.92 L236.25 233.08 L236.50 233.37 L236.75 233.55 L237.00 233.53 L237.25 233.36 L237.50 233.07 L237.75 232.89 L238.00 232.97 L238.25 233.17 L238.50 233.23 L238.75 233.20 L239.00 233.29 L239.25 233.56 L239.50 233.84 L239.75 233.98 L240.00 234.04 L240.25 233.97 L240.50 233.86 L240.75 233.75 L241.00 233.57 L241.25 233.24 L241.50 232.89 L241.75 232.80 L242.00 232.97 L242.25 233.25 L242.50 233.53 L242.75 233.73 L243.00 233.75 L243.25 233.56 L243.50 233.32 L243.75 233.29 L244.00 233.45 L244.25 233.70 L244.50 233.85 L244.75 233.82 L245.00 233.63 L245.25 233.37 L245.50 233.24 L245.75 233.36 L246.00 233.69 L246.25 234.03 L246.50 234.19 L246.75 234.14 L247.00 233.95 L247.25 233.83 L247.50 233.71 L247.75 233.58 L248.00 233.44 L248.25 233.35 L248.50 233.33 L248.75 233.33 L249.00 233.42 L249.25 233.60 L249.50 233.70 L249.75 233.59 L250.00 233.41 L250.25 233.31 L250.50 233.34 L250.75 233.44 L251.00 233.51 L251.25 233.60 L251.50 233.67 L251.75 233.86 L252.00 234.22 L252.25 234.43 L252.50 234.29 L252.75 234.06 L253.00 234.01 L253.25 233.94 L253.50 233.69 L253.75 233.51 L254.00 233.62 L254.25 233.82 L254.50 233.87 L254.75 233.78 L255.00 233.76 L255.25 234.07 L255.50 234.46 L255.75 234.46 L256.00 234.25 L256.25 234.07 L256.50 233.83 L256.75 233.51 L257.00 233.36 L257.25 233.47 L257.50 233.43 L257.75 233.21 L258.00 233.17 L258.25 233.29 L258.50 233.39 L258.75 233.32 L259.00 233.26 L259.25 233.34 L259.50 233.43 L259.75 233.41 L260.00 233.37 L260.25 233.48 L260.50 233.56 L260.75 233.43 L261.00 233.19 L261.25 233.16 L261.50 233.46 L261.75 233.77 L262.00 233.87 L262.25 233.78 L262.50 233.66 L262.75 233.60 L263.00 233.60 L263.25 233.65 L263.50 233.69 L263.75 233.48 L264.00 233.14 L264.25 232.91 L264.50 232.87 L264.75 232.91 L265.00 232.87 L265.25 232.90 L265.50 232.95 L265.75 232.89 L266.00 232.68 L266.25 232.54 L266.50 232.63 L266.75 232.75 L267.00 232.61 L267.25 232.33 L267.50 232.13 L267.75 231.96 L268.00 231.69 L268.25 231.44 L268.50 231.30 L268.75 231.11 L269.00 230.70 L269.25 230.20 L269.50 229.87 L269.75 229.68 L270.00 229.37 L270.25 228.73 L270.50 227.94 L270.75 227.17 L271.00 226.33 L271.25 225.21 L271.50 223.70 L271.75 221.83 L272.00 219.53 L272.25 216.52 L272.50 212.22 L272.75 205.98 L273.00 197.17 L273.25 185.30 L273.50 170.13 L273.75 151.98 L274.00 132.75 L274.25 116.84 L274.50 109.39 L274.75 111.80 L275.00 121.65 L275.25 136.35 L275.50 153.37 L275.75 170.00 L276.00 184.53 L276.25 196.22 L276.50 204.87 L276.75 211.05 L277.00 215.75 L277.25 219.49 L277.50 222.19 L277.75 223.99 L278.00 225.27 L278.25 226.35 L278.50 227.34 L278.75 228.18 L279.00 228.99 L279.25 229.76 L279.50 230.34 L279.75 230.54 L280.00 230.49 L280.25 230.66 L280.50 231.14 L280.75 231.63 L281.00 231.92 L281.25 232.08 L281.50 232.18 L281.75 232.28 L282.00 232.45 L282.25 232.84 L282.50 233.28 L282.75 233.49 L283.00 233.42 L283.25 233.24 L283.50 233.17 L283.75 233.24 L284.00 233.43 L284.25 233.59 L284.50 233.53 L284.75 233.40 L285.00 233.44 L285.25 233.60 L285.50 233.69 L285.75 233.71 L286.00 233.77 L286.25 233.83 L286.50 233.85 L286.75 233.99 L287.00 234.24 L287.25 234.37 L287.50 234.36 L287.75 234.45 L288.00 234.59 L288.25 234.57 L288.50 234.45 L288.75 234.25 L289.00 234.09 L289.25 233.99 L289.50 233.98 L289.75 234.10 L290.00 234.16 L290.25 234.19 L290.50 234.30 L290.75 234.39 L291.00 234.44 L291.25 234.47 L291.50 234.44 L291.75 234.30 L292.00 234.16 L292.25 234.26 L292.50 234.52 L292.75 234.62 L293.00 234.53 L293.25 234.38 L293.50 234.38 L293.75 234.53 L294.00 234.65 L294.25 234.68 L294.50 234.72 L294.75 234.72 L295.00 234.56 L295.25 234.36 L295.50 234.36 L295.75 234.59 L296.00 234.80 L296.25 234.91 L296.50 234.93 L296.75 234.74 L297.00 234.49 L297.25 234.29 L297.50 234.30 L297.75 234.46 L298.00 234.63 L298.25 234.82 L298.50 234.91 L298.75 234.87 L299.00 234.70 L299.25 234.49 L299.50 234.40 L299.75 234.39 L300.00 234.48 L300.25 234.58 L300.50 234.58 L300.75 234.48 L301.00 234.45 L301.25 234.64 L301.50 234.82 L301.75 234.78 L302.00 234.63 L302.25 234.63 L302.50 234.89 L302.75 235.07 L303.00 234.86 L303.25 234.42 L303.50 234.27 L303.75 234.71 L304.00 235.22 L304.25 235.20 L304.50 234.79 L304.75 234.56 L305.00 234.79 L305.25 235.06 L305.50 234.95 L305.75 234.55 L306.00 234.19 L306.25 234.09 L306.50 234.12 L306.75 234.12 L307.00 234.14 L307.25 234.18 L307.50 234.26 L307.75 234.37 L308.00 234.37 L308.25 234.41 L308.50 234.55 L308.75 234.61 L309.00 234.46 L309.25 234.26 L309.50 234.29 L309.75 234.46 L310.00 234.48 L310.25 234.44 L310.50 234.55 L310.75 234.85 L311.00 235.18 L311.25 235.35 L311.50 235.38 L311.75 235.31 L312.00 235.12 L312.25 234.88 L312.50 234.74 L312.75 234.75 L313.00 234.78 L313.25 234.76 L313.50 234.73 L313.75 234.76 L314.00 234.86 L314.25 234.89 L314.50 234.79 L314.75 234.63 L315.00 234.57 L315.25 234.69 L315.50 234.83 L315.75 234.90 L316.00 234.85 L316.25 234.71 L316.50 234.56 L316.75 234.37 L317.00 234.21 L317.25 234.18 L317.50 234.34 L317.75 234.59 L318.00 234.73 L318.25 234.75 L318.50 234.75 L318.75 234.63 L319.00 234.33 L319.25 233.93 L319.50 233.69 L319.75 233.68 L320.00 233.69 L320.25 233.62 L320.50 233.58 L320.75 233.65 L321.00 233.62 L321.25 233.18 L321.50 232.54 L321.75 232.25 L322.00 232.47 L322.25 232.81 L322.50 232.78 L322.75 232.39 L323.00 231.96 L323.25 231.57 L323.50 231.16 L323.75 230.68 L324.00 230.05 L324.25 229.18 L324.50 228.02 L324.75 226.53 L325.00 224.69 L325.25 222.47 L325.50 219.68 L325.75 215.83 L326.00 210.33 L326.25 202.66 L326.50 192.41 L326.75 179.52 L327.00 164.89 L327.25 151.38 L327.50 143.11 L327.75 142.23 L328.00 147.05 L328.25 155.00 L328.50 165.17 L328.75 176.92 L329.00 188.76 L329.25 199.22 L329.50 207.39 L329.75 213.24 L330.00 217.55 L330.25 221.10 L330.50 223.90 L330.75 225.79 L331.00 227.03 L331.25 227.98 L331.50 228.84 L331.75 229.59 L332.00 230.34 L332.25 231.10 L332.50 231.59 L332.75 231.73 L333.00 231.73 L333.25 231.83 L333.50 232.19 L333.75 232.54 L334.00 232.65 L334.25 232.70 L334.50 232.84 L334.75 233.10 L335.00 233.38 L335.25 233.65 L335.50 233.85 L335.75 233.86 L336.00 233.78 L336.25 233.83 L336.50 233.98 L336.75 234.00 L337.00 233.92 L337.25 234.00 L337.50 234.16 L337.75 234.22 L338.00 234.10 L338.25 233.87 L338.50 233.73 L338.75 233.75 L339.00 233.83 L339.25 233.86 L339.50 233.91 L339.75 234.10 L340.00 234.24 L340.25 233.98 L340.50 233.50 L340.75 233.23 L341.00 233.23 L341.25 233.34 L341.50 233.14 L341.75 232.59 L342.00 231.96 L342.25 231.29 L342.50 230.40 L342.75 229.13 L343.00 227.41 L343.25 225.34 L343.50 222.98 L343.75 220.68 L344.00 219.02 L344.25 218.31 L344.50 218.61 L344.75 219.77 L345.00 221.46 L345.25 223.37 L345.50 225.36 L345.75 227.43 L346.00 229.36 L346.25 230.79 L346.50 231.67 L346.75 232.24 L347.00 232.77 L347.25 233.28 L347.50 233.76 L347.75 234.11 L348.00 234.33 L348.25 234.48 L348.50 234.54 L348.75 234.48 L349.00 234.27 L349.25 234.10 L349.50 234.08 L349.75 234.11 L350.00 234.18 L350.25 234.30 L350.50 234.48 L350.75 234.68 L351.00 234.85 L351.25 234.96 L351.50 235.04 L351.75 235.22 L352.00 235.39 L352.25 235.31 L352.50 234.98 L352.75 234.74 L353.00 234.78 L353.25 235.01 L353.50 235.26 L353.75 235.46 L354.00 235.52 L354.25 235.47 L354.50 235.36 L354.75 235.31 L355.00 235.34 L355.25 235.32 L355.50 235.36 L355.75 235.48 L356.00 235.51 L356.25 235.34 L356.50 235.16 L356.75 235.23 L357.00 235.42 L357.25 235.51 L357.50 235.43 L357.75 235.34 L358.00 235.30 L358.25 235.22 L358.50 235.13 L358.75 235.06 L359.00 235.01 L359.25 234.96 L359.50 235.02 L359.75 235.26 L360.00 235.50 L360.25 235.54 L360.50 235.51 L360.75 235.56 L361.00 235.62 L361.25 235.62 L361.50 235.58 L361.75 235.50 L362.00 235.28 L362.25 235.03 L362.50 234.91 L362.75 235.08 L363.00 235.46 L363.25 235.61 L363.50 235.56 L363.75 235.49 L364.00 235.59 L364.25 235.77 L364.50 235.72 L364.75 235.41 L365.00 235.05 L365.25 234.98 L365.50 235.18 L365.75 235.42 L366.00 235.62 L366.25 235.90 L366.50 236.09 L366.75 236.02 L367.00 235.89 L367.25 235.88 L367.50 235.95 L367.75 235.98 L368.00 235.97 L368.25 235.95 L368.50 235.84 L368.75 235.63 L369.00 235.45 L369.25 235.41 L369.50 235.48 L369.75 235.43 L370.00 235.30 L370.25 235.39 L370.50 235.68 L370.75 235.75 L371.00 235.48 L371.25 235.25 L371.50 235.33 L371.75 235.52 L372.00 235.57 L372.25 235.47 L372.50 235.32 L372.75 235.16 L373.00 235.09 L373.25 235.15 L373.50 235.26 L373.75 235.38 L374.00 235.49 L374.25 235.52 L374.50 235.46 L374.75 235.51 L375.00 235.57 L375.25 235.38 L375.50 235.05 L375.75 234.97 L376.00 235.22 L376.25 235.47 L376.50 235.52 L376.75 235.54 L377.00 235.56 L377.25 235.49 L377.50 235.38 L377.75 235.39 L378.00 235.55 L378.25 235.62 L378.50 235.51 L378.75 235.38 L379.00 235.32 L379.25 235.26 L379.50 235.11 L379.75 235.05 L380.00 235.15 L380.25 235.28 L380.50 235.33 L380.75 235.23 L381.00 235.07 L381.25 235.04 L381.50 235.17 L381.75 235.41 L382.00 235.54 L382.25 235.56 L382.50 235.57 L382.75 235.67 L383.00 235.84 L383.25 236.00 L383.50 236.06 L383.75 235.96 L384.00 235.82 L384.25 235.78 L384.50 235.86 L384.75 235.99 L385.00 235.99 L385.25 235.80 L385.50 235.63 L385.75 235.58 L386.00 235.55 L386.25 235.42 L386.50 235.27 L386.75 235.30 L387.00 235.39 L387.25 235.44 L387.50 235.50 L387.75 235.52 L388.00 235.49 L388.25 235.52 L388.50 235.67 L388.75 235.90 L389.00 236.03 L389.25 235.94 L389.50 235.51 L389.75 234.95 L390.00 234.71 L390.25 234.85 L390.50 234.99 L390.75 234.99 L391.00 235.10 L391.25 235.33 L391.50 235.46 L391.75 235.35 L392.00 235.17 L392.25 235.15 L392.50 235.27 L392.75 235.47 L393.00 235.69 L393.25 235.78 L393.50 235.70 L393.75 235.50 L394.00 235.34 L394.25 235.33 L394.50 235.53 L394.75 235.86 L395.00 236.05 L395.25 235.97 L395.50 235.77 L395.75 235.77 L396.00 235.95 L396.25 236.05 L396.50 235.92 L396.75 235.73 L397.00 235.73 L397.25 235.79 L397.50 235.65 L397.75 235.35 L398.00 235.21 L398.25 235.35 L398.50 235.64 L398.75 235.88 L399.00 235.87 L399.25 235.69 L399.50 235.57 L399.75 235.67 L400.00 235.80 L400.25 235.70 L400.50 235.43 L400.75 235.18 L401.00 235.12 L401.25 235.16 L401.50 235.08 L401.75 234.87 L402.00 234.67 L402.25 234.59 L402.50 234.46 L402.75 234.20 L403.00 234.05 L403.25 234.04 L403.50 233.93 L403.75 233.48 L404.00 232.75 L404.25 231.91 L404.50 231.00 L404.75 229.86 L405.00 228.19 L405.25 226.00 L405.50 223.62 L405.75 221.74 L406.00 221.01 L406.25 221.44 L406.50 222.40 L406.75 223.30 L407.00 224.21 L407.25 225.49 L407.50 227.15 L407.75 228.82 L408.00 230.37 L408.25 231.77 L408.50 232.74 L408.75 233.11 L409.00 233.19 L409.25 233.52 L409.50 234.16 L409.75 234.72 L410.00 234.84 L410.25 234.65 L410.50 234.51 L410.75 234.60 L411.00 234.77 L411.25 234.86 L411.50 234.81 L411.75 234.76 L412.00 234.84 L412.25 235.12 L412.50 235.54 L412.75 235.91 L413.00 236.18 L413.25 236.24 L413.50 235.99 L413.75 235.58 L414.00 235.33 L414.25 235.35 L414.50 235.45 L414.75 235.47 L415.00 235.51 L415.25 235.65 L415.50 235.72 L415.75 235.68 L416.00 235.65 L416.25 235.70 L416.50 235.79 L416.75 235.87 L417.00 236.02 L417.25 236.07 L417.50 235.85 L417.75 235.63 L418.00 235.62 L418.25 235.75 L418.50 235.71 L418.75 235.44 L419.00 235.29 L419.25 235.55 L419.50 235.99 L419.75 236.11 L420.00 235.77 L420.25 235.38 L420.50 235.30 L420.75 235.35 L421.00 235.38 L421.25 235.47 L421.50 235.66 L421.75 235.85 L422.00 235.91 L422.25 235.93 L422.50 235.99 L422.75 236.10 L423.00 236.26 L423.25 236.39 L423.50 236.34 L423.75 236.14 L424.00 235.90 L424.25 235.68 L424.50 235.60 L424.75 235.77 L425.00 236.08 L425.25 236.24 L425.50 236.08 L425.75 235.86 L426.00 235.70 L426.25 235.49 L426.50 235.38 L426.75 235.55 L427.00 235.90 L427.25 236.06 L427.50 235.93 L427.75 235.79 L428.00 235.72 L428.25 235.54 L428.50 235.32 L428.75 235.28 L429.00 235.41 L429.25 235.58 L429.50 235.78 L429.75 236.00 L430.00 236.05 L430.25 235.85 L430.50 235.71 L430.75 235.78 L431.00 235.84 L431.25 235.75 L431.50 235.56 L431.75 235.57 L432.00 235.66 L432.25 235.65 L432.50 235.63 L432.75 235.81 L433.00 236.01 L433.25 235.74 L433.50 235.20 L433.75 235.05 L434.00 235.37 L434.25 235.80 L434.50 236.07 L434.75 236.10 L435.00 235.81 L435.25 235.41 L435.50 235.27 L435.75 235.36 L436.00 235.37 L436.25 235.39 L436.50 235.56 L436.75 235.71 L437.00 235.66 L437.25 235.46 L437.50 235.45 L437.75 235.70 L438.00 235.98 L438.25 235.99 L438.50 235.62 L438.75 235.26 L439.00 235.17 L439.25 235.28 L439.50 235.46 L439.75 235.56 L440.00 235.53 L440.25 235.38 L440.50 235.24 L440.75 235.23 L441.00 235.32 L441.25 235.51 L441.50 235.59 L441.75 235.51 L442.00 235.49 L442.25 235.57 L442.50 235.58 L442.75 235.40 L443.00 235.29 L443.25 235.39 L443.50 235.51 L443.75 235.46 L444.00 235.24 L444.25 234.99 L444.50 234.90 L444.75 234.94 L445.00 234.92 L445.25 234.79 L445.50 234.69 L445.75 234.64 L446.00 234.46 L446.25 234.13 L446.50 233.76 L446.75 233.43 L447.00 233.04 L447.25 232.43 L447.50 231.67 L447.75 230.66 L448.00 229.05 L448.25 226.66 L448.50 223.64 L448.75 220.05 L449.00 215.74 L449.25 210.97 L449.50 206.78 L449.75 204.60 L450.00 205.02 L450.25 207.04 L450.50 209.11 L450.75 210.53 L451.00 212.12 L451.25 214.99 L451.50 218.91 L451.75 222.62 L452.00 225.35 L452.25 227.42 L452.50 229.20 L452.75 230.60 L453.00 231.48 L453.25 232.11 L453.50 232.82 L453.75 233.49 L454.00 234.02 L454.25 234.34 L454.50 234.45 L454.75 234.52 L455.00 234.69 L455.25 234.97 L455.50 235.09 L455.75 234.95 L456.00 234.73 L456.25 234.66 L456.50 234.87 L456.75 235.13 L457.00 235.20 L457.25 235.11 L457.50 235.05 L457.75 235.10 L458.00 235.09 L458.25 235.00 L458.50 234.97 L458.75 235.08 L459.00 235.20 L459.25 235.17 L459.50 235.02 L459.75 234.93 L460.00 234.87 L460.25 234.59 L460.50 234.08 L460.75 233.66 L461.00 233.55 L461.25 233.44 L461.50 233.04 L461.75 232.44 L462.00 231.78 L462.25 230.86 L462.50 229.42 L462.75 227.43 L463.00 224.96 L463.25 222.06 L463.50 219.06 L463.75 216.56 L464.00 215.37 L464.25 215.70 L464.50 216.81 L464.75 218.00 L465.00 219.13 L465.25 220.44 L465.50 222.35 L465.75 224.67 L466.00 227.02 L466.25 229.21 L466.50 231.01 L466.75 232.31 L467.00 233.06 L467.25 233.54 L467.50 234.17 L467.75 234.81 L468.00 235.14 L468.25 235.17 L468.50 235.20 L468.75 235.38 L469.00 235.56 L469.25 235.58 L469.50 235.47 L469.75 235.36 L470.00 235.40 L470.25 235.59 L470.50 235.75 L470.75 235.72 L471.00 235.49 L471.25 235.27 L471.50 235.33 L471.75 235.62 L472.00 235.83 L472.25 235.89 L472.50 235.95 L472.75 236.07 L473.00 236.01 L473.25 235.81 L473.50 235.81 L473.75 235.93 L474.00 235.98 L474.25 235.93 L474.50 235.79 L474.75 235.66 L475.00 235.52 L475.25 235.40 L475.50 235.35 L475.75 235.39 L476.00 235.65 L476.25 236.04 L476.50 236.32 L476.75 236.42 L477.00 236.38 L477.25 236.24 L477.50 236.11 L477.75 236.09 L478.00 236.17 L478.25 236.29 L478.50 236.47 L478.75 236.62 L479.00 236.59 L479.25 236.40 L479.50 236.27 L479.75 236.30 L480.00 236.19 L480.25 236.04 L480.50 235.99 L480.75 235.95 L481.00 235.90 L481.25 235.82 L481.50 235.79 L481.75 235.69 L482.00 235.59 L482.25 235.68 L482.50 235.87 L482.75 235.99 L483.00 235.97 L483.25 235.93 L483.50 235.79 L483.75 235.55 L484.00 235.48 L484.25 235.68 L484.50 235.93 L484.75 235.97 L485.00 235.95 L485.25 236.14 L485.50 236.40 L485.75 236.47 L486.00 236.31 L486.25 236.08 L486.50 235.99 L486.75 236.03 L487.00 236.18 L487.25 236.41 L487.50 236.51 L487.75 236.44 L488.00 236.29 L488.25 236.20 L488.50 236.14 L488.75 235.89 L489.00 235.69 L489.25 235.68 L489.50 235.79 L489.75 235.82 L490.00 235.75 L490.25 235.87 L490.50 235.98 L490.75 235.99 L491.00 236.01 L491.25 236.12 L491.50 236.35 L491.75 236.41 L492.00 236.27 L492.25 236.05 L492.50 235.86 L492.75 235.76 L493.00 235.74 L493.25 235.83 L493.50 235.97 L493.75 235.96 L494.00 235.79 L494.25 235.62 L494.50 235.52 L494.75 235.59 L495.00 235.82 L495.25 236.05 L495.50 236.11 L495.75 236.05 L496.00 236.08 L496.25 236.09 L496.50 236.07 L496.75 236.04 L497.00 236.02 L497.25 236.10 L497.50 236.16 L497.75 236.01 L498.00 235.73 L498.25 235.51 L498.50 235.48 L498.75 235.59 L499.00 235.83 L499.25 236.23 L499.50 236.55 L499.75 236.60 L500.00 236.42 L500.25 236.20 L500.50 236.02 L500.75 235.77 L501.00 235.43 L501.25 235.25 L501.50 235.30 L501.75 235.39 L502.00 235.57 L502.25 235.93 L502.50 236.36 L502.75 236.67 L503.00 236.76 L503.25 236.63 L503.50 236.33 L503.75 236.07 L504.00 236.11 L504.25 236.22 L504.50 236.15 L504.75 236.15 L505.00 236.30 L505.25 236.41 L505.50 236.25 L505.75 235.89 L506.00 235.72 L506.25 235.79 L506.50 235.84 L506.75 235.86 L507.00 235.90 L507.25 235.98 L507.50 235.99 L507.75 235.93 L508.00 235.95 L508.25 235.97 L508.50 236.06 L508.75 236.29 L509.00 236.56 L509.25 236.71 L509.50 236.71 L509.75 236.57 L510.00 236.31 L510.25 236.07 L510.50 235.87 L510.75 235.68 L511.00 235.48 L511.25 235.47 L511.50 235.61 L511.75 235.73 L512.00 235.73 L512.25 235.55 L512.50 235.40 L512.75 235.35 L513.00 235.37 L513.25 235.34 L513.50 235.25 L513.75 235.29 L514.00 235.43 L514.25 235.56 L514.50 235.57 L514.75 235.39 L515.00 235.23 L515.25 235.33 L515.50 235.54 L515.75 235.58 L516.00 235.38 L516.25 235.05 L516.50 234.76 L516.75 234.51 L517.00 234.31 L517.25 234.06 L517.50 233.50 L517.75 232.59 L518.00 231.43 L518.25 230.10 L518.50 228.44 L518.75 226.33 L519.00 223.65 L519.25 220.23 L519.50 216.13 L519.75 212.22 L520.00 210.01 L520.25 210.29 L520.50 212.37 L520.75 214.75 L521.00 216.54 L521.25 217.51 L521.50 218.08 L521.75 219.13 L522.00 221.12 L522.25 223.86 L522.50 226.69 L522.75 228.98 L523.00 230.54 L523.25 231.55 L523.50 232.35 L523.75 233.07 L524.00 233.66 L524.25 234.11 L524.50 234.52 L524.75 234.85 L525.00 235.06 L525.25 235.16 L525.50 235.22 L525.75 235.40 L526.00 235.54 L526.25 235.51 L526.50 235.30 L526.75 235.11 L527.00 235.21 L527.25 235.43 L527.50 235.54 L527.75 235.57 L528.00 235.64" stroke="#008000" /><path d="M50.00 173.13 L50.25 172.96 L50.50 172.79 L50.75 172.92 L51.00 173.29 L51.25 173.60 L51.50 173.76 L51.75 173.78 L52.00 173.83 L52.25 173.91 L52.50 174.02 L52.75 174.20 L53.00 174.38 L53.25 174.43 L53.50 174.41 L53.75 174.55 L54.00 174.82 L54.25 174.99 L54.50 174.98 L54.75 174.98 L55.00 175.10 L55.25 175.21 L55.50 175.27 L55.75 175.31 L56.00 175.38 L56.25 175.49 L56.50 175.63 L56.75 175.85 L57.00 176.05 L57.25 176.23 L57.50 176.31 L57.75 176.25 L58.00 176.22 L58.25 176.37 L58.50 176.70 L58.75 177.02 L59.00 177.19 L59.25 177.24 L59.50 177.26 L59.75 177.26 L60.00 177.24 L60.25 177.29 L60.50 177.49 L60.75 177.74 L61.00 177.69 L61.25 177.37 L61.50 177.14 L61.75 177.18 L62.00 177.36 L62.25 177.67 L62.50 178.09 L62.75 178.33 L63.00 178.35 L63.25 178.38 L63.50 178.46 L63.75 178.52 L64.00 178.52 L64.25 178.54 L64.50 178.68 L64.75 178.98 L65.00 179.33 L65.25 179.48 L65.50 179.34 L65.75 179.27 L66.00 179.38 L66.25 179.48 L66.50 179.56 L66.75 179.63 L67.00 179.67 L67.25 179.58 L67.50 179.52 L67.75 179.75 L68.00 180.16 L68.25 180.52 L68.50 180.64 L68.75 180.56 L69.00 180.47 L69.25 180.51 L69.50 180.65 L69.75 180.82 L70.00 180.95 L70.25 181.05 L70.50 181.14 L70.75 181.29 L71.00 181.43 L71.25 181.39 L71.50 181.28 L71.75 181.34 L72.00 181.51 L72.25 181.55 L72.50 181.56 L72.75 181.69 L73.00 181.85 L73.25 181.80 L73.50 181.60 L73.75 181.52 L74.00 181.57 L74.25 181.68 L74.50 181.87 L74.75 182.15 L75.00 182.36 L75.25 182.40 L75.50 182.32 L75.75 182.25 L76.00 182.35 L76.25 182.68 L76.50 183.06 L76.75 183.11 L77.00 182.90 L77.25 182.81 L77.50 182.97 L77.75 183.12 L78.00 183.09 L78.25 182.95 L78.50 182.77 L78.75 182.72 L79.00 182.99 L79.25 183.53 L79.50 184.03 L79.75 184.11 L80.00 183.87 L80.25 183.64 L80.50 183.75 L80.75 184.02 L81.00 184.12 L81.25 184.06 L81.50 183.99 L81.75 184.07 L82.00 184.28 L82.25 184.44 L82.50 184.44 L82.75 184.36 L83.00 184.40 L83.25 184.55 L83.50 184.72 L83.75 184.90 L84.00 185.04 L84.25 185.15 L84.50 185.28 L84.75 185.30 L85.00 185.11 L85.25 184.86 L85.50 184.75 L85.75 184.75 L86.00 184.69 L86.25 184.67 L86.50 184.87 L86.75 185.27 L87.00 185.73 L87.25 186.02 L87.50 186.06 L87.75 186.03 L88.00 186.05 L88.25 186.07 L88.50 185.98 L88.75 185.86 L89.00 185.96 L89.25 186.26 L89.50 186.52 L89.75 186.56 L90.00 186.47 L90.25 186.44 L90.50 186.48 L90.75 186.53 L91.00 186.60 L91.25 186.78 L91.50 187.00 L91.75 187.17 L92.00 187.27 L92.25 187.17 L92.50 186.91 L92.75 186.66 L93.00 186.57 L93.25 186.60 L93.50 186.69 L93.75 186.88 L94.00 187.11 L94.25 187.27 L94.50 187.24 L94.75 187.20 L95.00 187.26 L95.25 187.34 L95.50 187.41 L95.75 187.45 L96.00 187.50 L96.25 187.57 L96.50 187.68 L96.75 187.91 L97.00 188.17 L97.25 188.35 L97.50 188.48 L97.75 188.51 L98.00 188.43 L98.25 188.32 L98.50 188.32 L98.75 188.40 L99.00 188.48 L99.25 188.59 L99.50 188.80 L99.75 188.93 L100.00 188.79 L100.25 188.46 L100.50 188.25 L100.75 188.38 L101.00 188.56 L101.25 188.55 L101.50 188.49 L101.75 188.58 L102.00 188.84 L102.25 189.09 L102.50 189.31 L102.75 189.49 L103.00 189.63 L103.25 189.73 L103.50 189.79 L103.75 189.78 L104.00 189.76 L104.25 189.76 L104.50 189.72 L104.75 189.62 L105.00 189.55 L105.25 189.57 L105.50 189.63 L105.75 189.73 L106.00 189.86 L106.25 190.04 L106.50 190.30 L106.75 190.61 L107.00 190.66 L107.25 190.25 L107.50 189.70 L107.75 189.48 L108.00 189.73 L108.25 190.05 L108.50 190.17 L108.75 190.21 L109.00 190.34 L109.25 190.55 L109.50 190.61 L109.75 190.48 L110.00 190.33 L110.25 190.43 L110.50 190.80 L110.75 191.12 L111.00 191.21 L111.25 191.05 L111.50 190.82 L111.75 190.64 L112.00 190.65 L112.25 190.87 L112.50 191.09 L112.75 191.27 L113.00 191.29 L113.25 191.08 L113.50 190.86 L113.75 190.90 L114.00 191.18 L114.25 191.47 L114.50 191.62 L114.75 191.70 L115.00 191.65 L115.25 191.46 L115.50 191.36 L115.75 191.46 L116.00 191.59 L116.25 191.54 L116.50 191.37 L116.75 191.44 L117.00 191.72 L117.25 191.85 L117.50 191.74 L117.75 191.57 L118.00 191.62 L118.25 191.83 L118.50 191.97 L118.75 192.05 L119.00 191.97 L119.25 191.92 L119.50 192.11 L119.75 192.50 L120.00 192.82 L120.25 192.86 L120.50 192.76 L120.75 192.68 L121.00 192.60 L121.25 192.52 L121.50 192.60 L121.75 192.74 L122.00 192.82 L122.25 192.82 L122.50 192.78 L122.75 192.74 L123.00 192.71 L123.25 192.72 L123.50 192.85 L123.75 192.98 L124.00 192.89 L124.25 192.63 L124.50 192.37 L124.75 192.40 L125.00 192.60 L125.25 192.68 L125.50 192.67 L125.75 192.75 L126.00 192.97 L126.25 193.20 L126.50 193.37 L126.75 193.41 L127.00 193.24 L127.25 193.05 L127.50 192.97 L127.75 193.03 L128.00 193.19 L128.25 193.33 L128.50 193.45 L128.75 193.45 L129.00 193.46 L129.25 193.62 L129.50 193.72 L129.75 193.63 L130.00 193.45 L130.25 193.32 L130.50 193.31 L130.75 193.28 L131.00 193.28 L131.25 193.44 L131.50 193.71 L131.75 193.93 L132.00 194.03 L132.25 194.05 L132.50 194.03 L132.75 193.99 L133.00 193.93 L133.25 193.85 L133.50 193.77 L133.75 193.66 L134.00 193.54 L134.25 193.47 L134.50 193.56 L134.75 193.73 L135.00 193.84 L135.25 193.90 L135.50 194.02 L135.75 194.26 L136.00 194.49 L136.25 194.53 L136.50 194.37 L136.75 194.31 L137.00 194.45 L137.25 194.54 L137.50 194.41 L137.75 194.20 L138.00 194.13 L138.25 194.27 L138.50 194.62 L138.75 195.00 L139.00 195.07 L139.25 194.83 L139.50 194.66 L139.75 194.81 L140.00 195.08 L140.25 195.25 L140.50 195.41 L140.75 195.52 L141.00 195.42 L141.25 195.06 L141.50 194.72 L141.75 194.64 L142.00 194.67 L142.25 194.74 L142.50 194.87 L142.75 194.97 L143.00 194.92 L143.25 194.75 L143.50 194.59 L143.75 194.45 L144.00 194.41 L144.25 194.61 L144.50 194.95 L144.75 195.12 L145.00 195.03 L145.25 194.97 L145.50 195.02 L145.75 195.20 L146.00 195.31 L146.25 195.31 L146.50 195.29 L146.75 195.26 L147.00 195.28 L147.25 195.16 L147.50 194.92 L147.75 194.72 L148.00 194.73 L148.25 194.86 L148.50 194.85 L148.75 194.76 L149.00 194.80 L149.25 195.04 L149.50 195.22 L149.75 195.15 L150.00 194.99 L150.25 194.98 L150.50 195.10 L150.75 195.15 L151.00 195.12 L151.25 195.02 L151.50 194.92 L151.75 194.83 L152.00 194.70 L152.25 194.58 L152.50 194.36 L152.75 194.22 L153.00 194.29 L153.25 194.37 L153.50 194.34 L153.75 194.17 L154.00 193.93 L154.25 193.82 L154.50 193.89 L154.75 193.98 L155.00 193.84 L155.25 193.34 L155.50 192.76 L155.75 192.14 L156.00 191.50 L156.25 190.92 L156.50 190.39 L156.75 189.85 L157.00 189.16 L157.25 188.37 L157.50 187.54 L157.75 186.51 L158.00 184.95 L158.25 182.56 L158.50 179.31 L158.75 175.04 L159.00 169.27 L159.25 161.25 L159.50 150.25 L159.75 135.66 L160.00 117.11 L160.25 95.36 L160.50 73.77 L160.75 58.55 L161.00 55.52 L161.25 65.40 L161.50 84.07 L161.75 105.76 L162.00 125.86 L162.25 142.30 L162.50 154.97 L162.75 164.60 L163.00 171.85 L163.25 177.09 L163.50 180.76 L163.75 183.45 L164.00 185.49 L164.25 187.12 L164.50 188.50 L164.75 189.65 L165.00 190.64 L165.25 191.36 L165.50 191.81 L165.75 192.09 L166.00 192.40 L166.25 193.04 L166.50 193.76 L166.75 194.21 L167.00 194.40 L167.25 194.52 L167.50 194.63 L167.75 194.57 L168.00 194.54 L168.25 194.66 L168.50 194.86 L168.75 195.16 L169.00 195.67 L169.25 196.25 L169.50 196.47 L169.75 196.26 L170.00 196.01 L170.25 195.99 L170.50 196.20 L170.75 196.55 L171.00 196.79 L171.25 196.73 L171.50 196.35 L171.75 196.04 L172.00 196.19 L172.25 196.57 L172.50 196.84 L172.75 196.92 L173.00 196.97 L173.25 197.11 L173.50 197.17 L173.75 197.15 L174.00 197.09 L174.25 197.02 L174.50 196.98 L174.75 196.88 L175.00 196.68 L175.25 196.55 L175.50 196.63 L175.75 196.87 L176.00 197.15 L176.25 197.32 L176.50 197.39 L176.75 197.44 L177.00 197.49 L177.25 197.59 L177.50 197.68 L177.75 197.80 L178.00 197.93 L178.25 197.85 L178.50 197.55 L178.75 197.20 L179.00 197.10 L179.25 197.21 L179.50 197.25 L179.75 197.18 L180.00 197.20 L180.25 197.41 L180.50 197.60 L180.75 197.47 L181.00 197.06 L181.25 196.79 L181.50 196.85 L181.75 197.00 L182.00 196.88 L182.25 196.58 L182.50 196.39 L182.75 196.38 L183.00 196.39 L183.25 196.35 L183.50 196.28 L183.75 196.08 L184.00 195.71 L184.25 195.06 L184.50 194.24 L184.75 193.45 L185.00 192.80 L185.25 192.23 L185.50 191.48 L185.75 190.20 L186.00 188.16 L186.25 185.35 L186.50 181.71 L186.75 176.85 L187.00 170.07 L187.25 161.21 L187.50 151.28 L187.75 142.24 L188.00 136.70 L188.25 136.48 L188.50 141.48 L188.75 150.08 L189.00 159.78 L189.25 168.60 L189.50 175.67 L189.75 181.08 L190.00 185.15 L190.25 188.08 L190.50 190.16 L190.75 191.63 L191.00 192.80 L191.25 193.80 L191.50 194.57 L191.75 195.11 L192.00 195.48 L192.25 195.87 L192.50 196.35 L192.75 196.64 L193.00 196.61 L193.25 196.57 L193.50 196.81 L193.75 197.34 L194.00 197.87 L194.25 198.27 L194.50 198.51 L194.75 198.61 L195.00 198.55 L195.25 198.41 L195.50 198.37 L195.75 198.46 L196.00 198.59 L196.25 198.65 L196.50 198.61 L196.75 198.48 L197.00 198.23 L197.25 197.95 L197.50 197.86 L197.75 198.07 L198.00 198.35 L198.25 198.44 L198.50 198.29 L198.75 198.13 L199.00 198.07 L199.25 198.05 L199.50 198.12 L199.75 198.22 L200.00 198.26 L200.25 198.15 L200.50 197.84 L200.75 197.33 L201.00 196.79 L201.25 196.50 L201.50 196.60 L201.75 196.87 L202.00 196.87 L202.25 196.71 L202.50 196.61 L202.75 196.51 L203.00 196.35 L203.25 196.25 L203.50 196.41 L203.75 196.66 L204.00 196.76 L204.25 196.90 L204.50 197.18 L204.75 197.49 L205.00 197.78 L205.25 198.05 L205.50 198.26 L205.75 198.35 L206.00 198.36 L206.25 198.42 L206.50 198.47 L206.75 198.43 L207.00 198.44 L207.25 198.52 L207.50 198.66 L207.75 198.83 L208.00 199.06 L208.25 199.34 L208.50 199.47 L208.75 199.47 L209.00 199.41 L209.25 199.36 L209.50 199.41 L209.75 199.49 L210.00 199.65 L210.25 199.76 L210.50 199.76 L210.75 199.66 L211.00 199.51 L211.25 199.43 L211.50 199.39 L211.75 199.45 L212.00 199.61 L212.25 199.80 L212.50 199.84 L212.75 199.70 L213.00 199.50 L213.25 199.41 L213.50 199.38 L213.75 199.30 L214.00 199.23 L214.25 199.31 L214.50 199.60 L214.75 199.92 L215.00 199.99 L215.25 199.85 L215.50 199.77 L215.75 199.85 L216.00 199.94 L216.25 199.90 L216.50 199.76 L216.75 199.60 L217.00 199.54 L217.25 199.66 L217.50 199.79 L217.75 199.79 L218.00 199.64 L218.25 199.41 L218.50 199.13 L218.75 198.87 L219.00 198.83 L219.25 199.09 L219.50 199.30 L219.75 199.21 L220.00 198.96 L220.25 198.79 L220.50 198.77 L220.75 198.65 L221.00 198.31 L221.25 197.89 L221.50 197.59 L221.75 197.67 L222.00 197.97 L222.25 198.16 L222.50 198.29 L222.75 198.40 L223.00 198.51 L223.25 198.70 L223.50 198.88 L223.75 198.91 L224.00 198.85 L224.25 198.94 L224.50 199.33 L224.75 199.76 L225.00 199.99 L225.25 200.07 L225.50 200.06 L225.75 199.92 L226.00 199.68 L226.25 199.50 L226.50 199.64 L226.75 199.99 L227.00 200.21 L227.25 200.28 L227.50 200.28 L227.75 200.28 L228.00 200.21 L228.25 200.20 L228.50 200.29 L228.75 200.39 L229.00 200.46 L229.25 200.46 L229.50 200.52 L229.75 200.60 L230.00 200.58 L230.25 200.57 L230.50 200.61 L230.75 200.61 L231.00 200.58 L231.25 200.67 L231.50 200.85 L231.75 200.88 L232.00 200.81 L232.25 200.79 L232.50 200.79 L232.75 200.69 L233.00 200.68 L233.25 200.97 L233.50 201.41 L233.75 201.58 L234.00 201.37 L234.25 201.07 L234.50 201.00 L234.75 201.01 L235.00 200.83 L235.25 200.64 L235.50 200.66 L235.75 200.81 L236.00 200.94 L236.25 200.97 L236.50 201.05 L236.75 201.18 L237.00 201.27 L237.25 201.23 L237.50 201.00 L237.75 200.78 L238.00 200.68 L238.25 200.67 L238.50 200.71 L238.75 200.73 L239.00 200.80 L239.25 200.87 L239.50 200.94 L239.75 201.03 L240.00 201.14 L240.25 201.24 L240.50 201.40 L240.75 201.59 L241.00 201.66 L241.25 201.44 L241.50 201.07 L241.75 200.89 L242.00 200.87 L242.25 200.85 L242.50 200.79 L242.75 200.86 L243.00 201.06 L243.25 201.03 L243.50 200.85 L243.75 200.90 L244.00 201.14 L244.25 201.26 L244.50 201.13 L244.75 201.01 L245.00 200.99 L245.25 200.97 L245.50 201.02 L245.75 201.08 L246.00 201.09 L246.25 201.03 L246.50 201.06 L246.75 201.19 L247.00 201.10 L247.25 200.93 L247.50 200.88 L247.75 200.99 L248.00 201.07 L248.25 200.83 L248.50 200.57 L248.75 200.70 L249.00 201.18 L249.25 201.57 L249.50 201.58 L249.75 201.34 L250.00 201.21 L250.25 201.33 L250.50 201.47 L250.75 201.45 L251.00 201.21 L251.25 201.11 L251.50 201.25 L251.75 201.35 L252.00 201.38 L252.25 201.36 L252.50 201.35 L252.75 201.31 L253.00 201.28 L253.25 201.30 L253.50 201.22 L253.75 201.11 L254.00 201.12 L254.25 201.26 L254.50 201.30 L254.75 201.26 L255.00 201.32 L255.25 201.38 L255.50 201.31 L255.75 201.05 L256.00 200.79 L256.25 200.82 L256.50 201.14 L256.75 201.50 L257.00 201.55 L257.25 201.33 L257.50 201.16 L257.75 201.17 L258.00 201.33 L258.25 201.43 L258.50 201.42 L258.75 201.34 L259.00 201.22 L259.25 201.14 L259.50 201.11 L259.75 201.02 L260.00 200.86 L260.25 200.82 L260.50 200.96 L260.75 201.09 L261.00 201.00 L261.25 200.90 L261.50 200.98 L261.75 201.17 L262.00 201.37 L262.25 201.33 L262.50 201.03 L262.75 200.75 L263.00 200.76 L263.25 200.99 L263.50 201.03 L263.75 200.87 L264.00 200.83 L264.25 200.94 L264.50 201.05 L264.75 200.99 L265.00 200.93 L265.25 200.87 L265.50 200.67 L265.75 200.38 L266.00 200.10 L266.25 199.98 L266.50 200.06 L266.75 200.25 L267.00 200.40 L267.25 200.30 L267.50 200.03 L267.75 199.79 L268.00 199.61 L268.25 199.52 L268.50 199.34 L268.75 199.03 L269.00 198.67 L269.25 198.37 L269.50 198.29 L269.75 198.23 L270.00 197.89 L270.25 197.29 L270.50 196.51 L270.75 195.66 L271.00 194.76 L271.25 193.57 L271.50 192.09 L271.75 190.26 L272.00 187.99 L272.25 185.19 L272.50 181.51 L272.75 176.29 L273.00 168.63 L273.25 157.91 L273.50 143.98 L273.75 127.28 L274.00 109.75 L274.25 95.43 L274.50 88.85 L274.75 90.84 L275.00 99.23 L275.25 112.26 L275.50 127.94 L275.75 143.45 L276.00 156.61 L276.25 166.96 L276.50 174.93 L276.75 180.86 L277.00 184.98 L277.25 187.84 L277.50 190.00 L277.75 191.71 L278.00 193.11 L278.25 194.31 L278.50 195.35 L278.75 196.25 L279.00 196.93 L279.25 197.44 L279.50 197.80 L279.75 198.14 L280.00 198.68 L280.25 199.30 L280.50 199.56 L280.75 199.39 L281.00 199.26 L281.25 199.61 L281.50 200.17 L281.75 200.47 L282.00 200.43 L282.25 200.25 L282.50 200.14 L282.75 200.19 L283.00 200.43 L283.25 200.71 L283.50 200.88 L283.75 200.92 L284.00 200.88 L284.25 200.76 L284.50 200.66 L284.75 200.64 L285.00 200.75 L285.25 200.99 L285.50 201.19 L285.75 201.20 L286.00 201.07 L286.25 201.15 L286.50 201.48 L286.75 201.70 L287.00 201.60 L287.25 201.48 L287.50 201.70 L287.75 202.11 L288.00 202.32 L288.25 202.20 L288.50 201.93 L288.75 201.72 L289.00 201.78 L289.25 202.10 L289.50 202.39 L289.75 202.37 L290.00 202.16 L290.25 201.97 L290.50 201.76 L290.75 201.54 L291.00 201.59 L291.25 201.87 L291.50 202.03 L291.75 202.02 L292.00 202.13 L292.25 202.32 L292.50 202.33 L292.75 202.13 L293.00 202.01 L293.25 202.00 L293.50 202.03 L293.75 202.15 L294.00 202.34 L294.25 202.50 L294.50 202.56 L294.75 202.51 L295.00 202.33 L295.25 202.08 L295.50 201.94 L295.75 201.99 L296.00 202.18 L296.25 202.47 L296.50 202.66 L296.75 202.68 L297.00 202.63 L297.25 202.47 L297.50 202.23 L297.75 201.96 L298.00 201.92 L298.25 202.09 L298.50 202.13 L298.75 202.03 L299.00 201.96 L299.25 202.01 L299.50 202.10 L299.75 202.09 L300.00 202.11 L300.25 202.29 L300.50 202.49 L300.75 202.48 L301.00 202.33 L301.25 202.22 L301.50 202.15 L301.75 202.09 L302.00 202.05 L302.25 202.17 L302.50 202.34 L302.75 202.35 L303.00 202.28 L303.25 202.25 L303.50 202.31 L303.75 202.27 L304.00 202.09 L304.25 202.05 L304.50 202.12 L304.75 202.27 L305.00 202.44 L305.25 202.55 L305.50 202.62 L305.75 202.57 L306.00 202.41 L306.25 202.26 L306.50 202.37 L306.75 202.71 L307.00 202.87 L307.25 202.67 L307.50 202.43 L307.75 202.26 L308.00 202.06 L308.25 201.88 L308.50 201.86 L308.75 201.95 L309.00 202.01 L309.25 202.05 L309.50 202.09 L309.75 202.13 L310.00 202.25 L310.25 202.56 L310.50 202.89 L310.75 202.93 L311.00 202.70 L311.25 202.46 L311.50 202.41 L311.75 202.49 L312.00 202.56 L312.25 202.59 L312.50 202.57 L312.75 202.54 L313.00 202.50 L313.25 202.44 L313.50 202.36 L313.75 202.33 L314.00 202.43 L314.25 202.68 L314.50 202.81 L314.75 202.70 L315.00 202.60 L315.25 202.65 L315.50 202.64 L315.75 202.37 L316.00 202.06 L316.25 201.90 L316.50 201.77 L316.75 201.61 L317.00 201.54 L317.25 201.64 L317.50 201.77 L317.75 201.88 L318.00 201.97 L318.25 202.04 L318.50 202.01 L318.75 202.02 L319.00 202.08 L319.25 202.04 L319.50 201.88 L319.75 201.78 L320.00 201.85 L320.25 201.79 L320.50 201.32 L320.75 200.67 L321.00 200.29 L321.25 200.27 L321.50 200.38 L321.75 200.32 L322.00 200.06 L322.25 199.79 L322.50 199.65 L322.75 199.63 L323.00 199.53 L323.25 199.31 L323.50 198.90 L323.75 198.24 L324.00 197.44 L324.25 196.61 L324.50 195.65 L324.75 194.40 L325.00 192.86 L325.25 190.96 L325.50 188.46 L325.75 184.90 L326.00 179.76 L326.25 172.48 L326.50 162.94 L326.75 151.49 L327.00 138.86 L327.25 127.07 L327.50 119.53 L327.75 118.37 L328.00 122.37 L328.25 129.46 L328.50 138.87 L328.75 149.68 L329.00 160.37 L329.25 169.75 L329.50 177.35 L329.75 183.08 L330.00 187.09 L330.25 189.95 L330.50 192.17 L330.75 193.97 L331.00 195.39 L331.25 196.44 L331.50 197.22 L331.75 197.87 L332.00 198.56 L332.25 199.21 L332.50 199.73 L332.75 200.05 L333.00 200.26 L333.25 200.45 L333.50 200.59 L333.75 200.73 L334.00 200.87 L334.25 201.00 L334.50 201.17 L334.75 201.44 L335.00 201.71 L335.25 201.78 L335.50 201.76 L335.75 201.80 L336.00 201.86 L336.25 201.89 L336.50 201.86 L336.75 201.80 L337.00 201.71 L337.25 201.67 L337.50 201.79 L337.75 201.85 L338.00 201.71 L338.25 201.50 L338.50 201.43 L338.75 201.67 L339.00 202.04 L339.25 202.22 L339.50 202.15 L339.75 202.03 L340.00 202.01 L340.25 201.90 L340.50 201.57 L340.75 201.27 L341.00 201.23 L341.25 201.29 L341.50 201.14 L341.75 200.75 L342.00 200.29 L342.25 199.70 L342.50 198.74 L342.75 197.40 L343.00 195.78 L343.25 193.83 L343.50 191.50 L343.75 189.17 L344.00 187.60 L344.25 187.32 L344.50 187.96 L344.75 189.01 L345.00 190.54 L345.25 192.69 L345.50 194.94 L345.75 196.71 L346.00 197.90 L346.25 198.82 L346.50 199.65 L346.75 200.32 L347.00 200.85 L347.25 201.26 L347.50 201.52 L347.75 201.62 L348.00 201.49 L348.25 201.30 L348.50 201.16 L348.75 201.16 L349.00 201.37 L349.25 201.76 L349.50 202.12 L349.75 202.27 L350.00 202.27 L350.25 202.32 L350.50 202.52 L350.75 202.76 L351.00 202.98 L351.25 203.27 L351.50 203.58 L351.75 203.83 L352.00 203.84 L352.25 203.52 L352.50 203.11 L352.75 202.92 L353.00 203.09 L353.25 203.21 L353.50 203.05 L353.75 202.86 L354.00 202.83 L354.25 202.89 L354.50 202.96 L354.75 203.12 L355.00 203.35 L355.25 203.44 L355.50 203.36 L355.75 203.25 L356.00 203.19 L356.25 203.16 L356.50 203.16 L356.75 203.11 L357.00 202.97 L357.25 202.71 L357.50 202.53 L357.75 202.62 L358.00 202.89 L358.25 203.17 L358.50 203.20 L358.75 203.14 L359.00 203.20 L359.25 203.34 L359.50 203.32 L359.75 203.08 L360.00 202.95 L360.25 202.96 L360.50 203.07 L360.75 203.25 L361.00 203.37 L361.25 203.32 L361.50 203.17 L361.75 203.14 L362.00 203.14 L362.25 203.09 L362.50 203.03 L362.75 202.90 L363.00 202.69 L363.25 202.60 L363.50 202.76 L363.75 203.03 L364.00 203.16 L364.25 203.16 L364.50 203.21 L364.75 203.32 L365.00 203.33 L365.25 203.07 L365.50 202.67 L365.75 202.45 L366.00 202.62 L366.25 203.12 L366.50 203.62 L366.75 203.83 L367.00 203.69 L367.25 203.41 L367.50 203.25 L367.75 203.31 L368.00 203.55 L368.25 203.67 L368.50 203.40 L368.75 202.85 L369.00 202.50 L369.25 202.71 L369.50 203.30 L369.75 203.79 L370.00 203.88 L370.25 203.61 L370.50 203.32 L370.75 203.27 L371.00 203.46 L371.25 203.68 L371.50 203.73 L371.75 203.62 L372.00 203.48 L372.25 203.42 L372.50 203.50 L372.75 203.57 L373.00 203.49 L373.25 203.38 L373.50 203.42 L373.75 203.57 L374.00 203.60 L374.25 203.49 L374.50 203.47 L374.75 203.63 L375.00 203.78 L375.25 203.79 L375.50 203.72 L375.75 203.69 L376.00 203.55 L376.25 203.31 L376.50 203.21 L376.75 203.41 L377.00 203.65 L377.25 203.60 L377.50 203.38 L377.75 203.30 L378.00 203.36 L378.25 203.41 L378.50 203.35 L378.75 203.20 L379.00 203.18 L379.25 203.39 L379.50 203.71 L379.75 203.98 L380.00 204.11 L380.25 204.09 L380.50 203.93 L380.75 203.65 L381.00 203.40 L381.25 203.37 L381.50 203.53 L381.75 203.71 L382.00 203.72 L382.25 203.64 L382.50 203.58 L382.75 203.46 L383.00 203.32 L383.25 203.31 L383.50 203.28 L383.75 203.10 L384.00 202.98 L384.25 203.21 L384.50 203.54 L384.75 203.55 L385.00 203.44 L385.25 203.61 L385.50 203.93 L385.75 203.97 L386.00 203.61 L386.25 203.25 L386.50 203.15 L386.75 203.22 L387.00 203.34 L387.25 203.46 L387.50 203.49 L387.75 203.39 L388.00 203.23 L388.25 203.22 L388.50 203.38 L388.75 203.52 L389.00 203.50 L389.25 203.41 L389.50 203.46 L389.75 203.67 L390.00 203.83 L390.25 203.87 L390.50 203.75 L390.75 203.62 L391.00 203.58 L391.25 203.66 L391.50 203.71 L391.75 203.54 L392.00 203.27 L392.25 203.05 L392.50 202.96 L392.75 203.13 L393.00 203.54 L393.25 203.92 L393.50 203.96 L393.75 203.71 L394.00 203.45 L394.25 203.38 L394.50 203.54 L394.75 203.75 L395.00 203.80 L395.25 203.68 L395.50 203.49 L395.75 203.33 L396.00 203.13 L396.25 203.04 L396.50 203.16 L396.75 203.32 L397.00 203.38 L397.25 203.42 L397.50 203.56 L397.75 203.58 L398.00 203.32 L398.25 203.04 L398.50 203.04 L398.75 203.24 L399.00 203.36 L399.25 203.32 L399.50 203.25 L399.75 203.18 L400.00 203.04 L400.25 202.94 L400.50 203.02 L400.75 203.28 L401.00 203.45 L401.25 203.37 L401.50 203.11 L401.75 202.84 L402.00 202.67 L402.25 202.53 L402.50 202.39 L402.75 202.32 L403.00 202.27 L403.25 202.22 L403.50 202.11 L403.75 201.88 L404.00 201.41 L404.25 200.44 L404.50 199.20 L404.75 197.88 L405.00 196.33 L405.25 194.38 L405.50 192.28 L405.75 190.79 L406.00 190.40 L406.25 190.89 L406.50 191.66 L406.75 192.44 L407.00 193.26 L407.25 194.33 L407.50 195.71 L407.75 197.25 L408.00 198.68 L408.25 199.76 L408.50 200.61 L408.75 201.36 L409.00 201.96 L409.25 202.31 L409.50 202.56 L409.75 202.81 L410.00 203.04 L410.25 203.25 L410.50 203.44 L410.75 203.44 L411.00 203.19 L411.25 202.88 L411.50 202.75 L411.75 202.87 L412.00 203.03 L412.25 203.21 L412.50 203.42 L412.75 203.56 L413.00 203.53 L413.25 203.48 L413.50 203.51 L413.75 203.61 L414.00 203.75 L414.25 203.89 L414.50 204.00 L414.75 203.87 L415.00 203.64 L415.25 203.45 L415.50 203.19 L415.75 203.04 L416.00 203.04 L416.25 203.10 L416.50 203.11 L416.75 203.03 L417.00 203.06 L417.25 203.16 L417.50 203.29 L417.75 203.54 L418.00 203.84 L418.25 204.18 L418.50 204.40 L418.75 204.25 L419.00 203.88 L419.25 203.67 L419.50 203.79 L419.75 204.03 L420.00 204.05 L420.25 203.88 L420.50 203.67 L420.75 203.62 L421.00 203.79 L421.25 204.04 L421.50 204.07 L421.75 203.81 L422.00 203.59 L422.25 203.58 L422.50 203.66 L422.75 203.76 L423.00 203.92 L423.25 204.12 L423.50 204.18 L423.75 203.94 L424.00 203.62 L424.25 203.54 L424.50 203.83 L424.75 204.23 L425.00 204.18 L425.25 203.72 L425.50 203.39 L425.75 203.53 L426.00 203.89 L426.25 204.04 L426.50 203.85 L426.75 203.54 L427.00 203.42 L427.25 203.60 L427.50 203.84 L427.75 203.88 L428.00 203.76 L428.25 203.82 L428.50 204.05 L428.75 204.13 L429.00 203.99 L429.25 203.81 L429.50 203.78 L429.75 203.75 L430.00 203.61 L430.25 203.47 L430.50 203.44 L430.75 203.45 L431.00 203.43 L431.25 203.42 L431.50 203.50 L431.75 203.57 L432.00 203.61 L432.25 203.74 L432.50 203.94 L432.75 204.06 L433.00 203.91 L433.25 203.77 L433.50 203.85 L433.75 203.88 L434.00 203.63 L434.25 203.24 L434.50 203.15 L434.75 203.45 L435.00 203.72 L435.25 203.79 L435.50 203.85 L435.75 203.99 L436.00 204.08 L436.25 203.95 L436.50 203.72 L436.75 203.51 L437.00 203.39 L437.25 203.35 L437.50 203.25 L437.75 203.14 L438.00 203.22 L438.25 203.64 L438.50 204.17 L438.75 204.30 L439.00 203.92 L439.25 203.39 L439.50 203.16 L439.75 203.41 L440.00 203.80 L440.25 203.92 L440.50 203.70 L440.75 203.29 L441.00 203.05 L441.25 203.20 L441.50 203.50 L441.75 203.59 L442.00 203.40 L442.25 203.19 L442.50 203.17 L442.75 203.25 L443.00 203.37 L443.25 203.43 L443.50 203.38 L443.75 203.28 L444.00 203.22 L444.25 203.12 L444.50 202.95 L444.75 202.76 L445.00 202.58 L445.25 202.52 L445.50 202.55 L445.75 202.59 L446.00 202.55 L446.25 202.39 L446.50 202.19 L446.75 201.88 L447.00 201.41 L447.25 200.78 L447.50 200.00 L447.75 199.09 L448.00 197.89 L448.25 196.14 L448.50 193.65 L448.75 190.47 L449.00 186.62 L449.25 182.19 L449.50 178.18 L449.75 176.19 L450.00 176.76 L450.25 178.75 L450.50 180.93 L450.75 182.98 L451.00 184.97 L451.25 187.21 L451.50 189.85 L451.75 192.65 L452.00 195.26 L452.25 197.42 L452.50 199.08 L452.75 200.14 L453.00 200.72 L453.25 201.15 L453.50 201.52 L453.75 201.75 L454.00 201.83 L454.25 201.91 L454.50 202.07 L454.75 202.21 L455.00 202.33 L455.25 202.53 L455.50 202.82 L455.75 202.92 L456.00 202.76 L456.25 202.61 L456.50 202.66 L456.75 202.73 L457.00 202.65 L457.25 202.58 L457.50 202.74 L457.75 203.04 L458.00 203.27 L458.25 203.38 L458.50 203.44 L458.75 203.48 L459.00 203.48 L459.25 203.39 L459.50 203.26 L459.75 203.16 L460.00 203.07 L460.25 203.00 L460.50 202.98 L460.75 202.91 L461.00 202.68 L461.25 202.23 L461.50 201.69 L461.75 201.05 L462.00 200.16 L462.25 199.04 L462.50 197.80 L462.75 196.41 L463.00 194.54 L463.25 191.89 L463.50 188.89 L463.75 186.51 L464.00 185.76 L464.25 186.69 L464.50 188.20 L464.75 189.39 L465.00 190.06 L465.25 190.83 L465.50 192.22 L465.75 194.12 L466.00 196.12 L466.25 197.92 L466.50 199.38 L466.75 200.42 L467.00 201.09 L467.25 201.58 L467.50 201.96 L467.75 202.24 L468.00 202.41 L468.25 202.59 L468.50 202.79 L468.75 202.87 L469.00 203.07 L469.25 203.54 L469.50 203.91 L469.75 203.75 L470.00 203.26 L470.25 203.10 L470.50 203.36 L470.75 203.74 L471.00 203.96 L471.25 203.95 L471.50 203.90 L471.75 203.91 L472.00 204.05 L472.25 204.17 L472.50 204.16 L472.75 204.05 L473.00 203.82 L473.25 203.65 L473.50 203.57 L473.75 203.56 L474.00 203.53 L474.25 203.59 L474.50 203.80 L474.75 203.92 L475.00 203.93 L475.25 203.86 L475.50 203.84 L475.75 203.96 L476.00 204.03 L476.25 204.09 L476.50 204.15 L476.75 204.21 L477.00 204.34 L477.25 204.41 L477.50 204.36 L477.75 204.21 L478.00 204.09 L478.25 204.13 L478.50 204.27 L478.75 204.38 L479.00 204.36 L479.25 204.23 L479.50 204.08 L479.75 204.06 L480.00 204.22 L480.25 204.44 L480.50 204.56 L480.75 204.45 L481.00 204.29 L481.25 204.21 L481.50 204.13 L481.75 204.07 L482.00 204.17 L482.25 204.40 L482.50 204.49 L482.75 204.41 L483.00 204.32 L483.25 204.19 L483.50 204.05 L483.75 204.09 L484.00 204.20 L484.25 204.17 L484.50 204.04 L484.75 203.96 L485.00 203.96 L485.25 204.02 L485.50 204.17 L485.75 204.36 L486.00 204.40 L486.25 204.29 L486.50 204.25 L486.75 204.26 L487.00 204.25 L487.25 204.24 L487.50 204.20 L487.75 204.29 L488.00 204.57 L488.25 204.92 L488.50 205.03 L488.75 204.70 L489.00 204.27 L489.25 204.02 L489.50 204.08 L489.75 204.36 L490.00 204.66 L490.25 204.75 L490.50 204.56 L490.75 204.31 L491.00 204.14 L491.25 204.13 L491.50 204.17 L491.75 204.13 L492.00 204.04 L492.25 203.99 L492.50 204.01 L492.75 204.07 L493.00 204.19 L493.25 204.30 L493.50 204.31 L493.75 204.21 L494.00 204.18 L494.25 204.29 L494.50 204.45 L494.75 204.44 L495.00 204.15 L495.25 203.89 L495.50 204.00 L495.75 204.38 L496.00 204.60 L496.25 204.55 L496.50 204.43 L496.75 204.27 L497.00 204.03 L497.25 203.86 L497.50 203.95 L497.75 204.26 L498.00 204.53 L498.25 204.60 L498.50 204.50 L498.75 204.28 L499.00 204.07 L499.25 204.04 L499.50 204.09 L499.75 204.14 L500.00 204.17 L500.25 204.17 L500.50 204.38 L500.75 204.70 L501.00 204.82 L501.25 204.50 L501.50 203.95 L501.75 203.66 L502.00 203.67 L502.25 203.87 L502.50 204.19 L502.75 204.45 L503.00 204.46 L503.25 204.25 L503.50 204.02 L503.75 203.85 L504.00 203.71 L504.25 203.71 L504.50 203.96 L504.75 204.42 L505.00 204.85 L505.25 204.96 L505.50 204.71 L505.75 204.38 L506.00 204.12 L506.25 204.02 L506.50 204.03 L506.75 204.16 L507.00 204.37 L507.25 204.47 L507.50 204.37 L507.75 204.16 L508.00 204.09 L508.25 204.22 L508.50 204.45 L508.75 204.41 L509.00 204.13 L509.25 203.87 L509.50 203.91 L509.75 204.32 L510.00 204.70 L510.25 204.68 L510.50 204.28 L510.75 203.96 L511.00 203.96 L511.25 204.12 L511.50 204.26 L511.75 204.33 L512.00 204.34 L512.25 204.28 L512.50 204.46 L512.75 204.80 L513.00 205.03 L513.25 204.91 L513.50 204.46 L513.75 204.08 L514.00 203.93 L514.25 204.02 L514.50 204.10 L514.75 203.97 L515.00 203.80 L515.25 203.72 L515.50 203.69 L515.75 203.61 L516.00 203.39 L516.25 203.06 L516.50 202.80 L516.75 202.62 L517.00 202.46 L517.25 202.14 L517.50 201.58 L517.75 200.90 L518.00 200.10 L518.25 199.07 L518.50 197.64 L518.75 195.70 L519.00 193.08 L519.25 189.71 L519.50 186.03 L519.75 182.81 L520.00 181.06 L520.25 181.24 L520.50 182.80 L520.75 184.78 L521.00 186.37 L521.25 187.31 L521.50 187.99 L521.75 189.10 L522.00 191.02 L522.25 193.32 L522.50 195.47 L522.75 197.41 L523.00 199.08 L523.25 200.39 L523.50 201.11 L523.75 201.37 L524.00 201.77 L524.25 202.50 L524.50 203.16 L524.75 203.26 L525.00 203.01 L525.25 203.08 L525.50 203.41 L525.75 203.57 L526.00 203.48 L526.25 203.49 L526.50 203.79 L526.75 204.13 L527.00 204.30 L527.25 204.31 L527.50 204.20 L527.75 204.08 L528.00 204.01" stroke="#000080" />
</g>
<g stroke="#000" stroke-width="2.2"><line x1="160.80" y1="406" x2="160.80" y2="349.3"/><line x1="187.98" y1="406" x2="187.98" y2="384"/><line x1="274.38" y1="406" x2="274.38" y2="373.5"/><line x1="327.48" y1="406" x2="327.48" y2="378.5"/><line x1="344.04" y1="406" x2="344.04" y2="395.3"/><line x1="405.90" y1="406" x2="405.90" y2="395"/><line x1="449.70" y1="406" x2="449.70" y2="391.9"/><line x1="463.92" y1="406" x2="463.92" y2="394.8"/><line x1="520.02" y1="406" x2="520.02" y2="392.5"/></g>
<g stroke="#000" stroke-width="2"><line x1="49.50" y1="425" x2="49.50" y2="417.5"/><line x1="79.50" y1="425" x2="79.50" y2="421.5"/><line x1="109.50" y1="425" x2="109.50" y2="417.5"/><line x1="139.50" y1="425" x2="139.50" y2="421.5"/><line x1="169.50" y1="425" x2="169.50" y2="417.5"/><line x1="199.50" y1="425" x2="199.50" y2="421.5"/><line x1="229.50" y1="425" x2="229.50" y2="417.5"/><line x1="259.50" y1="425" x2="259.50" y2="421.5"/><line x1="289.50" y1="425" x2="289.50" y2="417.5"/><line x1="319.50" y1="425" x2="319.50" y2="421.5"/><line x1="349.50" y1="425" x2="349.50" y2="417.5"/><line x1="379.50" y1="425" x2="379.50" y2="421.5"/><line x1="409.50" y1="425" x2="409.50" y2="417.5"/><line x1="439.50" y1="425" x2="439.50" y2="421.5"/><line x1="469.50" y1="425" x2="469.50" y2="417.5"/><line x1="499.50" y1="425" x2="499.50" y2="421.5"/><line x1="529.50" y1="425" x2="529.50" y2="417.5"/></g>
<g fill="none" stroke="#000">
<rect x="49.35" y="16.3" width="479.9" height="409.2" stroke-width="2.6"/>
<line x1="49.35" y1="406.1" x2="529.25" y2="406.1" stroke-width="2.4"/>
</g>
<g fill="#000"><path d="M203.2 176.7 L210.0 183.5 L203.2 190.3 L196.39999999999998 183.5 Z"/><path d="M221.5 177.7 L228.3 184.5 L221.5 191.3 L214.7 184.5 Z"/><path d="M203.2 209.0 L210.0 215.8 L203.2 222.60000000000002 L196.39999999999998 215.8 Z"/><path d="M221.5 210.1 L228.3 216.9 L221.5 223.70000000000002 L214.7 216.9 Z"/><path d="M204.0 247.2 L210.8 254 L204.0 260.8 L197.2 254 Z"/><path d="M221.3 248.2 L228.10000000000002 255 L221.3 261.8 L214.5 255 Z"/>
<path d="M349.6 38.5 L356.2 45.1 L349.6 51.7 L343 45.1 Z"/>
</g>
<g font-size="21.7" fill="#000">
<text transform="translate(0 172.3) scale(1 1.03)" x="57.9" y="0">17%CuCe</text>
<text transform="translate(0 210.8) scale(1 1.03)" x="58.6" y="0">14%CuCe</text>
<text transform="translate(0 248.6) scale(1 1.03)" x="60.1" y="0">9%CuCe</text>
<text transform="translate(0 283.6) scale(1 1.03)" x="60.1" y="0">5%CuCe</text>
<text transform="translate(0 312.7) scale(1 1.03)" x="62.8" y="0">1%CuCe</text>
<text transform="translate(0 337.2) scale(1 1.03)" x="62.3" y="0">CeO<tspan font-size="14" dy="9.2">2</tspan></text>
</g>
<g font-size="21.8" fill="#000">
<text transform="translate(49.20 450.7) scale(1 1.045)" x="0" y="0" text-anchor="middle">10</text><text transform="translate(109.20 450.7) scale(1 1.045)" x="0" y="0" text-anchor="middle">20</text><text transform="translate(169.20 450.7) scale(1 1.045)" x="0" y="0" text-anchor="middle">30</text><text transform="translate(229.20 450.7) scale(1 1.045)" x="0" y="0" text-anchor="middle">40</text><text transform="translate(289.20 450.7) scale(1 1.045)" x="0" y="0" text-anchor="middle">50</text><text transform="translate(349.20 450.7) scale(1 1.045)" x="0" y="0" text-anchor="middle">60</text><text transform="translate(409.20 450.7) scale(1 1.045)" x="0" y="0" text-anchor="middle">70</text><text transform="translate(469.20 450.7) scale(1 1.045)" x="0" y="0" text-anchor="middle">80</text><text transform="translate(529.20 450.7) scale(1 1.045)" x="0" y="0" text-anchor="middle">90</text>
</g>
<g font-size="21.4" fill="#000">
<text transform="translate(0 476.6) scale(1 1.03)" x="207.1" y="0" textLength="151.6" lengthAdjust="spacingAndGlyphs">2 Theta/degree</text>
</g>
<g font-size="22" fill="#000">
<text transform="translate(23.1 290.4) rotate(-90)" x="0" y="0" textLength="162.6" lengthAdjust="spacingAndGlyphs">Intensity/ (.a.u.)</text>
</g>
<g font-size="22" fill="#ff0000">
<text transform="translate(0 51.8) scale(1 1.08)" x="363.4" y="0" textLength="155" lengthAdjust="spacingAndGlyphs">CuO #044-0706</text>
</g>
<g font-size="21.3" fill="#ff0000">
<text transform="translate(0 385.1) scale(1 1.04)" x="365.8" y="0">CeO<tspan font-size="13.6" dy="8.4">2</tspan><tspan dy="-8.4"># 034-0394</tspan></text>
</g>
</svg>
</body></html>
